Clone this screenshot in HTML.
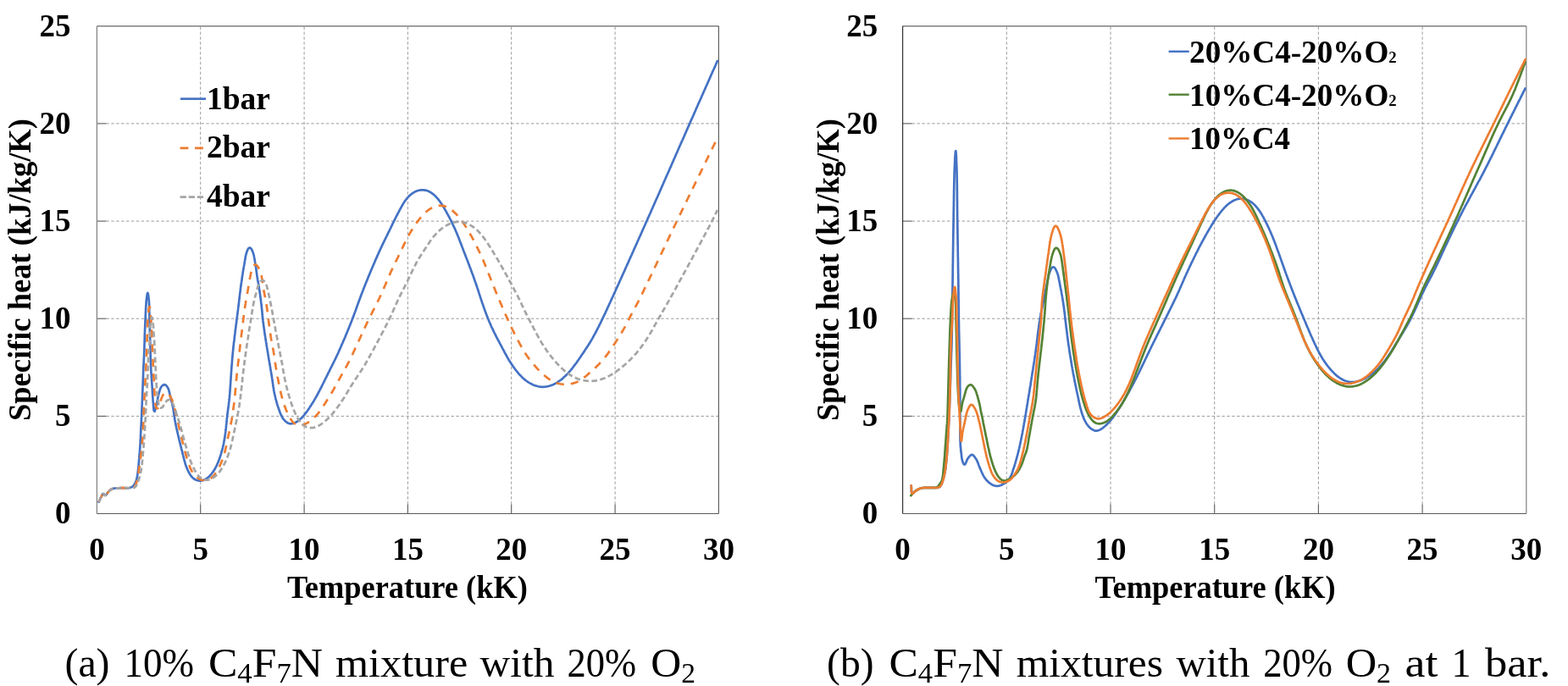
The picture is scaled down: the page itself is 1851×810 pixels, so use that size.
<!DOCTYPE html>
<html><head><meta charset="utf-8"><title>Specific heat of C4F7N mixtures</title>
<style>html,body{margin:0;padding:0;background:#fff;overflow:hidden}svg{display:block}</style></head>
<body><svg width="1851" height="810" viewBox="0 0 1851 810">
<rect width="1851" height="810" fill="#fff"/>
<line x1="125.4" y1="491.4" x2="848.4" y2="491.4" stroke="#9a9a9a" stroke-width="1" stroke-dasharray="3.4 2.5"/>
<line x1="125.4" y1="376.2" x2="848.4" y2="376.2" stroke="#9a9a9a" stroke-width="1" stroke-dasharray="3.4 2.5"/>
<line x1="125.4" y1="261.1" x2="848.4" y2="261.1" stroke="#9a9a9a" stroke-width="1" stroke-dasharray="3.4 2.5"/>
<line x1="125.4" y1="145.9" x2="848.4" y2="145.9" stroke="#9a9a9a" stroke-width="1" stroke-dasharray="3.4 2.5"/>
<line x1="236.7" y1="595.5" x2="236.7" y2="30.8" stroke="#9a9a9a" stroke-width="1" stroke-dasharray="3.4 2.5"/>
<line x1="359.1" y1="595.5" x2="359.1" y2="30.8" stroke="#9a9a9a" stroke-width="1" stroke-dasharray="3.4 2.5"/>
<line x1="481.4" y1="595.5" x2="481.4" y2="30.8" stroke="#9a9a9a" stroke-width="1" stroke-dasharray="3.4 2.5"/>
<line x1="603.7" y1="595.5" x2="603.7" y2="30.8" stroke="#9a9a9a" stroke-width="1" stroke-dasharray="3.4 2.5"/>
<line x1="726.1" y1="595.5" x2="726.1" y2="30.8" stroke="#9a9a9a" stroke-width="1" stroke-dasharray="3.4 2.5"/>
<line x1="114.4" y1="491.4" x2="125.4" y2="491.4" stroke="#595959" stroke-width="1.1"/>
<line x1="114.4" y1="376.2" x2="125.4" y2="376.2" stroke="#595959" stroke-width="1.1"/>
<line x1="114.4" y1="261.1" x2="125.4" y2="261.1" stroke="#595959" stroke-width="1.1"/>
<line x1="114.4" y1="145.9" x2="125.4" y2="145.9" stroke="#595959" stroke-width="1.1"/>
<line x1="236.7" y1="606.5" x2="236.7" y2="595.5" stroke="#595959" stroke-width="1.1"/>
<line x1="359.1" y1="606.5" x2="359.1" y2="595.5" stroke="#595959" stroke-width="1.1"/>
<line x1="481.4" y1="606.5" x2="481.4" y2="595.5" stroke="#595959" stroke-width="1.1"/>
<line x1="603.7" y1="606.5" x2="603.7" y2="595.5" stroke="#595959" stroke-width="1.1"/>
<line x1="726.1" y1="606.5" x2="726.1" y2="595.5" stroke="#595959" stroke-width="1.1"/>
<line x1="114.4" y1="30.8" x2="848.4" y2="30.8" stroke="#666666" stroke-width="1.2"/>
<line x1="114.4" y1="30.8" x2="114.4" y2="606.5" stroke="#808080" stroke-width="1.2"/>
<line x1="848.4" y1="30.8" x2="848.4" y2="606.5" stroke="#5f5f5f" stroke-width="1.2"/>
<line x1="114.4" y1="606.5" x2="848.4" y2="606.5" stroke="#595959" stroke-width="1.2"/>
<text x="83.5" y="618.3" text-anchor="end" font-size="37" font-family="'Liberation Serif','Times New Roman',serif" font-weight="bold">0</text>
<text x="83.5" y="503.2" text-anchor="end" font-size="37" font-family="'Liberation Serif','Times New Roman',serif" font-weight="bold">5</text>
<text x="83.5" y="388.0" text-anchor="end" font-size="37" font-family="'Liberation Serif','Times New Roman',serif" font-weight="bold">10</text>
<text x="83.5" y="272.9" text-anchor="end" font-size="37" font-family="'Liberation Serif','Times New Roman',serif" font-weight="bold">15</text>
<text x="83.5" y="157.7" text-anchor="end" font-size="37" font-family="'Liberation Serif','Times New Roman',serif" font-weight="bold">20</text>
<text x="83.5" y="42.6" text-anchor="end" font-size="37" font-family="'Liberation Serif','Times New Roman',serif" font-weight="bold">25</text>
<text x="114.4" y="660.5" text-anchor="middle" font-size="37" font-family="'Liberation Serif','Times New Roman',serif" font-weight="bold">0</text>
<text x="236.7" y="660.5" text-anchor="middle" font-size="37" font-family="'Liberation Serif','Times New Roman',serif" font-weight="bold">5</text>
<text x="359.1" y="660.5" text-anchor="middle" font-size="37" font-family="'Liberation Serif','Times New Roman',serif" font-weight="bold">10</text>
<text x="481.4" y="660.5" text-anchor="middle" font-size="37" font-family="'Liberation Serif','Times New Roman',serif" font-weight="bold">15</text>
<text x="603.7" y="660.5" text-anchor="middle" font-size="37" font-family="'Liberation Serif','Times New Roman',serif" font-weight="bold">20</text>
<text x="726.1" y="660.5" text-anchor="middle" font-size="37" font-family="'Liberation Serif','Times New Roman',serif" font-weight="bold">25</text>
<text x="848.4" y="660.5" text-anchor="middle" font-size="37" font-family="'Liberation Serif','Times New Roman',serif" font-weight="bold">30</text>
<text x="480.9" y="705.8" text-anchor="middle" font-size="38" font-family="'Liberation Serif','Times New Roman',serif" font-weight="bold" textLength="284" lengthAdjust="spacingAndGlyphs">Temperature (kK)</text>
<text transform="translate(36.2,318.6) rotate(-90)" x="0" y="0" text-anchor="middle" font-size="38" font-family="'Liberation Serif','Times New Roman',serif" font-weight="bold" textLength="357" lengthAdjust="spacingAndGlyphs">Specific heat (kJ/kg/K)</text>
<path d="M116.6,592.6 L117.2,591.2 L117.9,589.9 L118.5,588.5 L119.2,587.2 L119.9,585.8 L120.5,584.5 L121.3,583.2 L122.4,583.1 L123.3,584.3 L124.4,585.0 L125.5,584.2 L126.3,582.9 L127.1,581.7 L128.0,580.5 L129.1,579.5 L130.2,578.5 L131.5,577.7 L132.8,577.1 L134.3,576.7 L135.8,576.5 L137.3,576.4 L138.8,576.3 L140.3,576.3 L141.8,576.2 L143.3,576.2 L144.8,576.2 L146.3,576.2 L147.8,576.3 L149.3,576.3 L150.8,576.3 L152.3,576.1 L153.7,575.8 L155.1,575.3 L156.4,574.6 L157.5,573.5 L158.4,572.3 L159.2,571.0 L159.8,569.7 L160.4,568.3 L160.9,566.9 L161.3,565.5 L161.7,564.0 L161.9,562.5 L162.2,561.0 L162.4,559.6 L162.6,558.1 L162.8,556.6 L163.0,555.1 L163.2,553.6 L163.4,552.1 L163.5,550.6 L163.6,549.1 L163.8,547.6 L163.9,546.2 L164.0,544.7 L164.1,543.2 L164.3,541.7 L164.4,540.2 L164.5,538.7 L164.6,537.2 L164.7,535.7 L164.9,534.2 L165.0,532.7 L165.1,531.2 L165.2,529.7 L165.3,528.2 L165.4,526.7 L165.5,525.2 L165.6,523.7 L165.7,522.2 L165.7,520.7 L165.8,519.2 L165.9,517.7 L166.0,516.2 L166.0,514.7 L166.1,513.2 L166.2,511.7 L166.2,510.2 L166.3,508.7 L166.4,507.2 L166.4,505.7 L166.5,504.2 L166.6,502.7 L166.7,501.2 L166.7,499.7 L166.8,498.2 L166.9,496.7 L167.0,495.2 L167.0,493.7 L167.1,492.3 L167.2,490.8 L167.2,489.3 L167.3,487.8 L167.4,486.3 L167.4,484.8 L167.5,483.3 L167.5,481.8 L167.6,480.3 L167.7,478.8 L167.7,477.3 L167.8,475.8 L167.8,474.3 L167.9,472.8 L168.0,471.3 L168.0,469.8 L168.1,468.3 L168.1,466.8 L168.2,465.3 L168.2,463.8 L168.3,462.3 L168.4,460.8 L168.4,459.3 L168.5,457.8 L168.5,456.3 L168.6,454.8 L168.6,453.3 L168.7,451.8 L168.8,450.3 L168.8,448.8 L168.9,447.3 L168.9,445.8 L169.0,444.3 L169.0,442.8 L169.1,441.3 L169.1,439.8 L169.2,438.3 L169.2,436.8 L169.3,435.3 L169.3,433.8 L169.4,432.3 L169.5,430.8 L169.6,429.3 L169.7,427.8 L169.7,426.3 L169.8,424.8 L169.9,423.3 L170.0,421.8 L170.1,420.3 L170.1,418.8 L170.2,417.3 L170.2,415.8 L170.3,414.3 L170.4,412.8 L170.4,411.3 L170.4,409.8 L170.5,408.3 L170.5,406.8 L170.6,405.3 L170.6,403.8 L170.7,402.3 L170.7,400.8 L170.7,399.3 L170.8,397.8 L170.8,396.3 L170.9,394.8 L170.9,393.3 L171.0,391.8 L171.0,390.3 L171.1,388.8 L171.2,387.3 L171.2,385.8 L171.3,384.3 L171.3,382.8 L171.4,381.3 L171.5,379.8 L171.5,378.3 L171.6,376.8 L171.7,375.3 L171.7,373.8 L171.8,372.3 L171.9,370.8 L171.9,369.3 L172.0,367.9 L172.1,366.4 L172.1,364.9 L172.2,363.4 L172.3,361.9 L172.4,360.4 L172.5,358.9 L172.6,357.4 L172.7,355.9 L172.8,354.4 L173.0,352.9 L173.2,351.4 L173.4,349.9 L173.6,348.4 L173.8,346.9 L174.3,345.8 L174.9,347.3 L175.1,348.8 L175.3,350.3 L175.5,351.8 L175.6,353.3 L175.8,354.8 L175.9,356.3 L176.0,357.8 L176.1,359.3 L176.1,360.8 L176.2,362.3 L176.2,363.8 L176.2,365.3 L176.2,366.8 L176.3,368.3 L176.3,369.7 L176.4,371.2 L176.4,372.7 L176.4,374.2 L176.5,375.7 L176.5,377.2 L176.6,378.7 L176.6,380.2 L176.7,381.7 L176.7,383.2 L176.7,384.7 L176.8,386.2 L176.8,387.7 L176.9,389.2 L176.9,390.7 L176.9,392.2 L177.0,393.7 L177.0,395.2 L177.1,396.7 L177.1,398.2 L177.1,399.7 L177.2,401.2 L177.2,402.7 L177.3,404.2 L177.3,405.7 L177.3,407.2 L177.4,408.7 L177.4,410.2 L177.5,411.7 L177.5,413.2 L177.5,414.7 L177.6,416.2 L177.6,417.7 L177.7,419.2 L177.7,420.7 L177.7,422.2 L177.8,423.7 L177.8,425.2 L177.9,426.7 L177.9,428.2 L178.0,429.7 L178.0,431.2 L178.1,432.7 L178.2,434.2 L178.2,435.7 L178.3,437.2 L178.4,438.7 L178.5,440.2 L178.6,441.7 L178.7,443.2 L178.8,444.7 L178.9,446.2 L179.0,447.7 L179.1,449.2 L179.2,450.7 L179.3,452.2 L179.4,453.7 L179.5,455.2 L179.6,456.7 L179.7,458.2 L179.8,459.7 L179.9,461.2 L179.9,462.7 L180.0,464.2 L180.1,465.7 L180.2,467.2 L180.3,468.7 L180.4,470.2 L180.5,471.6 L180.6,473.1 L180.7,474.6 L180.9,476.1 L181.0,477.6 L181.1,479.1 L181.2,480.6 L181.3,482.1 L181.5,483.6 L181.7,485.1 L182.6,485.8 L183.1,484.4 L183.5,482.9 L183.8,481.5 L184.2,480.0 L184.5,478.6 L184.9,477.1 L185.2,475.6 L185.5,474.2 L185.8,472.7 L186.1,471.2 L186.3,469.8 L186.6,468.3 L187.0,466.8 L187.3,465.4 L187.7,463.9 L188.2,462.5 L188.6,461.0 L189.0,459.6 L189.6,458.2 L190.3,456.9 L191.3,455.7 L192.4,454.8 L193.7,454.1 L195.1,454.3 L196.3,455.3 L197.2,456.4 L198.0,457.7 L198.7,459.0 L199.2,460.4 L199.6,461.9 L200.0,463.3 L200.3,464.8 L200.7,466.3 L201.0,467.7 L201.4,469.2 L201.8,470.6 L202.1,472.1 L202.5,473.5 L202.8,475.0 L203.2,476.4 L203.5,477.9 L203.8,479.4 L204.1,480.8 L204.4,482.3 L204.7,483.8 L204.9,485.3 L205.1,486.8 L205.3,488.3 L205.5,489.7 L205.8,491.2 L206.0,492.7 L206.2,494.2 L206.4,495.7 L206.7,497.2 L206.9,498.6 L207.2,500.1 L207.5,501.6 L207.8,503.0 L208.1,504.5 L208.4,506.0 L208.8,507.4 L209.1,508.9 L209.5,510.4 L209.8,511.8 L210.1,513.3 L210.5,514.7 L210.8,516.2 L211.2,517.7 L211.5,519.1 L211.9,520.6 L212.2,522.0 L212.6,523.5 L212.9,524.9 L213.3,526.4 L213.7,527.9 L214.0,529.3 L214.4,530.8 L214.8,532.2 L215.2,533.7 L215.5,535.1 L215.9,536.6 L216.2,538.0 L216.6,539.5 L217.0,541.0 L217.3,542.4 L217.7,543.9 L218.1,545.3 L218.5,546.7 L218.9,548.2 L219.4,549.6 L219.9,551.0 L220.5,552.4 L221.1,553.8 L221.7,555.2 L222.3,556.5 L223.0,557.8 L223.7,559.2 L224.5,560.4 L225.3,561.7 L226.3,562.9 L227.3,564.0 L228.4,564.9 L229.6,565.8 L231.0,566.5 L232.3,567.0 L233.8,567.4 L235.2,567.6 L236.7,567.6 L238.2,567.4 L239.6,567.1 L241.0,566.6 L242.4,565.9 L243.6,565.2 L244.9,564.3 L246.0,563.4 L247.1,562.4 L248.2,561.3 L249.2,560.2 L250.1,559.0 L251.0,557.8 L251.9,556.6 L252.7,555.3 L253.5,554.0 L254.2,552.7 L254.9,551.4 L255.6,550.1 L256.2,548.7 L256.8,547.3 L257.4,546.0 L257.9,544.6 L258.5,543.2 L259.0,541.8 L259.5,540.3 L260.0,538.9 L260.4,537.5 L260.9,536.1 L261.3,534.6 L261.7,533.2 L262.1,531.7 L262.5,530.3 L262.9,528.8 L263.2,527.4 L263.5,525.9 L263.9,524.5 L264.2,523.0 L264.4,521.5 L264.7,520.0 L265.0,518.6 L265.2,517.1 L265.5,515.6 L265.7,514.1 L265.9,512.6 L266.1,511.1 L266.3,509.7 L266.4,508.2 L266.6,506.7 L266.8,505.2 L266.9,503.7 L267.1,502.2 L267.2,500.7 L267.4,499.2 L267.5,497.7 L267.7,496.2 L267.8,494.7 L268.0,493.2 L268.2,491.8 L268.3,490.3 L268.5,488.8 L268.7,487.3 L268.9,485.8 L269.1,484.3 L269.3,482.8 L269.5,481.3 L269.7,479.8 L269.9,478.4 L270.0,476.9 L270.2,475.4 L270.4,473.9 L270.5,472.4 L270.7,470.9 L270.9,469.4 L271.0,467.9 L271.1,466.4 L271.3,464.9 L271.4,463.4 L271.5,461.9 L271.6,460.4 L271.7,459.0 L271.8,457.5 L271.9,456.0 L272.0,454.5 L272.1,453.0 L272.2,451.5 L272.3,450.0 L272.4,448.5 L272.5,447.0 L272.6,445.5 L272.7,444.0 L272.8,442.5 L272.9,441.0 L273.0,439.5 L273.1,438.0 L273.2,436.5 L273.3,435.0 L273.4,433.5 L273.5,432.0 L273.7,430.5 L273.8,429.0 L273.9,427.5 L274.0,426.0 L274.1,424.5 L274.2,423.0 L274.4,421.5 L274.5,420.1 L274.6,418.6 L274.8,417.1 L274.9,415.6 L275.1,414.1 L275.2,412.6 L275.4,411.1 L275.5,409.6 L275.7,408.1 L275.9,406.6 L276.0,405.1 L276.2,403.6 L276.4,402.2 L276.6,400.7 L276.7,399.2 L276.9,397.7 L277.1,396.2 L277.3,394.7 L277.5,393.2 L277.6,391.7 L277.8,390.2 L278.0,388.7 L278.2,387.3 L278.4,385.8 L278.6,384.3 L278.8,382.8 L279.0,381.3 L279.2,379.8 L279.3,378.3 L279.5,376.8 L279.7,375.4 L279.9,373.9 L280.1,372.4 L280.3,370.9 L280.5,369.4 L280.7,367.9 L280.9,366.4 L281.1,364.9 L281.2,363.5 L281.4,362.0 L281.6,360.5 L281.8,359.0 L282.0,357.5 L282.2,356.0 L282.3,354.5 L282.5,353.0 L282.7,351.5 L282.8,350.1 L283.0,348.6 L283.2,347.1 L283.4,345.6 L283.6,344.1 L283.8,342.6 L283.9,341.1 L284.1,339.6 L284.3,338.1 L284.5,336.7 L284.7,335.2 L284.9,333.7 L285.2,332.2 L285.4,330.7 L285.6,329.2 L285.8,327.7 L286.0,326.3 L286.2,324.8 L286.5,323.3 L286.7,321.8 L286.9,320.3 L287.2,318.9 L287.4,317.4 L287.7,315.9 L287.9,314.4 L288.2,312.9 L288.5,311.5 L288.7,310.0 L289.0,308.5 L289.2,307.0 L289.5,305.6 L289.7,304.1 L290.0,302.6 L290.3,301.1 L290.7,299.7 L291.1,298.2 L291.6,296.8 L292.1,295.4 L292.8,294.1 L293.5,293.1 L294.8,292.4 L296.0,293.1 L296.8,294.1 L297.5,295.4 L298.1,296.8 L298.7,298.2 L299.1,299.6 L299.5,301.0 L299.9,302.5 L300.1,304.0 L300.4,305.4 L300.7,306.9 L300.9,308.4 L301.1,309.9 L301.4,311.4 L301.6,312.8 L301.9,314.3 L302.1,315.8 L302.3,317.3 L302.5,318.8 L302.7,320.3 L302.9,321.8 L303.1,323.2 L303.3,324.7 L303.5,326.2 L303.8,327.7 L304.0,329.2 L304.2,330.7 L304.5,332.1 L304.8,333.6 L305.0,335.1 L305.3,336.6 L305.6,338.0 L305.8,339.5 L306.0,341.0 L306.3,342.5 L306.5,344.0 L306.7,345.5 L306.9,346.9 L307.1,348.4 L307.3,349.9 L307.5,351.4 L307.7,352.9 L307.9,354.4 L308.1,355.9 L308.2,357.4 L308.4,358.8 L308.6,360.3 L308.8,361.8 L308.9,363.3 L309.1,364.8 L309.2,366.3 L309.4,367.8 L309.5,369.3 L309.6,370.8 L309.8,372.3 L309.9,373.8 L310.1,375.3 L310.3,376.7 L310.4,378.2 L310.6,379.7 L310.8,381.2 L311.0,382.7 L311.2,384.2 L311.4,385.7 L311.6,387.2 L311.8,388.6 L312.0,390.1 L312.2,391.6 L312.4,393.1 L312.6,394.6 L312.9,396.1 L313.1,397.6 L313.3,399.0 L313.6,400.5 L313.8,402.0 L314.0,403.5 L314.3,405.0 L314.5,406.4 L314.7,407.9 L315.0,409.4 L315.2,410.9 L315.5,412.4 L315.7,413.8 L316.0,415.3 L316.2,416.8 L316.4,418.3 L316.7,419.8 L316.9,421.2 L317.2,422.7 L317.4,424.2 L317.7,425.7 L317.9,427.2 L318.2,428.6 L318.4,430.1 L318.7,431.6 L318.9,433.1 L319.2,434.6 L319.4,436.0 L319.7,437.5 L319.9,439.0 L320.2,440.5 L320.4,442.0 L320.7,443.4 L320.9,444.9 L321.1,446.4 L321.4,447.9 L321.6,449.4 L321.8,450.8 L322.0,452.3 L322.2,453.8 L322.4,455.3 L322.6,456.8 L322.9,458.3 L323.1,459.8 L323.3,461.2 L323.6,462.7 L323.9,464.2 L324.2,465.6 L324.6,467.1 L324.9,468.6 L325.2,470.0 L325.6,471.5 L326.0,472.9 L326.4,474.4 L326.8,475.8 L327.2,477.3 L327.6,478.7 L328.1,480.1 L328.6,481.5 L329.1,483.0 L329.6,484.4 L330.1,485.8 L330.6,487.2 L331.2,488.6 L331.8,489.9 L332.4,491.3 L333.2,492.6 L333.9,493.9 L334.8,495.1 L335.8,496.2 L336.8,497.3 L337.9,498.2 L339.1,499.1 L340.4,499.7 L341.8,500.1 L343.1,500.3 L344.5,500.2 L345.9,500.0 L347.3,499.6 L348.6,499.0 L349.9,498.3 L351.2,497.5 L352.4,496.7 L353.5,495.8 L354.6,494.8 L355.7,493.8 L356.8,492.7 L357.8,491.6 L358.7,490.5 L359.7,489.3 L360.6,488.1 L361.5,486.9 L362.4,485.7 L363.3,484.5 L364.1,483.3 L365.0,482.0 L365.8,480.8 L366.6,479.5 L367.4,478.3 L368.2,477.0 L369.0,475.7 L369.8,474.5 L370.6,473.2 L371.3,471.9 L372.1,470.6 L372.8,469.3 L373.5,468.0 L374.3,466.7 L375.0,465.3 L375.7,464.0 L376.4,462.7 L377.1,461.4 L377.8,460.0 L378.5,458.7 L379.2,457.4 L379.8,456.0 L380.5,454.7 L381.2,453.3 L381.8,452.0 L382.5,450.7 L383.2,449.3 L383.8,448.0 L384.5,446.6 L385.2,445.3 L385.8,443.9 L386.5,442.6 L387.2,441.2 L387.8,439.9 L388.5,438.6 L389.2,437.2 L389.8,435.9 L390.5,434.5 L391.2,433.2 L391.9,431.9 L392.5,430.5 L393.2,429.2 L393.9,427.8 L394.5,426.5 L395.2,425.1 L395.9,423.8 L396.5,422.4 L397.2,421.1 L397.8,419.7 L398.4,418.4 L399.1,417.0 L399.7,415.7 L400.3,414.3 L400.9,412.9 L401.5,411.5 L402.1,410.2 L402.7,408.8 L403.3,407.4 L403.9,406.0 L404.5,404.7 L405.1,403.3 L405.7,401.9 L406.3,400.5 L406.9,399.2 L407.5,397.8 L408.0,396.4 L408.6,395.0 L409.2,393.6 L409.8,392.2 L410.3,390.8 L410.9,389.5 L411.5,388.1 L412.0,386.7 L412.6,385.3 L413.2,383.9 L413.7,382.5 L414.3,381.1 L414.8,379.7 L415.4,378.3 L415.9,376.9 L416.4,375.5 L417.0,374.1 L417.5,372.7 L418.0,371.3 L418.5,369.9 L419.1,368.5 L419.6,367.1 L420.1,365.7 L420.6,364.3 L421.1,362.8 L421.6,361.4 L422.1,360.0 L422.6,358.6 L423.1,357.2 L423.6,355.8 L424.2,354.4 L424.7,353.0 L425.2,351.6 L425.7,350.2 L426.2,348.8 L426.8,347.4 L427.3,346.0 L427.8,344.6 L428.4,343.2 L428.9,341.8 L429.5,340.4 L430.0,339.0 L430.6,337.6 L431.1,336.2 L431.7,334.8 L432.3,333.4 L432.8,332.0 L433.4,330.6 L434.0,329.2 L434.5,327.8 L435.1,326.4 L435.7,325.1 L436.2,323.7 L436.8,322.3 L437.4,320.9 L438.0,319.5 L438.5,318.1 L439.1,316.8 L439.7,315.4 L440.3,314.0 L440.9,312.6 L441.5,311.2 L442.1,309.9 L442.7,308.5 L443.2,307.1 L443.8,305.7 L444.5,304.4 L445.1,303.0 L445.7,301.6 L446.3,300.2 L446.9,298.9 L447.5,297.5 L448.1,296.1 L448.8,294.8 L449.4,293.4 L450.0,292.1 L450.7,290.7 L451.3,289.3 L452.0,288.0 L452.6,286.6 L453.3,285.3 L453.9,283.9 L454.6,282.6 L455.2,281.2 L455.9,279.9 L456.6,278.6 L457.2,277.2 L457.9,275.9 L458.5,274.5 L459.2,273.2 L459.9,271.8 L460.5,270.5 L461.2,269.1 L461.8,267.8 L462.5,266.4 L463.1,265.1 L463.8,263.7 L464.4,262.4 L465.1,261.0 L465.8,259.7 L466.4,258.4 L467.1,257.0 L467.8,255.7 L468.5,254.3 L469.2,253.0 L469.9,251.7 L470.6,250.4 L471.3,249.0 L472.0,247.7 L472.7,246.4 L473.4,245.1 L474.1,243.8 L474.9,242.5 L475.6,241.2 L476.4,239.9 L477.2,238.6 L478.0,237.4 L478.9,236.2 L479.8,235.0 L480.7,233.9 L481.7,232.8 L482.7,231.7 L483.7,230.7 L484.8,229.8 L486.0,228.9 L487.2,228.0 L488.4,227.3 L489.6,226.6 L490.9,226.0 L492.2,225.4 L493.6,225.0 L494.9,224.7 L496.3,224.4 L497.7,224.3 L499.1,224.3 L500.5,224.4 L501.8,224.6 L503.2,224.9 L504.5,225.3 L505.8,225.8 L507.1,226.5 L508.3,227.2 L509.5,227.9 L510.7,228.8 L511.9,229.7 L513.0,230.6 L514.0,231.7 L515.0,232.7 L516.0,233.8 L517.0,234.9 L517.9,236.1 L518.8,237.3 L519.7,238.5 L520.6,239.7 L521.4,240.9 L522.2,242.2 L523.0,243.5 L523.8,244.7 L524.5,246.0 L525.3,247.3 L526.0,248.6 L526.8,249.9 L527.5,251.3 L528.2,252.6 L528.9,253.9 L529.6,255.2 L530.3,256.5 L531.0,257.9 L531.7,259.2 L532.4,260.5 L533.0,261.9 L533.7,263.2 L534.3,264.6 L535.0,265.9 L535.6,267.3 L536.3,268.6 L536.9,270.0 L537.5,271.4 L538.1,272.8 L538.7,274.1 L539.3,275.5 L539.8,276.9 L540.4,278.3 L541.0,279.7 L541.5,281.1 L542.1,282.5 L542.6,283.9 L543.1,285.3 L543.7,286.7 L544.2,288.1 L544.8,289.5 L545.3,290.9 L545.8,292.3 L546.4,293.7 L546.9,295.1 L547.4,296.5 L548.0,297.9 L548.5,299.3 L549.1,300.7 L549.6,302.1 L550.1,303.5 L550.7,304.9 L551.2,306.3 L551.8,307.7 L552.3,309.1 L552.8,310.5 L553.4,311.9 L553.9,313.3 L554.4,314.7 L555.0,316.1 L555.5,317.5 L556.0,318.9 L556.5,320.3 L557.0,321.7 L557.6,323.1 L558.1,324.5 L558.6,325.9 L559.1,327.3 L559.6,328.7 L560.1,330.2 L560.6,331.6 L561.1,333.0 L561.6,334.4 L562.1,335.8 L562.6,337.2 L563.1,338.7 L563.5,340.1 L564.0,341.5 L564.5,342.9 L564.9,344.4 L565.4,345.8 L565.8,347.2 L566.3,348.6 L566.8,350.1 L567.2,351.5 L567.7,352.9 L568.2,354.4 L568.7,355.8 L569.1,357.2 L569.6,358.6 L570.1,360.0 L570.6,361.4 L571.1,362.9 L571.6,364.3 L572.1,365.7 L572.6,367.1 L573.1,368.5 L573.6,369.9 L574.2,371.3 L574.7,372.7 L575.3,374.1 L575.8,375.5 L576.4,376.9 L576.9,378.3 L577.5,379.7 L578.1,381.0 L578.7,382.4 L579.3,383.8 L579.9,385.2 L580.5,386.5 L581.2,387.9 L581.8,389.2 L582.5,390.6 L583.1,391.9 L583.8,393.3 L584.5,394.6 L585.1,396.0 L585.8,397.3 L586.5,398.6 L587.2,400.0 L587.9,401.3 L588.6,402.6 L589.3,403.9 L590.0,405.3 L590.7,406.6 L591.4,407.9 L592.1,409.2 L592.8,410.6 L593.5,411.9 L594.2,413.2 L594.9,414.5 L595.6,415.9 L596.3,417.2 L597.0,418.5 L597.8,419.8 L598.5,421.1 L599.2,422.4 L600.0,423.7 L600.7,425.0 L601.5,426.3 L602.3,427.6 L603.1,428.8 L603.9,430.1 L604.8,431.3 L605.6,432.6 L606.5,433.8 L607.4,435.0 L608.3,436.2 L609.2,437.4 L610.1,438.5 L611.1,439.7 L612.0,440.8 L613.0,442.0 L614.0,443.1 L615.1,444.1 L616.1,445.2 L617.2,446.2 L618.3,447.2 L619.4,448.1 L620.6,449.1 L621.8,450.0 L623.0,450.8 L624.2,451.6 L625.5,452.4 L626.8,453.1 L628.1,453.7 L629.4,454.4 L630.8,454.9 L632.2,455.4 L633.6,455.8 L635.0,456.2 L636.4,456.5 L637.8,456.7 L639.3,456.8 L640.7,456.8 L642.1,456.8 L643.6,456.7 L645.0,456.5 L646.4,456.2 L647.9,455.9 L649.3,455.5 L650.6,455.0 L652.0,454.5 L653.4,453.9 L654.7,453.3 L656.0,452.6 L657.3,451.8 L658.5,451.0 L659.8,450.2 L661.0,449.4 L662.2,448.5 L663.3,447.6 L664.5,446.6 L665.6,445.6 L666.7,444.6 L667.8,443.6 L668.8,442.5 L669.9,441.5 L670.9,440.4 L671.9,439.2 L672.9,438.1 L673.8,437.0 L674.8,435.8 L675.7,434.7 L676.6,433.5 L677.5,432.3 L678.4,431.1 L679.3,429.9 L680.2,428.7 L681.1,427.4 L681.9,426.2 L682.8,425.0 L683.7,423.8 L684.5,422.5 L685.4,421.3 L686.2,420.0 L687.0,418.8 L687.9,417.6 L688.7,416.3 L689.6,415.1 L690.4,413.8 L691.2,412.6 L692.1,411.3 L692.9,410.1 L693.7,408.8 L694.5,407.6 L695.3,406.3 L696.1,405.0 L696.9,403.7 L697.6,402.4 L698.4,401.2 L699.1,399.9 L699.9,398.6 L700.6,397.2 L701.3,395.9 L702.0,394.6 L702.8,393.3 L703.5,392.0 L704.1,390.6 L704.8,389.3 L705.5,388.0 L706.2,386.6 L706.9,385.3 L707.5,383.9 L708.2,382.6 L708.9,381.3 L709.5,379.9 L710.2,378.6 L710.8,377.2 L711.5,375.9 L712.1,374.5 L712.8,373.1 L713.4,371.8 L714.1,370.4 L714.7,369.1 L715.3,367.7 L716.0,366.4 L716.6,365.0 L717.2,363.6 L717.8,362.3 L718.5,360.9 L719.1,359.5 L719.7,358.2 L720.4,356.8 L721.0,355.5 L721.6,354.1 L722.2,352.7 L722.8,351.4 L723.5,350.0 L724.1,348.6 L724.7,347.3 L725.3,345.9 L726.0,344.5 L726.6,343.2 L727.2,341.8 L727.8,340.4 L728.4,339.1 L729.1,337.7 L729.7,336.3 L730.3,335.0 L730.9,333.6 L731.5,332.2 L732.1,330.9 L732.8,329.5 L733.4,328.1 L734.0,326.8 L734.6,325.4 L735.2,324.0 L735.8,322.7 L736.5,321.3 L737.1,319.9 L737.7,318.6 L738.3,317.2 L738.9,315.8 L739.5,314.5 L740.1,313.1 L740.8,311.7 L741.4,310.4 L742.0,309.0 L742.6,307.6 L743.2,306.2 L743.8,304.9 L744.4,303.5 L745.1,302.1 L745.7,300.8 L746.3,299.4 L746.9,298.0 L747.5,296.7 L748.1,295.3 L748.7,293.9 L749.3,292.6 L750.0,291.2 L750.6,289.8 L751.2,288.4 L751.8,287.1 L752.4,285.7 L753.0,284.3 L753.6,283.0 L754.2,281.6 L754.8,280.2 L755.5,278.9 L756.1,277.5 L756.7,276.1 L757.3,274.8 L757.9,273.4 L758.5,272.0 L759.1,270.6 L759.7,269.3 L760.3,267.9 L761.0,266.5 L761.6,265.2 L762.2,263.8 L762.8,262.4 L763.4,261.0 L764.0,259.7 L764.6,258.3 L765.2,256.9 L765.8,255.6 L766.4,254.2 L767.1,252.8 L767.7,251.5 L768.3,250.1 L768.9,248.7 L769.5,247.3 L770.1,246.0 L770.7,244.6 L771.3,243.2 L771.9,241.9 L772.5,240.5 L773.1,239.1 L773.7,237.7 L774.3,236.4 L774.9,235.0 L775.6,233.6 L776.2,232.2 L776.8,230.9 L777.4,229.5 L778.0,228.1 L778.6,226.8 L779.2,225.4 L779.8,224.0 L780.4,222.6 L781.0,221.3 L781.6,219.9 L782.2,218.5 L782.8,217.2 L783.4,215.8 L784.0,214.4 L784.6,213.0 L785.2,211.7 L785.8,210.3 L786.4,208.9 L787.0,207.5 L787.6,206.2 L788.3,204.8 L788.9,203.4 L789.5,202.0 L790.1,200.7 L790.7,199.3 L791.3,197.9 L791.9,196.6 L792.5,195.2 L793.1,193.8 L793.7,192.4 L794.3,191.1 L794.9,189.7 L795.5,188.3 L796.1,186.9 L796.7,185.6 L797.3,184.2 L797.9,182.8 L798.5,181.4 L799.1,180.1 L799.7,178.7 L800.3,177.3 L800.9,176.0 L801.5,174.6 L802.1,173.2 L802.7,171.8 L803.3,170.5 L803.9,169.1 L804.5,167.7 L805.2,166.3 L805.8,165.0 L806.4,163.6 L807.0,162.2 L807.6,160.9 L808.2,159.5 L808.8,158.1 L809.4,156.7 L810.0,155.4 L810.6,154.0 L811.2,152.6 L811.8,151.2 L812.4,149.9 L813.0,148.5 L813.6,147.1 L814.2,145.8 L814.8,144.4 L815.4,143.0 L816.0,141.6 L816.6,140.3 L817.3,138.9 L817.9,137.5 L818.5,136.2 L819.1,134.8 L819.7,133.4 L820.3,132.0 L820.9,130.7 L821.5,129.3 L822.1,127.9 L822.7,126.5 L823.3,125.2 L823.9,123.8 L824.5,122.4 L825.1,121.1 L825.7,119.7 L826.4,118.3 L827.0,116.9 L827.6,115.6 L828.2,114.2 L828.8,112.8 L829.4,111.5 L830.0,110.1 L830.6,108.7 L831.2,107.3 L831.8,106.0 L832.4,104.6 L833.0,103.2 L833.6,101.9 L834.3,100.5 L834.9,99.1 L835.5,97.7 L836.1,96.4 L836.7,95.0 L837.3,93.6 L837.9,92.3 L838.5,90.9 L839.1,89.5 L839.7,88.1 L840.3,86.8 L840.9,85.4 L841.5,84.0 L842.1,82.7 L842.8,81.3 L843.4,79.9 L844.0,78.5 L844.6,77.2 L845.2,75.8 L845.8,74.4 L846.4,73.1 L846.8,72.1" fill="none" stroke="#4472c4" stroke-width="2.7" stroke-linejoin="round" stroke-linecap="round"/>
<path d="M116.6,592.6 L117.2,591.2 L117.9,589.9 L118.5,588.5 L119.2,587.2 L119.9,585.8 L120.5,584.5 L121.3,583.2 L122.4,583.1 L123.3,584.3 L124.4,585.0 L125.5,584.2 L126.3,582.9 L127.1,581.7 L128.0,580.5 L129.1,579.5 L130.2,578.5 L131.5,577.7 L132.8,577.1 L134.3,576.7 L135.8,576.5 L137.3,576.4 L138.8,576.3 L140.3,576.3 L141.8,576.2 L143.3,576.2 L144.8,576.1 L146.3,576.1 L147.8,576.1 L149.3,576.1 L150.8,576.1 L152.3,576.1 L153.8,576.1 L155.3,576.1 L156.7,576.0 L158.1,575.4 L159.1,574.3 L159.9,573.0 L160.5,571.6 L161.0,570.2 L161.5,568.8 L161.9,567.4 L162.2,565.9 L162.5,564.4 L162.8,562.9 L163.0,561.5 L163.3,560.0 L163.5,558.5 L163.7,557.0 L163.9,555.5 L164.1,554.0 L164.3,552.6 L164.6,551.1 L164.8,549.6 L165.0,548.1 L165.2,546.6 L165.4,545.1 L165.6,543.7 L165.8,542.2 L166.0,540.7 L166.1,539.2 L166.3,537.7 L166.5,536.2 L166.7,534.7 L166.8,533.2 L167.0,531.7 L167.2,530.2 L167.3,528.8 L167.5,527.3 L167.6,525.8 L167.7,524.3 L167.9,522.8 L168.0,521.3 L168.1,519.8 L168.3,518.3 L168.4,516.8 L168.5,515.3 L168.6,513.8 L168.7,512.3 L168.8,510.8 L168.9,509.3 L169.0,507.8 L169.0,506.3 L169.1,504.8 L169.2,503.3 L169.3,501.8 L169.3,500.3 L169.4,498.8 L169.5,497.3 L169.5,495.8 L169.5,494.3 L169.6,492.8 L169.6,491.3 L169.6,489.8 L169.7,488.3 L169.7,486.8 L169.8,485.3 L169.8,483.8 L169.9,482.3 L169.9,480.8 L170.0,479.3 L170.1,477.8 L170.2,476.3 L170.2,474.8 L170.3,473.3 L170.4,471.8 L170.5,470.4 L170.6,468.9 L170.6,467.4 L170.7,465.9 L170.8,464.4 L170.9,462.9 L171.0,461.4 L171.0,459.9 L171.1,458.4 L171.2,456.9 L171.3,455.4 L171.3,453.9 L171.4,452.4 L171.5,450.9 L171.6,449.4 L171.6,447.9 L171.7,446.4 L171.8,444.9 L171.9,443.4 L171.9,441.9 L172.0,440.4 L172.1,438.9 L172.2,437.4 L172.3,435.9 L172.3,434.4 L172.4,432.9 L172.5,431.4 L172.6,429.9 L172.6,428.4 L172.7,426.9 L172.8,425.4 L172.8,423.9 L172.9,422.4 L173.0,420.9 L173.0,419.4 L173.1,417.9 L173.1,416.4 L173.2,414.9 L173.2,413.4 L173.2,411.9 L173.3,410.4 L173.3,408.9 L173.4,407.4 L173.4,405.9 L173.5,404.4 L173.5,402.9 L173.6,401.4 L173.6,399.9 L173.7,398.4 L173.7,396.9 L173.8,395.4 L173.8,393.9 L173.9,392.4 L173.9,390.9 L174.0,389.4 L174.0,387.9 L174.0,386.4 L174.1,384.9 L174.1,383.4 L174.2,381.9 L174.3,380.4 L174.4,378.9 L174.5,377.4 L174.6,375.9 L174.7,374.5 L174.8,373.0 L175.0,371.5 L175.1,370.0 L175.3,368.5 L175.5,367.0 L175.6,365.5 L175.8,364.0 L176.1,362.5 L176.8,362.3 L177.1,363.8 L177.2,365.2 L177.4,366.7 L177.5,368.2 L177.7,369.7 L177.8,371.2 L177.9,372.7 L178.0,374.2 L178.2,375.7 L178.3,377.2 L178.4,378.7 L178.5,380.2 L178.6,381.7 L178.7,383.2 L178.8,384.7 L178.8,386.2 L178.9,387.7 L179.0,389.2 L179.1,390.7 L179.1,392.2 L179.2,393.7 L179.2,395.2 L179.3,396.7 L179.4,398.2 L179.5,399.7 L179.5,401.2 L179.6,402.7 L179.6,404.2 L179.7,405.7 L179.8,407.2 L179.8,408.7 L179.9,410.2 L179.9,411.7 L180.0,413.2 L180.1,414.7 L180.1,416.2 L180.2,417.7 L180.2,419.2 L180.3,420.7 L180.4,422.1 L180.4,423.6 L180.5,425.1 L180.5,426.6 L180.6,428.1 L180.7,429.6 L180.7,431.1 L180.8,432.6 L180.9,434.1 L180.9,435.6 L181.0,437.1 L181.1,438.6 L181.2,440.1 L181.3,441.6 L181.3,443.1 L181.4,444.6 L181.5,446.1 L181.6,447.6 L181.7,449.1 L181.8,450.6 L181.8,452.1 L181.9,453.6 L182.0,455.1 L182.0,456.6 L182.1,458.1 L182.2,459.6 L182.2,461.1 L182.3,462.6 L182.4,464.1 L182.5,465.6 L182.7,467.1 L182.8,468.6 L182.9,470.1 L183.1,471.6 L183.2,473.1 L183.3,474.6 L183.4,476.1 L183.6,477.5 L183.8,479.0 L184.1,480.5 L184.6,481.9 L185.7,482.3 L186.8,481.4 L187.7,480.1 L188.3,478.8 L188.8,477.4 L189.1,475.9 L189.5,474.5 L189.8,473.0 L190.2,471.5 L190.7,470.1 L191.3,468.8 L191.9,467.4 L192.6,466.1 L193.5,464.9 L194.7,464.0 L196.1,463.6 L197.5,464.0 L198.6,465.0 L199.6,466.1 L200.5,467.3 L201.3,468.6 L202.0,469.9 L202.7,471.2 L203.3,472.6 L203.8,474.0 L204.3,475.4 L204.8,476.8 L205.2,478.3 L205.6,479.7 L206.0,481.2 L206.3,482.6 L206.7,484.1 L207.0,485.6 L207.4,487.0 L207.7,488.5 L208.0,489.9 L208.4,491.4 L208.7,492.9 L209.1,494.3 L209.4,495.8 L209.7,497.2 L210.1,498.7 L210.4,500.2 L210.8,501.6 L211.1,503.1 L211.4,504.6 L211.8,506.0 L212.1,507.5 L212.4,508.9 L212.8,510.4 L213.1,511.9 L213.4,513.3 L213.8,514.8 L214.1,516.2 L214.5,517.7 L214.9,519.1 L215.2,520.6 L215.6,522.1 L215.9,523.5 L216.3,525.0 L216.6,526.4 L217.0,527.9 L217.4,529.3 L217.7,530.8 L218.1,532.3 L218.5,533.7 L218.9,535.2 L219.3,536.6 L219.7,538.0 L220.2,539.5 L220.6,540.9 L221.1,542.3 L221.6,543.7 L222.0,545.2 L222.5,546.6 L223.0,548.0 L223.5,549.4 L224.0,550.8 L224.5,552.2 L225.1,553.6 L225.8,555.0 L226.5,556.3 L227.2,557.6 L228.1,558.8 L229.0,560.0 L230.0,561.1 L231.0,562.2 L232.1,563.2 L233.3,564.2 L234.5,565.0 L235.8,565.8 L237.1,566.4 L238.5,566.8 L240.0,567.0 L241.5,567.0 L243.0,566.9 L244.4,566.6 L245.8,566.1 L247.2,565.6 L248.5,564.9 L249.7,564.0 L250.9,563.1 L251.9,562.0 L252.9,560.9 L253.8,559.7 L254.6,558.5 L255.5,557.2 L256.3,555.9 L257.0,554.6 L257.8,553.3 L258.5,552.0 L259.2,550.7 L259.8,549.3 L260.4,548.0 L261.0,546.6 L261.6,545.2 L262.2,543.8 L262.7,542.4 L263.2,541.0 L263.7,539.6 L264.1,538.2 L264.6,536.7 L265.0,535.3 L265.4,533.8 L265.7,532.4 L266.1,530.9 L266.4,529.5 L266.8,528.0 L267.1,526.5 L267.4,525.1 L267.7,523.6 L268.0,522.1 L268.3,520.6 L268.6,519.2 L268.9,517.7 L269.2,516.2 L269.5,514.8 L269.8,513.3 L270.2,511.8 L270.5,510.4 L270.8,508.9 L271.1,507.4 L271.4,506.0 L271.7,504.5 L272.0,503.0 L272.3,501.6 L272.6,500.1 L272.9,498.6 L273.2,497.2 L273.5,495.7 L273.7,494.2 L274.0,492.7 L274.2,491.2 L274.5,489.8 L274.7,488.3 L274.9,486.8 L275.1,485.3 L275.3,483.8 L275.5,482.3 L275.7,480.9 L275.9,479.4 L276.1,477.9 L276.3,476.4 L276.4,474.9 L276.6,473.4 L276.8,471.9 L276.9,470.4 L277.1,468.9 L277.3,467.4 L277.4,466.0 L277.6,464.5 L277.7,463.0 L277.8,461.5 L278.0,460.0 L278.1,458.5 L278.2,457.0 L278.4,455.5 L278.5,454.0 L278.6,452.5 L278.8,451.0 L278.9,449.5 L279.0,448.0 L279.2,446.5 L279.3,445.0 L279.5,443.5 L279.6,442.1 L279.8,440.6 L280.0,439.1 L280.1,437.6 L280.3,436.1 L280.4,434.6 L280.6,433.1 L280.8,431.6 L280.9,430.1 L281.1,428.6 L281.3,427.1 L281.5,425.7 L281.6,424.2 L281.8,422.7 L282.0,421.2 L282.1,419.7 L282.3,418.2 L282.5,416.7 L282.7,415.2 L282.8,413.7 L283.0,412.2 L283.2,410.8 L283.4,409.3 L283.5,407.8 L283.7,406.3 L283.9,404.8 L284.1,403.3 L284.2,401.8 L284.4,400.3 L284.6,398.8 L284.8,397.3 L284.9,395.9 L285.1,394.4 L285.3,392.9 L285.5,391.4 L285.7,389.9 L285.9,388.4 L286.0,386.9 L286.2,385.4 L286.4,383.9 L286.6,382.5 L286.8,381.0 L287.0,379.5 L287.1,378.0 L287.3,376.5 L287.5,375.0 L287.7,373.5 L287.9,372.0 L288.1,370.6 L288.3,369.1 L288.5,367.6 L288.7,366.1 L288.9,364.6 L289.1,363.1 L289.3,361.6 L289.5,360.2 L289.8,358.7 L290.0,357.2 L290.2,355.7 L290.5,354.2 L290.8,352.8 L291.0,351.3 L291.3,349.8 L291.6,348.3 L291.9,346.9 L292.1,345.4 L292.4,343.9 L292.6,342.4 L292.9,340.9 L293.1,339.5 L293.3,338.0 L293.6,336.5 L293.8,335.0 L294.1,333.5 L294.3,332.1 L294.6,330.6 L294.9,329.1 L295.2,327.6 L295.5,326.2 L295.8,324.7 L296.1,323.2 L296.4,321.8 L296.7,320.3 L297.1,318.8 L297.5,317.4 L298.0,316.0 L298.7,314.7 L299.5,313.5 L300.5,312.7 L301.9,312.5 L303.0,313.1 L303.9,314.1 L304.7,315.4 L305.4,316.7 L306.1,318.0 L306.7,319.4 L307.2,320.8 L307.7,322.2 L308.2,323.6 L308.5,325.1 L308.9,326.6 L309.1,328.0 L309.4,329.5 L309.6,331.0 L309.8,332.5 L310.0,334.0 L310.2,335.4 L310.4,336.9 L310.6,338.4 L310.9,339.9 L311.1,341.4 L311.3,342.9 L311.6,344.3 L311.9,345.8 L312.2,347.3 L312.5,348.8 L312.8,350.2 L313.1,351.7 L313.4,353.2 L313.7,354.6 L313.9,356.1 L314.2,357.6 L314.5,359.1 L314.7,360.5 L314.9,362.0 L315.1,363.5 L315.3,365.0 L315.5,366.5 L315.7,368.0 L315.9,369.5 L316.1,371.0 L316.2,372.4 L316.4,373.9 L316.6,375.4 L316.8,376.9 L317.0,378.4 L317.2,379.9 L317.4,381.4 L317.6,382.9 L317.8,384.3 L318.0,385.8 L318.2,387.3 L318.4,388.8 L318.6,390.3 L318.8,391.8 L319.0,393.3 L319.3,394.7 L319.5,396.2 L319.7,397.7 L320.0,399.2 L320.2,400.7 L320.5,402.1 L320.8,403.6 L321.1,405.1 L321.3,406.6 L321.6,408.0 L321.9,409.5 L322.1,411.0 L322.4,412.5 L322.7,413.9 L322.9,415.4 L323.2,416.9 L323.4,418.4 L323.6,419.9 L323.8,421.3 L324.1,422.8 L324.3,424.3 L324.5,425.8 L324.7,427.3 L324.9,428.8 L325.2,430.2 L325.4,431.7 L325.6,433.2 L325.9,434.7 L326.1,436.2 L326.4,437.6 L326.6,439.1 L326.9,440.6 L327.1,442.1 L327.4,443.6 L327.6,445.0 L327.9,446.5 L328.2,448.0 L328.5,449.5 L328.8,450.9 L329.1,452.4 L329.3,453.9 L329.6,455.3 L330.0,456.8 L330.3,458.3 L330.6,459.7 L330.9,461.2 L331.3,462.7 L331.6,464.1 L332.0,465.6 L332.3,467.0 L332.7,468.5 L333.1,469.9 L333.5,471.4 L333.9,472.8 L334.3,474.3 L334.8,475.7 L335.2,477.1 L335.7,478.6 L336.2,480.0 L336.7,481.4 L337.3,482.8 L337.8,484.2 L338.4,485.5 L339.0,486.9 L339.7,488.3 L340.3,489.6 L341.0,491.0 L341.7,492.3 L342.4,493.6 L343.2,494.9 L344.0,496.1 L344.9,497.3 L345.8,498.4 L346.8,499.4 L348.0,500.3 L349.2,501.0 L350.5,501.5 L351.9,501.9 L353.3,502.1 L354.7,502.1 L356.1,501.9 L357.5,501.7 L358.8,501.2 L360.2,500.7 L361.5,500.1 L362.8,499.4 L364.0,498.6 L365.2,497.8 L366.4,497.0 L367.6,496.1 L368.8,495.1 L369.9,494.1 L370.9,493.1 L372.0,492.0 L373.0,491.0 L374.0,489.9 L375.0,488.7 L375.9,487.6 L376.8,486.4 L377.7,485.2 L378.6,484.0 L379.4,482.7 L380.3,481.5 L381.1,480.3 L382.0,479.0 L382.8,477.8 L383.6,476.5 L384.4,475.2 L385.2,474.0 L386.0,472.7 L386.8,471.4 L387.6,470.2 L388.4,468.9 L389.2,467.6 L390.0,466.3 L390.7,465.0 L391.5,463.8 L392.3,462.5 L393.0,461.2 L393.8,459.9 L394.5,458.6 L395.2,457.3 L396.0,456.0 L396.7,454.6 L397.4,453.3 L398.1,452.0 L398.9,450.7 L399.6,449.4 L400.3,448.1 L401.0,446.8 L401.8,445.5 L402.5,444.1 L403.2,442.8 L404.0,441.5 L404.7,440.2 L405.5,438.9 L406.2,437.6 L406.9,436.3 L407.7,435.0 L408.4,433.7 L409.1,432.4 L409.8,431.1 L410.5,429.7 L411.2,428.4 L411.9,427.1 L412.6,425.7 L413.2,424.4 L413.9,423.0 L414.5,421.7 L415.2,420.3 L415.8,419.0 L416.5,417.6 L417.1,416.3 L417.7,414.9 L418.4,413.6 L419.0,412.2 L419.6,410.8 L420.3,409.5 L420.9,408.1 L421.5,406.7 L422.1,405.4 L422.8,404.0 L423.4,402.7 L424.0,401.3 L424.7,399.9 L425.3,398.6 L425.9,397.2 L426.5,395.8 L427.2,394.5 L427.8,393.1 L428.4,391.8 L429.0,390.4 L429.7,389.0 L430.3,387.7 L430.9,386.3 L431.6,385.0 L432.2,383.6 L432.9,382.2 L433.5,380.9 L434.2,379.5 L434.8,378.2 L435.5,376.8 L436.1,375.5 L436.8,374.1 L437.4,372.8 L438.1,371.4 L438.8,370.1 L439.4,368.8 L440.1,367.4 L440.8,366.1 L441.5,364.8 L442.2,363.4 L442.8,362.1 L443.5,360.7 L444.2,359.4 L444.9,358.1 L445.5,356.7 L446.2,355.4 L446.9,354.0 L447.5,352.7 L448.2,351.3 L448.8,350.0 L449.5,348.6 L450.1,347.3 L450.7,345.9 L451.3,344.5 L451.9,343.2 L452.5,341.8 L453.1,340.4 L453.7,339.0 L454.3,337.6 L454.9,336.3 L455.4,334.9 L456.0,333.5 L456.6,332.1 L457.2,330.7 L457.8,329.3 L458.4,328.0 L459.0,326.6 L459.6,325.2 L460.2,323.9 L460.8,322.5 L461.4,321.1 L462.0,319.8 L462.7,318.4 L463.3,317.0 L463.9,315.7 L464.6,314.3 L465.2,313.0 L465.9,311.6 L466.6,310.3 L467.2,308.9 L467.9,307.6 L468.5,306.2 L469.2,304.9 L469.9,303.5 L470.5,302.2 L471.2,300.8 L471.8,299.5 L472.5,298.1 L473.1,296.8 L473.7,295.4 L474.4,294.1 L475.0,292.7 L475.7,291.4 L476.3,290.0 L476.9,288.6 L477.6,287.3 L478.3,286.0 L478.9,284.6 L479.6,283.3 L480.3,281.9 L481.0,280.6 L481.7,279.3 L482.4,278.0 L483.1,276.7 L483.9,275.4 L484.6,274.1 L485.4,272.8 L486.2,271.5 L487.0,270.2 L487.8,269.0 L488.6,267.7 L489.4,266.5 L490.2,265.2 L491.1,264.0 L492.0,262.8 L492.9,261.6 L493.8,260.4 L494.7,259.2 L495.6,258.0 L496.6,256.9 L497.5,255.7 L498.5,254.6 L499.5,253.5 L500.6,252.5 L501.6,251.4 L502.7,250.4 L503.8,249.5 L505.0,248.5 L506.2,247.7 L507.4,246.8 L508.6,246.1 L509.9,245.4 L511.2,244.7 L512.5,244.2 L513.9,243.7 L515.2,243.3 L516.6,243.1 L518.0,242.9 L519.4,242.8 L520.8,242.8 L522.2,242.9 L523.6,243.1 L524.9,243.5 L526.3,243.9 L527.6,244.4 L528.9,245.0 L530.1,245.7 L531.3,246.5 L532.5,247.3 L533.7,248.2 L534.8,249.2 L535.9,250.2 L536.9,251.2 L538.0,252.3 L539.0,253.3 L540.0,254.4 L541.0,255.6 L542.0,256.7 L542.9,257.9 L543.8,259.0 L544.7,260.2 L545.6,261.4 L546.5,262.7 L547.4,263.9 L548.2,265.1 L549.0,266.4 L549.8,267.6 L550.6,268.9 L551.4,270.2 L552.2,271.4 L553.0,272.7 L553.7,274.0 L554.5,275.3 L555.2,276.6 L555.9,277.9 L556.7,279.3 L557.4,280.6 L558.1,281.9 L558.8,283.2 L559.5,284.6 L560.2,285.9 L560.8,287.2 L561.5,288.5 L562.2,289.9 L562.9,291.2 L563.6,292.6 L564.2,293.9 L564.9,295.3 L565.5,296.6 L566.2,298.0 L566.8,299.3 L567.5,300.7 L568.1,302.0 L568.7,303.4 L569.3,304.8 L569.9,306.2 L570.5,307.5 L571.1,308.9 L571.6,310.3 L572.2,311.7 L572.8,313.1 L573.3,314.5 L573.9,315.9 L574.4,317.3 L575.0,318.6 L575.5,320.0 L576.1,321.4 L576.6,322.8 L577.2,324.2 L577.8,325.6 L578.3,327.0 L578.9,328.4 L579.4,329.8 L580.0,331.2 L580.5,332.6 L581.1,334.0 L581.6,335.4 L582.2,336.8 L582.8,338.2 L583.3,339.5 L583.9,340.9 L584.5,342.3 L585.0,343.7 L585.6,345.1 L586.2,346.5 L586.8,347.9 L587.3,349.3 L587.9,350.6 L588.5,352.0 L589.1,353.4 L589.6,354.8 L590.2,356.2 L590.8,357.6 L591.4,358.9 L592.0,360.3 L592.6,361.7 L593.2,363.1 L593.8,364.5 L594.3,365.8 L594.9,367.2 L595.5,368.6 L596.1,370.0 L596.7,371.3 L597.4,372.7 L598.0,374.1 L598.6,375.4 L599.2,376.8 L599.8,378.2 L600.4,379.5 L601.1,380.9 L601.7,382.3 L602.3,383.6 L603.0,385.0 L603.6,386.3 L604.3,387.7 L604.9,389.0 L605.6,390.4 L606.3,391.7 L606.9,393.1 L607.6,394.4 L608.3,395.7 L609.0,397.1 L609.6,398.4 L610.3,399.7 L611.0,401.1 L611.7,402.4 L612.4,403.7 L613.1,405.0 L613.8,406.4 L614.6,407.7 L615.3,409.0 L616.0,410.3 L616.8,411.6 L617.5,412.9 L618.3,414.2 L619.1,415.5 L619.8,416.7 L620.7,418.0 L621.5,419.2 L622.3,420.5 L623.2,421.7 L624.1,422.9 L624.9,424.1 L625.9,425.3 L626.8,426.5 L627.7,427.7 L628.7,428.8 L629.6,430.0 L630.6,431.1 L631.6,432.2 L632.6,433.4 L633.6,434.5 L634.6,435.6 L635.6,436.6 L636.7,437.7 L637.7,438.8 L638.8,439.8 L639.9,440.9 L641.0,441.9 L642.1,442.9 L643.2,443.8 L644.4,444.8 L645.5,445.7 L646.7,446.6 L648.0,447.4 L649.2,448.3 L650.5,449.0 L651.7,449.8 L653.0,450.5 L654.4,451.1 L655.7,451.7 L657.1,452.2 L658.5,452.6 L659.9,453.0 L661.3,453.3 L662.7,453.5 L664.2,453.7 L665.6,453.8 L667.1,453.8 L668.6,453.8 L670.0,453.7 L671.5,453.6 L672.9,453.4 L674.4,453.1 L675.8,452.8 L677.2,452.4 L678.6,452.0 L679.9,451.5 L681.3,450.9 L682.6,450.3 L683.9,449.6 L685.1,448.8 L686.4,448.0 L687.6,447.2 L688.8,446.3 L690.0,445.4 L691.2,444.5 L692.3,443.5 L693.5,442.6 L694.6,441.6 L695.7,440.6 L696.9,439.7 L698.0,438.7 L699.1,437.7 L700.2,436.6 L701.3,435.6 L702.4,434.6 L703.5,433.6 L704.5,432.5 L705.6,431.4 L706.7,430.4 L707.7,429.3 L708.7,428.2 L709.7,427.1 L710.7,426.0 L711.7,424.9 L712.7,423.7 L713.7,422.6 L714.6,421.4 L715.5,420.2 L716.4,419.1 L717.3,417.9 L718.2,416.6 L719.1,415.4 L720.0,414.2 L720.8,413.0 L721.6,411.7 L722.5,410.5 L723.3,409.2 L724.1,408.0 L724.9,406.7 L725.8,405.5 L726.6,404.2 L727.4,402.9 L728.2,401.7 L729.0,400.4 L729.8,399.2 L730.6,397.9 L731.4,396.6 L732.2,395.3 L733.0,394.1 L733.8,392.8 L734.5,391.5 L735.3,390.2 L736.0,388.9 L736.8,387.6 L737.5,386.3 L738.2,385.0 L738.9,383.6 L739.6,382.3 L740.3,381.0 L741.0,379.7 L741.7,378.3 L742.4,377.0 L743.1,375.7 L743.7,374.3 L744.4,373.0 L745.1,371.7 L745.8,370.3 L746.5,369.0 L747.3,367.7 L748.0,366.4 L748.7,365.1 L749.4,363.7 L750.1,362.4 L750.8,361.1 L751.5,359.8 L752.2,358.4 L752.9,357.1 L753.6,355.8 L754.3,354.4 L754.9,353.1 L755.6,351.8 L756.3,350.4 L756.9,349.1 L757.6,347.7 L758.3,346.4 L758.9,345.0 L759.6,343.7 L760.2,342.3 L760.9,341.0 L761.5,339.6 L762.2,338.3 L762.8,336.9 L763.5,335.6 L764.1,334.2 L764.8,332.9 L765.4,331.5 L766.1,330.2 L766.7,328.8 L767.4,327.5 L768.0,326.1 L768.7,324.8 L769.3,323.4 L769.9,322.0 L770.6,320.7 L771.2,319.3 L771.9,318.0 L772.5,316.6 L773.2,315.3 L773.8,313.9 L774.5,312.6 L775.1,311.2 L775.7,309.9 L776.4,308.5 L777.0,307.1 L777.7,305.8 L778.3,304.4 L779.0,303.1 L779.6,301.7 L780.2,300.4 L780.9,299.0 L781.5,297.7 L782.2,296.3 L782.8,294.9 L783.5,293.6 L784.1,292.2 L784.7,290.9 L785.4,289.5 L786.0,288.2 L786.7,286.8 L787.3,285.5 L788.0,284.1 L788.6,282.8 L789.3,281.4 L789.9,280.0 L790.6,278.7 L791.2,277.3 L791.8,276.0 L792.5,274.6 L793.1,273.3 L793.8,271.9 L794.4,270.6 L795.1,269.2 L795.7,267.9 L796.4,266.5 L797.0,265.2 L797.7,263.8 L798.3,262.5 L799.0,261.1 L799.6,259.8 L800.3,258.4 L801.0,257.1 L801.6,255.7 L802.3,254.4 L802.9,253.0 L803.6,251.7 L804.2,250.3 L804.9,249.0 L805.5,247.6 L806.2,246.3 L806.8,244.9 L807.5,243.6 L808.2,242.2 L808.8,240.9 L809.5,239.5 L810.1,238.2 L810.8,236.8 L811.4,235.5 L812.1,234.1 L812.7,232.8 L813.4,231.4 L814.1,230.1 L814.7,228.7 L815.4,227.4 L816.0,226.0 L816.7,224.7 L817.3,223.3 L818.0,222.0 L818.7,220.6 L819.3,219.3 L820.0,217.9 L820.6,216.6 L821.3,215.2 L822.0,213.9 L822.6,212.6 L823.3,211.2 L823.9,209.9 L824.6,208.5 L825.2,207.2 L825.9,205.8 L826.6,204.5 L827.2,203.1 L827.9,201.8 L828.5,200.4 L829.2,199.1 L829.9,197.7 L830.5,196.4 L831.2,195.0 L831.8,193.7 L832.5,192.3 L833.1,191.0 L833.8,189.6 L834.5,188.3 L835.1,186.9 L835.8,185.6 L836.4,184.2 L837.1,182.9 L837.8,181.6 L838.4,180.2 L839.1,178.9 L839.7,177.5 L840.4,176.2 L841.0,174.8 L841.7,173.5 L842.4,172.1 L843.0,170.8 L843.7,169.4 L844.3,168.1 L845.0,166.7 L845.6,165.4 L846.3,164.0 L847.0,162.7" fill="none" stroke="#ed7d31" stroke-width="2.7" stroke-dasharray="9.3 8" stroke-linejoin="round"/>
<path d="M116.6,592.6 L117.2,591.2 L117.9,589.9 L118.5,588.5 L119.2,587.2 L119.9,585.8 L120.5,584.5 L121.3,583.2 L122.4,583.1 L123.3,584.3 L124.4,585.0 L125.5,584.2 L126.3,582.9 L127.1,581.7 L128.0,580.5 L129.1,579.5 L130.2,578.5 L131.5,577.7 L132.8,577.1 L134.3,576.7 L135.8,576.5 L137.3,576.4 L138.8,576.3 L140.3,576.3 L141.8,576.2 L143.3,576.2 L144.8,576.1 L146.3,576.1 L147.8,576.1 L149.3,576.1 L150.8,576.1 L152.3,576.1 L153.8,576.1 L155.3,576.2 L156.8,576.2 L158.2,575.9 L159.5,575.1 L160.5,574.0 L161.2,572.7 L161.9,571.4 L162.4,570.0 L163.0,568.6 L163.5,567.2 L164.0,565.8 L164.5,564.3 L164.9,562.9 L165.3,561.4 L165.6,560.0 L165.9,558.5 L166.2,557.0 L166.5,555.6 L166.8,554.1 L167.0,552.6 L167.2,551.1 L167.4,549.6 L167.6,548.1 L167.8,546.7 L167.9,545.2 L168.1,543.7 L168.2,542.2 L168.3,540.7 L168.5,539.2 L168.6,537.7 L168.7,536.2 L168.9,534.7 L169.0,533.2 L169.1,531.7 L169.3,530.2 L169.4,528.7 L169.5,527.2 L169.6,525.7 L169.7,524.2 L169.9,522.7 L170.0,521.3 L170.1,519.8 L170.2,518.3 L170.3,516.8 L170.4,515.3 L170.5,513.8 L170.6,512.3 L170.7,510.8 L170.8,509.3 L170.9,507.8 L171.0,506.3 L171.1,504.8 L171.2,503.3 L171.3,501.8 L171.4,500.3 L171.5,498.8 L171.5,497.3 L171.6,495.8 L171.7,494.3 L171.8,492.8 L171.9,491.3 L171.9,489.8 L172.0,488.3 L172.0,486.8 L172.1,485.3 L172.2,483.8 L172.2,482.3 L172.3,480.8 L172.3,479.3 L172.4,477.8 L172.5,476.3 L172.5,474.8 L172.6,473.3 L172.7,471.8 L172.7,470.3 L172.8,468.8 L172.9,467.3 L173.0,465.8 L173.1,464.3 L173.2,462.8 L173.3,461.3 L173.4,459.8 L173.5,458.4 L173.6,456.9 L173.7,455.4 L173.8,453.9 L173.9,452.4 L173.9,450.9 L174.0,449.4 L174.1,447.9 L174.2,446.4 L174.3,444.9 L174.4,443.4 L174.4,441.9 L174.5,440.4 L174.5,438.9 L174.6,437.4 L174.6,435.9 L174.7,434.4 L174.7,432.9 L174.8,431.4 L174.8,429.9 L174.9,428.4 L174.9,426.9 L175.0,425.4 L175.0,423.9 L175.1,422.4 L175.2,420.9 L175.3,419.4 L175.4,417.9 L175.5,416.4 L175.6,414.9 L175.8,413.4 L175.9,411.9 L176.0,410.4 L176.2,408.9 L176.3,407.4 L176.4,405.9 L176.6,404.5 L176.7,403.0 L176.8,401.5 L176.9,400.0 L176.9,398.5 L177.0,397.0 L177.1,395.5 L177.1,394.0 L177.1,392.5 L177.2,391.0 L177.3,389.5 L177.3,388.0 L177.4,386.5 L177.5,385.0 L177.7,383.5 L177.9,382.0 L178.0,380.5 L178.2,379.0 L178.4,377.5 L178.7,376.1 L179.1,374.7 L179.8,375.4 L180.0,376.9 L180.2,378.4 L180.4,379.9 L180.6,381.3 L180.7,382.8 L180.9,384.3 L181.0,385.8 L181.1,387.3 L181.2,388.8 L181.3,390.3 L181.3,391.8 L181.4,393.3 L181.5,394.8 L181.7,396.3 L181.8,397.8 L181.9,399.3 L182.0,400.8 L182.1,402.3 L182.2,403.8 L182.3,405.3 L182.4,406.8 L182.5,408.3 L182.6,409.8 L182.6,411.3 L182.7,412.8 L182.8,414.3 L182.8,415.8 L182.9,417.3 L183.0,418.8 L183.0,420.3 L183.1,421.8 L183.2,423.3 L183.2,424.8 L183.3,426.3 L183.4,427.8 L183.4,429.3 L183.5,430.8 L183.5,432.3 L183.6,433.8 L183.7,435.2 L183.8,436.7 L183.8,438.2 L183.9,439.7 L184.0,441.2 L184.1,442.7 L184.1,444.2 L184.2,445.7 L184.3,447.2 L184.4,448.7 L184.5,450.2 L184.6,451.7 L184.6,453.2 L184.7,454.7 L184.9,456.2 L185.0,457.7 L185.1,459.2 L185.2,460.7 L185.3,462.2 L185.5,463.7 L185.6,465.2 L185.8,466.7 L185.9,468.2 L186.1,469.7 L186.3,471.1 L186.5,472.6 L186.8,474.1 L187.0,475.6 L187.2,477.1 L187.4,478.6 L187.8,480.0 L188.5,481.3 L189.8,481.7 L191.2,481.3 L192.3,480.3 L193.0,479.0 L193.6,477.6 L194.4,476.4 L195.3,475.2 L196.3,474.0 L197.3,472.9 L198.5,472.1 L200.0,472.1 L201.2,472.8 L202.3,473.9 L203.1,475.1 L203.8,476.4 L204.5,477.8 L205.1,479.2 L205.7,480.5 L206.2,481.9 L206.7,483.4 L207.1,484.8 L207.6,486.2 L208.0,487.6 L208.5,489.1 L209.0,490.5 L209.4,491.9 L209.9,493.3 L210.4,494.8 L210.8,496.2 L211.3,497.6 L211.7,499.1 L212.2,500.5 L212.6,501.9 L213.0,503.4 L213.4,504.8 L213.8,506.3 L214.2,507.7 L214.6,509.2 L214.9,510.6 L215.3,512.1 L215.7,513.5 L216.1,515.0 L216.5,516.4 L216.9,517.9 L217.3,519.3 L217.7,520.8 L218.1,522.2 L218.5,523.6 L218.9,525.1 L219.4,526.5 L219.8,528.0 L220.2,529.4 L220.7,530.8 L221.1,532.3 L221.5,533.7 L221.9,535.1 L222.4,536.6 L222.8,538.0 L223.3,539.4 L223.7,540.9 L224.2,542.3 L224.7,543.7 L225.3,545.1 L225.8,546.5 L226.4,547.9 L227.0,549.2 L227.7,550.6 L228.3,552.0 L229.0,553.3 L229.6,554.6 L230.3,556.0 L231.1,557.3 L231.8,558.6 L232.7,559.8 L233.6,561.0 L234.5,562.1 L235.6,563.2 L236.8,564.1 L238.0,564.9 L239.3,565.6 L240.7,566.2 L242.1,566.6 L243.6,566.8 L245.0,566.7 L246.5,566.5 L247.9,566.1 L249.3,565.5 L250.6,564.8 L251.9,564.0 L253.1,563.1 L254.3,562.2 L255.4,561.3 L256.5,560.2 L257.5,559.1 L258.5,558.0 L259.4,556.8 L260.2,555.6 L261.1,554.3 L261.9,553.0 L262.7,551.8 L263.4,550.5 L264.1,549.2 L264.8,547.8 L265.5,546.5 L266.2,545.1 L266.8,543.8 L267.4,542.4 L267.9,541.0 L268.5,539.6 L269.0,538.2 L269.5,536.8 L270.0,535.4 L270.5,534.0 L271.0,532.5 L271.4,531.1 L271.9,529.7 L272.3,528.2 L272.6,526.8 L273.0,525.3 L273.4,523.9 L273.7,522.4 L274.0,520.9 L274.4,519.5 L274.7,518.0 L275.0,516.5 L275.3,515.1 L275.6,513.6 L275.9,512.1 L276.2,510.7 L276.5,509.2 L276.8,507.7 L277.2,506.3 L277.5,504.8 L277.8,503.3 L278.1,501.9 L278.4,500.4 L278.7,498.9 L279.0,497.5 L279.3,496.0 L279.6,494.5 L279.9,493.1 L280.2,491.6 L280.5,490.1 L280.8,488.6 L281.1,487.2 L281.3,485.7 L281.6,484.2 L281.8,482.7 L282.1,481.2 L282.3,479.8 L282.6,478.3 L282.8,476.8 L283.0,475.3 L283.2,473.8 L283.4,472.3 L283.6,470.9 L283.8,469.4 L284.0,467.9 L284.1,466.4 L284.3,464.9 L284.5,463.4 L284.7,461.9 L284.8,460.4 L285.0,458.9 L285.2,457.4 L285.3,456.0 L285.5,454.5 L285.6,453.0 L285.8,451.5 L286.0,450.0 L286.1,448.5 L286.3,447.0 L286.4,445.5 L286.6,444.0 L286.8,442.5 L286.9,441.0 L287.1,439.6 L287.3,438.1 L287.5,436.6 L287.6,435.1 L287.8,433.6 L288.0,432.1 L288.2,430.6 L288.4,429.1 L288.6,427.6 L288.8,426.2 L289.0,424.7 L289.2,423.2 L289.4,421.7 L289.6,420.2 L289.8,418.7 L290.0,417.2 L290.2,415.8 L290.4,414.3 L290.7,412.8 L290.9,411.3 L291.1,409.8 L291.3,408.3 L291.5,406.9 L291.8,405.4 L292.0,403.9 L292.2,402.4 L292.4,400.9 L292.7,399.4 L292.9,398.0 L293.1,396.5 L293.3,395.0 L293.6,393.5 L293.8,392.0 L294.0,390.5 L294.3,389.1 L294.5,387.6 L294.7,386.1 L295.0,384.6 L295.2,383.1 L295.4,381.7 L295.7,380.2 L295.9,378.7 L296.2,377.2 L296.4,375.7 L296.6,374.2 L296.9,372.8 L297.1,371.3 L297.3,369.8 L297.6,368.3 L297.8,366.8 L298.0,365.4 L298.3,363.9 L298.6,362.4 L298.8,360.9 L299.1,359.5 L299.4,358.0 L299.7,356.5 L300.0,355.1 L300.4,353.6 L300.7,352.1 L301.1,350.7 L301.5,349.2 L301.9,347.8 L302.3,346.3 L302.6,344.9 L303.0,343.4 L303.4,342.0 L303.8,340.5 L304.2,339.1 L304.6,337.7 L305.2,336.3 L305.8,334.9 L306.5,333.6 L307.4,332.4 L308.4,331.5 L309.5,331.1 L310.7,331.2 L311.8,331.9 L312.8,332.9 L313.6,334.1 L314.2,335.5 L314.6,336.9 L315.0,338.3 L315.4,339.8 L315.7,341.2 L316.1,342.7 L316.4,344.2 L316.8,345.6 L317.1,347.1 L317.4,348.5 L317.8,350.0 L318.1,351.5 L318.4,352.9 L318.7,354.4 L319.0,355.9 L319.3,357.3 L319.6,358.8 L319.9,360.3 L320.2,361.8 L320.5,363.2 L320.7,364.7 L321.0,366.2 L321.3,367.7 L321.5,369.1 L321.8,370.6 L322.1,372.1 L322.3,373.6 L322.6,375.0 L322.9,376.5 L323.1,378.0 L323.4,379.5 L323.7,380.9 L324.0,382.4 L324.2,383.9 L324.5,385.4 L324.8,386.8 L325.1,388.3 L325.3,389.8 L325.6,391.3 L325.9,392.7 L326.2,394.2 L326.5,395.7 L326.7,397.2 L327.0,398.6 L327.3,400.1 L327.6,401.6 L327.9,403.0 L328.2,404.5 L328.5,406.0 L328.7,407.5 L329.0,408.9 L329.3,410.4 L329.6,411.9 L329.9,413.4 L330.2,414.8 L330.5,416.3 L330.7,417.8 L331.0,419.2 L331.3,420.7 L331.6,422.2 L331.9,423.7 L332.2,425.1 L332.4,426.6 L332.7,428.1 L333.0,429.6 L333.3,431.0 L333.5,432.5 L333.8,434.0 L334.0,435.5 L334.3,436.9 L334.5,438.4 L334.8,439.9 L335.0,441.4 L335.3,442.9 L335.6,444.3 L335.8,445.8 L336.1,447.3 L336.5,448.7 L336.8,450.2 L337.1,451.7 L337.4,453.1 L337.8,454.6 L338.1,456.1 L338.5,457.5 L338.9,459.0 L339.2,460.4 L339.6,461.9 L340.0,463.3 L340.4,464.8 L340.8,466.2 L341.2,467.6 L341.7,469.1 L342.1,470.5 L342.5,471.9 L343.0,473.4 L343.5,474.8 L343.9,476.2 L344.4,477.6 L344.9,479.1 L345.5,480.5 L346.0,481.9 L346.5,483.3 L347.1,484.7 L347.7,486.0 L348.3,487.4 L348.9,488.8 L349.5,490.1 L350.2,491.5 L350.9,492.8 L351.6,494.1 L352.4,495.4 L353.2,496.6 L354.1,497.8 L355.0,499.0 L356.0,500.1 L357.0,501.1 L358.1,502.0 L359.3,502.9 L360.5,503.6 L361.8,504.2 L363.2,504.6 L364.5,505.0 L365.9,505.2 L367.3,505.2 L368.7,505.1 L370.1,504.9 L371.5,504.6 L372.8,504.2 L374.1,503.7 L375.4,503.1 L376.7,502.4 L378.0,501.7 L379.2,500.9 L380.4,500.0 L381.6,499.2 L382.8,498.2 L383.9,497.3 L385.0,496.3 L386.1,495.3 L387.2,494.3 L388.2,493.2 L389.3,492.1 L390.3,491.0 L391.3,489.9 L392.3,488.8 L393.2,487.6 L394.2,486.5 L395.1,485.3 L396.0,484.1 L396.9,482.9 L397.8,481.7 L398.7,480.5 L399.6,479.3 L400.5,478.1 L401.3,476.9 L402.2,475.6 L403.0,474.4 L403.8,473.1 L404.7,471.9 L405.5,470.6 L406.3,469.4 L407.1,468.1 L407.9,466.8 L408.6,465.5 L409.4,464.2 L410.2,463.0 L410.9,461.7 L411.7,460.4 L412.5,459.1 L413.2,457.8 L414.0,456.5 L414.8,455.2 L415.6,454.0 L416.4,452.7 L417.2,451.4 L418.0,450.2 L418.8,448.9 L419.6,447.7 L420.5,446.4 L421.3,445.2 L422.1,443.9 L423.0,442.7 L423.8,441.5 L424.7,440.2 L425.5,439.0 L426.3,437.7 L427.1,436.5 L427.9,435.2 L428.7,433.9 L429.5,432.7 L430.3,431.4 L431.1,430.1 L431.8,428.8 L432.6,427.5 L433.3,426.2 L434.0,424.9 L434.8,423.6 L435.5,422.3 L436.2,421.0 L437.0,419.6 L437.7,418.3 L438.4,417.0 L439.1,415.7 L439.9,414.4 L440.6,413.1 L441.3,411.8 L442.0,410.4 L442.7,409.1 L443.4,407.8 L444.2,406.5 L444.9,405.2 L445.6,403.8 L446.3,402.5 L447.0,401.2 L447.7,399.9 L448.4,398.5 L449.1,397.2 L449.8,395.9 L450.5,394.6 L451.2,393.2 L451.9,391.9 L452.6,390.6 L453.2,389.2 L453.9,387.9 L454.6,386.6 L455.3,385.2 L456.0,383.9 L456.7,382.6 L457.3,381.2 L458.0,379.9 L458.7,378.5 L459.3,377.2 L460.0,375.8 L460.6,374.5 L461.3,373.1 L461.9,371.8 L462.5,370.4 L463.2,369.0 L463.8,367.7 L464.4,366.3 L465.0,364.9 L465.6,363.6 L466.2,362.2 L466.8,360.8 L467.4,359.5 L468.1,358.1 L468.7,356.7 L469.3,355.4 L469.9,354.0 L470.6,352.6 L471.2,351.3 L471.9,349.9 L472.5,348.6 L473.2,347.3 L473.9,345.9 L474.6,344.6 L475.2,343.2 L475.9,341.9 L476.6,340.6 L477.3,339.2 L478.0,337.9 L478.6,336.6 L479.3,335.2 L480.0,333.9 L480.7,332.5 L481.3,331.2 L482.0,329.8 L482.6,328.5 L483.3,327.1 L483.9,325.8 L484.6,324.4 L485.2,323.1 L485.8,321.7 L486.5,320.4 L487.1,319.0 L487.8,317.6 L488.4,316.3 L489.1,315.0 L489.8,313.6 L490.5,312.3 L491.2,311.0 L491.9,309.7 L492.6,308.4 L493.4,307.1 L494.1,305.8 L494.9,304.5 L495.7,303.2 L496.5,302.0 L497.3,300.7 L498.1,299.4 L499.0,298.2 L499.8,296.9 L500.6,295.7 L501.4,294.4 L502.2,293.2 L503.1,291.9 L503.9,290.7 L504.7,289.4 L505.5,288.2 L506.4,286.9 L507.2,285.7 L508.0,284.4 L508.9,283.2 L509.8,282.0 L510.7,280.8 L511.6,279.7 L512.6,278.5 L513.6,277.4 L514.6,276.3 L515.6,275.2 L516.6,274.2 L517.7,273.1 L518.8,272.1 L520.0,271.2 L521.1,270.2 L522.3,269.3 L523.5,268.5 L524.7,267.6 L526.0,266.8 L527.2,266.1 L528.5,265.4 L529.9,264.7 L531.2,264.1 L532.6,263.6 L533.9,263.1 L535.3,262.7 L536.7,262.4 L538.2,262.1 L539.6,261.9 L541.0,261.9 L542.4,261.9 L543.9,261.9 L545.3,262.1 L546.7,262.4 L548.1,262.7 L549.5,263.1 L550.8,263.6 L552.2,264.2 L553.5,264.8 L554.8,265.5 L556.0,266.3 L557.3,267.1 L558.5,267.9 L559.7,268.8 L560.8,269.7 L562.0,270.6 L563.1,271.6 L564.2,272.7 L565.2,273.7 L566.2,274.8 L567.2,275.9 L568.2,277.0 L569.1,278.2 L570.1,279.4 L571.0,280.6 L571.8,281.8 L572.7,283.0 L573.6,284.2 L574.4,285.4 L575.3,286.7 L576.1,287.9 L576.9,289.2 L577.7,290.5 L578.5,291.7 L579.3,293.0 L580.1,294.3 L580.9,295.5 L581.7,296.8 L582.5,298.1 L583.2,299.4 L584.0,300.7 L584.8,301.9 L585.6,303.2 L586.3,304.5 L587.1,305.8 L587.9,307.1 L588.6,308.4 L589.4,309.7 L590.1,311.0 L590.9,312.3 L591.6,313.6 L592.3,314.9 L593.1,316.2 L593.8,317.5 L594.5,318.8 L595.2,320.2 L596.0,321.5 L596.7,322.8 L597.4,324.1 L598.1,325.4 L598.9,326.7 L599.6,328.0 L600.3,329.4 L601.0,330.7 L601.7,332.0 L602.4,333.3 L603.2,334.6 L603.9,335.9 L604.6,337.3 L605.3,338.6 L606.0,339.9 L606.7,341.2 L607.4,342.6 L608.1,343.9 L608.8,345.2 L609.5,346.5 L610.2,347.9 L610.9,349.2 L611.6,350.6 L612.2,351.9 L612.9,353.2 L613.5,354.6 L614.2,355.9 L614.8,357.3 L615.5,358.7 L616.1,360.0 L616.7,361.4 L617.4,362.7 L618.0,364.1 L618.7,365.4 L619.3,366.8 L620.0,368.1 L620.6,369.5 L621.3,370.8 L622.0,372.2 L622.6,373.5 L623.3,374.8 L624.0,376.2 L624.7,377.5 L625.4,378.8 L626.1,380.2 L626.8,381.5 L627.5,382.8 L628.2,384.1 L628.9,385.5 L629.6,386.8 L630.3,388.1 L631.0,389.4 L631.7,390.8 L632.4,392.1 L633.1,393.4 L633.8,394.8 L634.5,396.1 L635.2,397.4 L635.9,398.7 L636.7,400.0 L637.4,401.3 L638.2,402.6 L638.9,403.9 L639.7,405.2 L640.5,406.5 L641.3,407.7 L642.1,409.0 L642.9,410.2 L643.8,411.5 L644.6,412.7 L645.4,413.9 L646.3,415.2 L647.2,416.4 L648.1,417.6 L649.0,418.8 L649.9,420.0 L650.8,421.2 L651.7,422.3 L652.7,423.5 L653.6,424.7 L654.6,425.8 L655.6,426.9 L656.6,428.1 L657.6,429.2 L658.6,430.3 L659.6,431.3 L660.7,432.4 L661.7,433.5 L662.8,434.5 L663.9,435.5 L665.0,436.5 L666.1,437.5 L667.3,438.5 L668.5,439.4 L669.6,440.3 L670.8,441.2 L672.1,442.0 L673.3,442.8 L674.6,443.6 L675.8,444.4 L677.1,445.1 L678.5,445.7 L679.8,446.3 L681.2,446.9 L682.6,447.4 L684.0,447.9 L685.4,448.3 L686.8,448.7 L688.3,449.0 L689.7,449.3 L691.2,449.5 L692.7,449.7 L694.1,449.8 L695.6,449.9 L697.1,450.0 L698.5,449.9 L700.0,449.9 L701.5,449.7 L703.0,449.6 L704.4,449.3 L705.9,449.0 L707.3,448.7 L708.7,448.3 L710.1,447.8 L711.5,447.3 L712.9,446.8 L714.3,446.2 L715.6,445.6 L717.0,445.0 L718.3,444.3 L719.6,443.6 L720.9,442.8 L722.2,442.1 L723.4,441.3 L724.7,440.5 L725.9,439.6 L727.2,438.8 L728.4,437.9 L729.6,437.1 L730.8,436.2 L732.0,435.2 L733.2,434.3 L734.3,433.4 L735.5,432.4 L736.6,431.5 L737.8,430.5 L738.9,429.5 L740.0,428.5 L741.1,427.5 L742.2,426.4 L743.3,425.4 L744.3,424.4 L745.4,423.3 L746.4,422.2 L747.5,421.1 L748.5,420.0 L749.5,418.9 L750.5,417.8 L751.5,416.7 L752.4,415.5 L753.4,414.4 L754.3,413.2 L755.2,412.0 L756.1,410.8 L757.0,409.6 L757.9,408.4 L758.8,407.2 L759.7,406.0 L760.5,404.7 L761.4,403.5 L762.2,402.3 L763.0,401.0 L763.8,399.7 L764.6,398.5 L765.4,397.2 L766.2,395.9 L767.0,394.6 L767.7,393.4 L768.5,392.1 L769.3,390.8 L770.0,389.5 L770.7,388.2 L771.5,386.8 L772.2,385.5 L772.9,384.2 L773.7,382.9 L774.4,381.6 L775.1,380.3 L775.9,379.0 L776.6,377.7 L777.3,376.4 L778.1,375.1 L778.8,373.8 L779.6,372.5 L780.3,371.2 L781.1,369.9 L781.8,368.6 L782.6,367.3 L783.3,366.0 L784.1,364.7 L784.8,363.4 L785.6,362.1 L786.3,360.8 L787.1,359.5 L787.8,358.2 L788.5,356.9 L789.3,355.6 L790.0,354.2 L790.7,352.9 L791.5,351.6 L792.2,350.3 L792.9,349.0 L793.6,347.7 L794.4,346.4 L795.1,345.1 L795.8,343.8 L796.5,342.4 L797.3,341.1 L798.0,339.8 L798.7,338.5 L799.4,337.2 L800.2,335.9 L800.9,334.6 L801.6,333.2 L802.3,331.9 L803.0,330.6 L803.8,329.3 L804.5,328.0 L805.2,326.7 L805.9,325.3 L806.6,324.0 L807.4,322.7 L808.1,321.4 L808.8,320.1 L809.5,318.8 L810.2,317.4 L811.0,316.1 L811.7,314.8 L812.4,313.5 L813.1,312.2 L813.8,310.9 L814.5,309.5 L815.3,308.2 L816.0,306.9 L816.7,305.6 L817.4,304.3 L818.1,303.0 L818.8,301.6 L819.6,300.3 L820.3,299.0 L821.0,297.7 L821.7,296.4 L822.4,295.0 L823.1,293.7 L823.8,292.4 L824.6,291.1 L825.3,289.8 L826.0,288.4 L826.7,287.1 L827.4,285.8 L828.1,284.5 L828.8,283.2 L829.5,281.8 L830.2,280.5 L830.9,279.2 L831.7,277.9 L832.4,276.5 L833.1,275.2 L833.8,273.9 L834.5,272.6 L835.2,271.2 L835.9,269.9 L836.6,268.6 L837.3,267.3 L838.0,265.9 L838.6,264.6 L839.3,263.3 L840.0,261.9 L840.7,260.6 L841.4,259.3 L842.0,257.9 L842.7,256.6 L843.4,255.2 L844.0,253.9 L844.7,252.5 L845.3,251.2 L846.0,249.8 L846.6,248.5 L846.8,248.0" fill="none" stroke="#a5a5a5" stroke-width="2.7" stroke-dasharray="6.6 3.5" stroke-linejoin="round"/>
<line x1="213" y1="116.7" x2="243" y2="116.7" stroke="#4472c4" stroke-width="2.7"/>
<line x1="212.6" y1="174.9" x2="240.5" y2="174.9" stroke="#ed7d31" stroke-width="2.7" stroke-dasharray="9.8 7.7"/>
<line x1="212.6" y1="232.6" x2="240.5" y2="232.6" stroke="#a5a5a5" stroke-width="2.7" stroke-dasharray="7.3 2.8"/>
<text x="243.9" y="128.6" font-size="37.5" font-family="'Liberation Serif','Times New Roman',serif" font-weight="bold">1bar</text>
<text x="243.9" y="186.4" font-size="37.5" font-family="'Liberation Serif','Times New Roman',serif" font-weight="bold">2bar</text>
<text x="243.9" y="244.3" font-size="37.5" font-family="'Liberation Serif','Times New Roman',serif" font-weight="bold">4bar</text>
<line x1="1076.6" y1="491.4" x2="1801.8" y2="491.4" stroke="#9a9a9a" stroke-width="1" stroke-dasharray="3.4 2.5"/>
<line x1="1076.6" y1="376.2" x2="1801.8" y2="376.2" stroke="#9a9a9a" stroke-width="1" stroke-dasharray="3.4 2.5"/>
<line x1="1076.6" y1="261.1" x2="1801.8" y2="261.1" stroke="#9a9a9a" stroke-width="1" stroke-dasharray="3.4 2.5"/>
<line x1="1076.6" y1="145.9" x2="1801.8" y2="145.9" stroke="#9a9a9a" stroke-width="1" stroke-dasharray="3.4 2.5"/>
<line x1="1188.3" y1="595.5" x2="1188.3" y2="30.8" stroke="#9a9a9a" stroke-width="1" stroke-dasharray="3.4 2.5"/>
<line x1="1311.0" y1="595.5" x2="1311.0" y2="30.8" stroke="#9a9a9a" stroke-width="1" stroke-dasharray="3.4 2.5"/>
<line x1="1433.7" y1="595.5" x2="1433.7" y2="30.8" stroke="#9a9a9a" stroke-width="1" stroke-dasharray="3.4 2.5"/>
<line x1="1556.4" y1="595.5" x2="1556.4" y2="30.8" stroke="#9a9a9a" stroke-width="1" stroke-dasharray="3.4 2.5"/>
<line x1="1679.1" y1="595.5" x2="1679.1" y2="30.8" stroke="#9a9a9a" stroke-width="1" stroke-dasharray="3.4 2.5"/>
<line x1="1065.6" y1="491.4" x2="1076.6" y2="491.4" stroke="#595959" stroke-width="1.1"/>
<line x1="1065.6" y1="376.2" x2="1076.6" y2="376.2" stroke="#595959" stroke-width="1.1"/>
<line x1="1065.6" y1="261.1" x2="1076.6" y2="261.1" stroke="#595959" stroke-width="1.1"/>
<line x1="1065.6" y1="145.9" x2="1076.6" y2="145.9" stroke="#595959" stroke-width="1.1"/>
<line x1="1188.3" y1="606.5" x2="1188.3" y2="595.5" stroke="#595959" stroke-width="1.1"/>
<line x1="1311.0" y1="606.5" x2="1311.0" y2="595.5" stroke="#595959" stroke-width="1.1"/>
<line x1="1433.7" y1="606.5" x2="1433.7" y2="595.5" stroke="#595959" stroke-width="1.1"/>
<line x1="1556.4" y1="606.5" x2="1556.4" y2="595.5" stroke="#595959" stroke-width="1.1"/>
<line x1="1679.1" y1="606.5" x2="1679.1" y2="595.5" stroke="#595959" stroke-width="1.1"/>
<line x1="1065.6" y1="30.8" x2="1801.8" y2="30.8" stroke="#666666" stroke-width="1.2"/>
<line x1="1065.6" y1="30.8" x2="1065.6" y2="606.5" stroke="#333333" stroke-width="1.2"/>
<line x1="1801.8" y1="30.8" x2="1801.8" y2="606.5" stroke="#808080" stroke-width="1.2"/>
<line x1="1065.6" y1="606.5" x2="1801.8" y2="606.5" stroke="#595959" stroke-width="1.2"/>
<text x="1036.3" y="618.3" text-anchor="end" font-size="37" font-family="'Liberation Serif','Times New Roman',serif" font-weight="bold">0</text>
<text x="1036.3" y="503.2" text-anchor="end" font-size="37" font-family="'Liberation Serif','Times New Roman',serif" font-weight="bold">5</text>
<text x="1036.3" y="388.0" text-anchor="end" font-size="37" font-family="'Liberation Serif','Times New Roman',serif" font-weight="bold">10</text>
<text x="1036.3" y="272.9" text-anchor="end" font-size="37" font-family="'Liberation Serif','Times New Roman',serif" font-weight="bold">15</text>
<text x="1036.3" y="157.7" text-anchor="end" font-size="37" font-family="'Liberation Serif','Times New Roman',serif" font-weight="bold">20</text>
<text x="1036.3" y="42.6" text-anchor="end" font-size="37" font-family="'Liberation Serif','Times New Roman',serif" font-weight="bold">25</text>
<text x="1065.6" y="660.5" text-anchor="middle" font-size="37" font-family="'Liberation Serif','Times New Roman',serif" font-weight="bold">0</text>
<text x="1188.3" y="660.5" text-anchor="middle" font-size="37" font-family="'Liberation Serif','Times New Roman',serif" font-weight="bold">5</text>
<text x="1311.0" y="660.5" text-anchor="middle" font-size="37" font-family="'Liberation Serif','Times New Roman',serif" font-weight="bold">10</text>
<text x="1433.7" y="660.5" text-anchor="middle" font-size="37" font-family="'Liberation Serif','Times New Roman',serif" font-weight="bold">15</text>
<text x="1556.4" y="660.5" text-anchor="middle" font-size="37" font-family="'Liberation Serif','Times New Roman',serif" font-weight="bold">20</text>
<text x="1679.1" y="660.5" text-anchor="middle" font-size="37" font-family="'Liberation Serif','Times New Roman',serif" font-weight="bold">25</text>
<text x="1801.8" y="660.5" text-anchor="middle" font-size="37" font-family="'Liberation Serif','Times New Roman',serif" font-weight="bold">30</text>
<text x="1434.6" y="705.8" text-anchor="middle" font-size="38" font-family="'Liberation Serif','Times New Roman',serif" font-weight="bold" textLength="284" lengthAdjust="spacingAndGlyphs">Temperature (kK)</text>
<text transform="translate(989.9,318.6) rotate(-90)" x="0" y="0" text-anchor="middle" font-size="38" font-family="'Liberation Serif','Times New Roman',serif" font-weight="bold" textLength="357" lengthAdjust="spacingAndGlyphs">Specific heat (kJ/kg/K)</text>
<path d="M1075.7,573.3 L1075.8,574.8 L1075.9,576.3 L1075.9,577.8 L1075.9,579.3 L1076.0,580.8 L1076.3,582.2 L1077.3,582.8 L1078.5,582.0 L1079.5,580.9 L1080.6,579.8 L1081.8,579.0 L1083.1,578.2 L1084.5,577.5 L1085.8,576.9 L1087.3,576.5 L1088.7,576.1 L1090.2,576.0 L1091.7,575.9 L1093.2,575.9 L1094.7,575.9 L1096.2,575.9 L1097.7,575.9 L1099.2,575.9 L1100.7,575.9 L1102.2,575.9 L1103.7,576.0 L1105.2,576.0 L1106.7,575.9 L1108.1,575.5 L1109.4,574.8 L1110.4,573.6 L1111.2,572.3 L1111.8,571.0 L1112.3,569.6 L1112.8,568.1 L1113.2,566.7 L1113.6,565.3 L1114.0,563.8 L1114.4,562.4 L1114.7,560.9 L1115.1,559.4 L1115.4,558.0 L1115.7,556.5 L1116.0,555.0 L1116.2,553.5 L1116.4,552.1 L1116.6,550.6 L1116.7,549.1 L1116.9,547.6 L1117.0,546.1 L1117.2,544.6 L1117.3,543.1 L1117.4,541.6 L1117.6,540.1 L1117.7,538.6 L1117.9,537.1 L1118.0,535.6 L1118.1,534.1 L1118.2,532.6 L1118.3,531.2 L1118.4,529.7 L1118.5,528.2 L1118.6,526.7 L1118.7,525.2 L1118.8,523.7 L1118.9,522.2 L1119.0,520.7 L1119.0,519.2 L1119.1,517.7 L1119.2,516.2 L1119.3,514.7 L1119.4,513.2 L1119.4,511.7 L1119.5,510.2 L1119.6,508.7 L1119.7,507.2 L1119.8,505.7 L1119.8,504.2 L1119.9,502.7 L1120.0,501.2 L1120.0,499.7 L1120.1,498.2 L1120.2,496.7 L1120.3,495.2 L1120.3,493.7 L1120.4,492.2 L1120.4,490.7 L1120.5,489.2 L1120.6,487.7 L1120.6,486.2 L1120.7,484.7 L1120.8,483.2 L1120.8,481.7 L1120.9,480.2 L1121.0,478.7 L1121.0,477.2 L1121.1,475.7 L1121.1,474.2 L1121.2,472.7 L1121.3,471.2 L1121.3,469.7 L1121.4,468.2 L1121.4,466.7 L1121.5,465.2 L1121.5,463.7 L1121.6,462.2 L1121.6,460.7 L1121.7,459.2 L1121.7,457.7 L1121.8,456.2 L1121.8,454.7 L1121.9,453.2 L1121.9,451.7 L1122.0,450.2 L1122.0,448.7 L1122.1,447.2 L1122.1,445.7 L1122.2,444.2 L1122.2,442.7 L1122.2,441.2 L1122.3,439.7 L1122.3,438.2 L1122.4,436.7 L1122.4,435.2 L1122.5,433.7 L1122.5,432.2 L1122.6,430.7 L1122.6,429.2 L1122.7,427.8 L1122.7,426.3 L1122.8,424.8 L1122.8,423.3 L1122.9,421.8 L1122.9,420.3 L1123.0,418.8 L1123.0,417.3 L1123.1,415.8 L1123.2,414.3 L1123.2,412.8 L1123.3,411.3 L1123.3,409.8 L1123.4,408.3 L1123.4,406.8 L1123.5,405.3 L1123.5,403.8 L1123.5,402.3 L1123.6,400.8 L1123.6,399.3 L1123.7,397.8 L1123.7,396.3 L1123.7,394.8 L1123.7,393.3 L1123.8,391.8 L1123.8,390.3 L1123.8,388.8 L1123.9,387.3 L1123.9,385.8 L1123.9,384.3 L1123.9,382.8 L1123.9,381.3 L1124.0,379.8 L1124.0,378.3 L1124.0,376.8 L1124.0,375.3 L1124.0,373.8 L1124.1,372.3 L1124.1,370.8 L1124.1,369.3 L1124.1,367.8 L1124.2,366.3 L1124.2,364.8 L1124.2,363.3 L1124.2,361.8 L1124.2,360.3 L1124.2,358.8 L1124.3,357.3 L1124.3,355.8 L1124.3,354.3 L1124.3,352.8 L1124.3,351.3 L1124.4,349.8 L1124.4,348.3 L1124.4,346.8 L1124.4,345.3 L1124.4,343.8 L1124.4,342.3 L1124.5,340.8 L1124.5,339.3 L1124.5,337.8 L1124.5,336.3 L1124.5,334.8 L1124.6,333.3 L1124.6,331.8 L1124.6,330.3 L1124.6,328.8 L1124.6,327.3 L1124.7,325.8 L1124.7,324.3 L1124.7,322.8 L1124.7,321.3 L1124.7,319.8 L1124.8,318.3 L1124.8,316.8 L1124.8,315.3 L1124.8,313.8 L1124.8,312.3 L1124.9,310.8 L1124.9,309.3 L1124.9,307.8 L1124.9,306.3 L1124.9,304.8 L1125.0,303.3 L1125.0,301.8 L1125.0,300.3 L1125.0,298.8 L1125.0,297.3 L1125.1,295.8 L1125.1,294.3 L1125.1,292.8 L1125.1,291.3 L1125.1,289.8 L1125.2,288.3 L1125.2,286.8 L1125.2,285.3 L1125.2,283.8 L1125.2,282.3 L1125.3,280.8 L1125.3,279.3 L1125.3,277.8 L1125.3,276.3 L1125.4,274.8 L1125.4,273.3 L1125.4,271.8 L1125.4,270.3 L1125.5,268.8 L1125.5,267.3 L1125.5,265.8 L1125.5,264.3 L1125.6,262.8 L1125.6,261.3 L1125.6,259.8 L1125.6,258.3 L1125.7,256.8 L1125.7,255.3 L1125.7,253.8 L1125.7,252.3 L1125.7,250.8 L1125.8,249.3 L1125.8,247.8 L1125.8,246.3 L1125.8,244.8 L1125.9,243.3 L1125.9,241.8 L1125.9,240.3 L1125.9,238.8 L1126.0,237.3 L1126.0,235.8 L1126.0,234.3 L1126.0,232.8 L1126.0,231.3 L1126.1,229.8 L1126.1,228.3 L1126.1,226.8 L1126.1,225.3 L1126.2,223.8 L1126.2,222.3 L1126.2,220.8 L1126.3,219.3 L1126.3,217.8 L1126.3,216.3 L1126.4,214.8 L1126.4,213.3 L1126.4,211.8 L1126.5,210.3 L1126.5,208.8 L1126.5,207.3 L1126.6,205.8 L1126.6,204.3 L1126.7,202.8 L1126.7,201.3 L1126.8,199.8 L1126.9,198.3 L1126.9,196.8 L1127.0,195.3 L1127.1,193.8 L1127.1,192.3 L1127.2,190.8 L1127.3,189.3 L1127.3,187.8 L1127.4,186.3 L1127.5,184.8 L1127.6,183.3 L1127.7,181.8 L1127.8,180.3 L1127.9,178.8 L1128.3,178.1 L1128.5,179.6 L1128.6,181.1 L1128.7,182.6 L1128.8,184.1 L1128.9,185.6 L1128.9,187.1 L1129.0,188.6 L1129.0,190.1 L1129.1,191.6 L1129.2,193.1 L1129.2,194.6 L1129.3,196.1 L1129.3,197.6 L1129.4,199.1 L1129.4,200.6 L1129.5,202.1 L1129.5,203.6 L1129.5,205.1 L1129.6,206.6 L1129.6,208.1 L1129.6,209.6 L1129.7,211.1 L1129.7,212.6 L1129.7,214.1 L1129.7,215.6 L1129.8,217.1 L1129.8,218.6 L1129.8,220.1 L1129.8,221.6 L1129.8,223.1 L1129.8,224.6 L1129.9,226.1 L1129.9,227.6 L1129.9,229.1 L1129.9,230.6 L1129.9,232.1 L1129.9,233.6 L1129.9,235.1 L1130.0,236.6 L1130.0,238.1 L1130.0,239.6 L1130.0,241.1 L1130.0,242.6 L1130.0,244.1 L1130.0,245.6 L1130.0,247.1 L1130.1,248.6 L1130.1,250.1 L1130.1,251.6 L1130.1,253.1 L1130.1,254.6 L1130.1,256.1 L1130.2,257.6 L1130.2,259.1 L1130.2,260.6 L1130.2,262.1 L1130.3,263.6 L1130.3,265.1 L1130.3,266.6 L1130.3,268.1 L1130.3,269.6 L1130.4,271.1 L1130.4,272.6 L1130.4,274.1 L1130.4,275.6 L1130.5,277.1 L1130.5,278.6 L1130.5,280.1 L1130.5,281.6 L1130.5,283.1 L1130.6,284.6 L1130.6,286.1 L1130.6,287.6 L1130.6,289.1 L1130.7,290.6 L1130.7,292.1 L1130.7,293.6 L1130.7,295.1 L1130.7,296.6 L1130.8,298.1 L1130.8,299.6 L1130.8,301.1 L1130.8,302.6 L1130.9,304.1 L1130.9,305.6 L1130.9,307.1 L1130.9,308.6 L1131.0,310.1 L1131.0,311.6 L1131.0,313.1 L1131.0,314.6 L1131.0,316.1 L1131.1,317.6 L1131.1,319.1 L1131.1,320.6 L1131.1,322.1 L1131.2,323.6 L1131.2,325.1 L1131.2,326.6 L1131.2,328.1 L1131.3,329.6 L1131.3,331.1 L1131.3,332.6 L1131.3,334.1 L1131.3,335.6 L1131.4,337.1 L1131.4,338.6 L1131.4,340.1 L1131.4,341.6 L1131.4,343.1 L1131.5,344.6 L1131.5,346.1 L1131.5,347.6 L1131.5,349.1 L1131.5,350.6 L1131.5,352.1 L1131.6,353.6 L1131.6,355.1 L1131.6,356.6 L1131.6,358.1 L1131.6,359.6 L1131.6,361.1 L1131.7,362.6 L1131.7,364.1 L1131.7,365.6 L1131.7,367.1 L1131.7,368.6 L1131.8,370.1 L1131.8,371.6 L1131.8,373.1 L1131.8,374.6 L1131.8,376.1 L1131.9,377.6 L1131.9,379.1 L1131.9,380.6 L1131.9,382.1 L1132.0,383.6 L1132.0,385.1 L1132.0,386.6 L1132.0,388.1 L1132.1,389.5 L1132.1,391.0 L1132.1,392.5 L1132.2,394.0 L1132.2,395.5 L1132.2,397.0 L1132.3,398.5 L1132.3,400.0 L1132.3,401.5 L1132.4,403.0 L1132.4,404.5 L1132.4,406.0 L1132.5,407.5 L1132.5,409.0 L1132.5,410.5 L1132.6,412.0 L1132.6,413.5 L1132.6,415.0 L1132.7,416.5 L1132.7,418.0 L1132.7,419.5 L1132.8,421.0 L1132.8,422.5 L1132.8,424.0 L1132.9,425.5 L1132.9,427.0 L1132.9,428.5 L1132.9,430.0 L1133.0,431.5 L1133.0,433.0 L1133.0,434.5 L1133.0,436.0 L1133.1,437.5 L1133.1,439.0 L1133.1,440.5 L1133.1,442.0 L1133.1,443.5 L1133.2,445.0 L1133.2,446.5 L1133.2,448.0 L1133.2,449.5 L1133.2,451.0 L1133.2,452.5 L1133.2,454.0 L1133.2,455.5 L1133.2,457.0 L1133.3,458.5 L1133.3,460.0 L1133.3,461.5 L1133.3,463.0 L1133.3,464.5 L1133.3,466.0 L1133.3,467.5 L1133.3,469.0 L1133.3,470.5 L1133.3,472.0 L1133.3,473.5 L1133.3,475.0 L1133.3,476.5 L1133.3,478.0 L1133.3,479.5 L1133.3,481.0 L1133.3,482.5 L1133.3,484.0 L1133.3,485.5 L1133.3,487.0 L1133.3,488.5 L1133.4,490.0 L1133.4,491.5 L1133.4,493.0 L1133.4,494.5 L1133.4,496.0 L1133.4,497.5 L1133.4,499.0 L1133.4,500.5 L1133.4,502.0 L1133.4,503.5 L1133.4,505.0 L1133.4,506.5 L1133.4,508.0 L1133.4,509.5 L1133.4,511.0 L1133.4,512.5 L1133.4,514.0 L1133.4,515.5 L1133.4,517.0 L1133.5,518.5 L1133.5,520.0 L1133.6,521.5 L1133.7,523.0 L1133.7,524.5 L1133.8,526.0 L1133.9,527.5 L1134.1,529.0 L1134.2,530.5 L1134.3,532.0 L1134.5,533.5 L1134.7,535.0 L1134.9,536.5 L1135.1,538.0 L1135.2,539.5 L1135.4,540.9 L1135.7,542.4 L1136.0,543.9 L1136.4,545.3 L1137.0,546.7 L1137.7,548.0 L1138.8,548.7 L1139.7,547.7 L1140.3,546.3 L1140.9,544.9 L1141.4,543.5 L1142.1,542.2 L1142.8,540.9 L1143.8,539.7 L1144.7,538.6 L1145.8,537.5 L1147.1,536.9 L1148.5,537.3 L1149.6,538.3 L1150.5,539.4 L1151.3,540.7 L1152.2,541.9 L1152.9,543.2 L1153.6,544.6 L1154.2,546.0 L1154.7,547.3 L1155.2,548.8 L1155.8,550.2 L1156.3,551.6 L1156.9,552.9 L1157.5,554.3 L1158.1,555.7 L1158.7,557.0 L1159.3,558.4 L1160.0,559.8 L1160.6,561.1 L1161.3,562.4 L1162.1,563.7 L1163.0,564.9 L1163.9,566.1 L1164.9,567.3 L1165.9,568.3 L1167.0,569.4 L1168.2,570.3 L1169.4,571.2 L1170.7,572.0 L1172.0,572.7 L1173.4,573.2 L1174.8,573.6 L1176.3,573.8 L1177.8,573.8 L1179.3,573.6 L1180.7,573.2 L1182.1,572.7 L1183.5,572.0 L1184.8,571.3 L1186.1,570.6 L1187.3,569.7 L1188.5,568.8 L1189.6,567.8 L1190.6,566.7 L1191.5,565.5 L1192.3,564.3 L1193.0,563.0 L1193.6,561.6 L1194.2,560.2 L1194.7,558.8 L1195.2,557.4 L1195.6,555.9 L1196.1,554.5 L1196.5,553.1 L1197.0,551.7 L1197.5,550.2 L1197.9,548.8 L1198.4,547.4 L1198.8,545.9 L1199.2,544.5 L1199.6,543.0 L1200.0,541.6 L1200.4,540.2 L1200.8,538.7 L1201.2,537.3 L1201.6,535.8 L1201.9,534.3 L1202.3,532.9 L1202.6,531.4 L1203.0,530.0 L1203.3,528.5 L1203.7,527.1 L1204.0,525.6 L1204.3,524.1 L1204.6,522.7 L1204.9,521.2 L1205.2,519.7 L1205.5,518.2 L1205.8,516.8 L1206.1,515.3 L1206.4,513.8 L1206.7,512.4 L1207.0,510.9 L1207.2,509.4 L1207.5,507.9 L1207.8,506.5 L1208.0,505.0 L1208.3,503.5 L1208.6,502.0 L1208.8,500.6 L1209.1,499.1 L1209.4,497.6 L1209.6,496.1 L1209.9,494.6 L1210.1,493.2 L1210.4,491.7 L1210.6,490.2 L1210.9,488.7 L1211.1,487.2 L1211.3,485.8 L1211.6,484.3 L1211.8,482.8 L1212.1,481.3 L1212.3,479.8 L1212.5,478.4 L1212.8,476.9 L1213.0,475.4 L1213.3,473.9 L1213.5,472.4 L1213.7,471.0 L1214.0,469.5 L1214.2,468.0 L1214.5,466.5 L1214.8,465.0 L1215.0,463.6 L1215.3,462.1 L1215.5,460.6 L1215.7,459.1 L1216.0,457.6 L1216.2,456.2 L1216.5,454.7 L1216.7,453.2 L1216.9,451.7 L1217.1,450.2 L1217.4,448.8 L1217.6,447.3 L1217.8,445.8 L1218.1,444.3 L1218.3,442.8 L1218.5,441.3 L1218.8,439.9 L1219.0,438.4 L1219.2,436.9 L1219.5,435.4 L1219.7,433.9 L1219.9,432.5 L1220.2,431.0 L1220.4,429.5 L1220.6,428.0 L1220.9,426.5 L1221.1,425.0 L1221.3,423.6 L1221.5,422.1 L1221.8,420.6 L1222.0,419.1 L1222.2,417.6 L1222.4,416.1 L1222.6,414.7 L1222.8,413.2 L1223.0,411.7 L1223.2,410.2 L1223.4,408.7 L1223.6,407.2 L1223.8,405.7 L1223.9,404.2 L1224.1,402.7 L1224.3,401.3 L1224.5,399.8 L1224.7,398.3 L1224.9,396.8 L1225.0,395.3 L1225.2,393.8 L1225.4,392.3 L1225.6,390.8 L1225.8,389.4 L1226.0,387.9 L1226.2,386.4 L1226.4,384.9 L1226.6,383.4 L1226.8,381.9 L1227.0,380.4 L1227.3,379.0 L1227.5,377.5 L1227.7,376.0 L1228.0,374.5 L1228.3,373.0 L1228.5,371.6 L1228.8,370.1 L1229.1,368.6 L1229.5,367.2 L1229.8,365.7 L1230.1,364.2 L1230.4,362.8 L1230.7,361.3 L1231.0,359.8 L1231.3,358.3 L1231.6,356.9 L1231.8,355.4 L1232.1,353.9 L1232.4,352.5 L1232.7,351.0 L1233.0,349.5 L1233.3,348.0 L1233.6,346.6 L1233.9,345.1 L1234.1,343.6 L1234.4,342.2 L1234.7,340.7 L1235.0,339.2 L1235.3,337.7 L1235.6,336.3 L1235.9,334.8 L1236.2,333.3 L1236.5,331.9 L1236.8,330.4 L1237.1,328.9 L1237.4,327.4 L1237.7,326.0 L1238.1,324.5 L1238.6,323.1 L1239.0,321.7 L1239.6,320.3 L1240.1,318.9 L1240.8,317.6 L1241.5,316.4 L1242.4,315.5 L1243.8,315.3 L1245.1,316.3 L1245.9,317.5 L1246.6,318.8 L1247.2,320.1 L1247.8,321.5 L1248.3,322.9 L1248.8,324.3 L1249.2,325.8 L1249.5,327.2 L1249.8,328.7 L1250.1,330.2 L1250.4,331.7 L1250.7,333.1 L1251.0,334.6 L1251.2,336.1 L1251.5,337.5 L1251.8,339.0 L1252.1,340.5 L1252.4,342.0 L1252.7,343.4 L1253.0,344.9 L1253.2,346.4 L1253.5,347.9 L1253.8,349.3 L1254.0,350.8 L1254.3,352.3 L1254.5,353.8 L1254.8,355.3 L1255.0,356.7 L1255.2,358.2 L1255.4,359.7 L1255.7,361.2 L1255.9,362.7 L1256.1,364.2 L1256.2,365.6 L1256.4,367.1 L1256.6,368.6 L1256.8,370.1 L1257.0,371.6 L1257.1,373.1 L1257.3,374.6 L1257.5,376.1 L1257.6,377.6 L1257.8,379.1 L1258.0,380.5 L1258.2,382.0 L1258.3,383.5 L1258.5,385.0 L1258.7,386.5 L1258.9,388.0 L1259.1,389.5 L1259.3,391.0 L1259.5,392.5 L1259.7,393.9 L1259.8,395.4 L1260.0,396.9 L1260.2,398.4 L1260.4,399.9 L1260.6,401.4 L1260.8,402.9 L1261.0,404.4 L1261.2,405.8 L1261.4,407.3 L1261.7,408.8 L1261.9,410.3 L1262.1,411.8 L1262.3,413.3 L1262.5,414.7 L1262.8,416.2 L1263.0,417.7 L1263.2,419.2 L1263.5,420.7 L1263.7,422.2 L1263.9,423.6 L1264.2,425.1 L1264.4,426.6 L1264.7,428.1 L1264.9,429.6 L1265.2,431.0 L1265.4,432.5 L1265.7,434.0 L1265.9,435.5 L1266.2,436.9 L1266.5,438.4 L1266.7,439.9 L1267.0,441.4 L1267.3,442.8 L1267.6,444.3 L1267.9,445.8 L1268.1,447.3 L1268.4,448.7 L1268.7,450.2 L1269.0,451.7 L1269.3,453.1 L1269.6,454.6 L1269.9,456.1 L1270.2,457.6 L1270.5,459.0 L1270.8,460.5 L1271.1,462.0 L1271.4,463.4 L1271.8,464.9 L1272.1,466.4 L1272.4,467.8 L1272.7,469.3 L1273.0,470.8 L1273.3,472.2 L1273.6,473.7 L1273.9,475.2 L1274.2,476.6 L1274.5,478.1 L1274.9,479.6 L1275.2,481.0 L1275.6,482.5 L1276.0,483.9 L1276.4,485.4 L1276.8,486.8 L1277.3,488.2 L1277.7,489.7 L1278.3,491.1 L1278.8,492.5 L1279.3,493.9 L1279.9,495.2 L1280.6,496.6 L1281.3,497.9 L1282.0,499.2 L1282.8,500.5 L1283.7,501.7 L1284.6,502.9 L1285.6,504.0 L1286.6,505.1 L1287.8,506.0 L1289.0,506.9 L1290.3,507.6 L1291.6,508.2 L1293.0,508.6 L1294.5,508.6 L1295.9,508.4 L1297.2,508.0 L1298.5,507.4 L1299.8,506.7 L1301.1,505.9 L1302.2,505.0 L1303.4,504.0 L1304.6,503.1 L1305.7,502.1 L1306.7,501.0 L1307.8,500.0 L1308.8,498.9 L1309.8,497.8 L1310.8,496.7 L1311.8,495.5 L1312.7,494.4 L1313.7,493.2 L1314.6,492.0 L1315.4,490.8 L1316.3,489.6 L1317.2,488.3 L1318.0,487.1 L1318.8,485.8 L1319.6,484.6 L1320.5,483.3 L1321.3,482.0 L1322.0,480.8 L1322.8,479.5 L1323.6,478.2 L1324.4,476.9 L1325.2,475.6 L1325.9,474.4 L1326.7,473.1 L1327.5,471.8 L1328.2,470.5 L1329.0,469.2 L1329.7,467.9 L1330.4,466.6 L1331.2,465.3 L1331.9,464.0 L1332.7,462.7 L1333.4,461.3 L1334.1,460.0 L1334.8,458.7 L1335.5,457.4 L1336.2,456.1 L1337.0,454.7 L1337.7,453.4 L1338.4,452.1 L1339.0,450.8 L1339.7,449.4 L1340.4,448.1 L1341.1,446.8 L1341.8,445.4 L1342.5,444.1 L1343.1,442.7 L1343.8,441.4 L1344.5,440.1 L1345.1,438.7 L1345.8,437.4 L1346.4,436.0 L1347.1,434.7 L1347.7,433.3 L1348.4,432.0 L1349.0,430.6 L1349.7,429.3 L1350.3,427.9 L1351.0,426.6 L1351.6,425.2 L1352.3,423.8 L1352.9,422.5 L1353.6,421.1 L1354.2,419.8 L1354.9,418.4 L1355.5,417.1 L1356.2,415.7 L1356.8,414.4 L1357.5,413.0 L1358.1,411.7 L1358.8,410.3 L1359.4,409.0 L1360.1,407.6 L1360.8,406.3 L1361.4,404.9 L1362.1,403.6 L1362.8,402.3 L1363.4,400.9 L1364.1,399.6 L1364.8,398.2 L1365.4,396.9 L1366.1,395.5 L1366.8,394.2 L1367.5,392.9 L1368.1,391.5 L1368.8,390.2 L1369.5,388.8 L1370.1,387.5 L1370.8,386.2 L1371.5,384.8 L1372.2,383.5 L1372.8,382.1 L1373.5,380.8 L1374.2,379.5 L1374.8,378.1 L1375.5,376.8 L1376.2,375.4 L1376.9,374.1 L1377.5,372.7 L1378.2,371.4 L1378.9,370.1 L1379.5,368.7 L1380.2,367.4 L1380.9,366.0 L1381.6,364.7 L1382.2,363.4 L1382.9,362.0 L1383.6,360.7 L1384.2,359.3 L1384.9,358.0 L1385.5,356.6 L1386.2,355.3 L1386.8,353.9 L1387.5,352.6 L1388.1,351.2 L1388.8,349.9 L1389.4,348.5 L1390.0,347.1 L1390.6,345.8 L1391.3,344.4 L1391.9,343.0 L1392.5,341.7 L1393.1,340.3 L1393.7,338.9 L1394.3,337.5 L1394.9,336.2 L1395.5,334.8 L1396.1,333.4 L1396.7,332.0 L1397.3,330.7 L1397.9,329.3 L1398.5,327.9 L1399.1,326.5 L1399.7,325.2 L1400.3,323.8 L1400.9,322.4 L1401.6,321.1 L1402.2,319.7 L1402.8,318.4 L1403.5,317.0 L1404.1,315.6 L1404.7,314.3 L1405.4,312.9 L1406.0,311.6 L1406.7,310.2 L1407.3,308.9 L1408.0,307.5 L1408.6,306.2 L1409.3,304.8 L1409.9,303.5 L1410.6,302.1 L1411.3,300.8 L1411.9,299.4 L1412.6,298.1 L1413.3,296.8 L1414.0,295.4 L1414.6,294.1 L1415.3,292.7 L1416.0,291.4 L1416.7,290.1 L1417.4,288.8 L1418.1,287.4 L1418.8,286.1 L1419.5,284.8 L1420.2,283.5 L1421.0,282.2 L1421.7,280.8 L1422.4,279.5 L1423.1,278.2 L1423.9,276.9 L1424.6,275.6 L1425.4,274.3 L1426.1,273.0 L1426.9,271.7 L1427.6,270.4 L1428.4,269.1 L1429.2,267.8 L1429.9,266.6 L1430.7,265.3 L1431.5,264.0 L1432.3,262.7 L1433.1,261.5 L1433.9,260.2 L1434.8,259.0 L1435.6,257.7 L1436.5,256.5 L1437.3,255.3 L1438.2,254.1 L1439.1,252.9 L1440.0,251.7 L1440.9,250.5 L1441.9,249.3 L1442.8,248.2 L1443.8,247.1 L1444.8,245.9 L1445.8,244.9 L1446.9,243.8 L1447.9,242.8 L1449.0,241.8 L1450.2,240.8 L1451.3,239.9 L1452.5,239.1 L1453.7,238.3 L1455.0,237.5 L1456.2,236.8 L1457.6,236.2 L1458.9,235.7 L1460.2,235.3 L1461.6,234.9 L1463.0,234.7 L1464.4,234.6 L1465.7,234.6 L1467.1,234.7 L1468.5,234.8 L1469.9,235.2 L1471.2,235.6 L1472.5,236.1 L1473.8,236.7 L1475.1,237.4 L1476.3,238.1 L1477.5,238.9 L1478.6,239.8 L1479.7,240.8 L1480.8,241.8 L1481.8,242.8 L1482.8,243.9 L1483.8,245.1 L1484.7,246.2 L1485.6,247.4 L1486.5,248.6 L1487.3,249.8 L1488.1,251.1 L1488.9,252.3 L1489.7,253.6 L1490.4,254.9 L1491.2,256.2 L1491.9,257.5 L1492.6,258.9 L1493.3,260.2 L1494.0,261.5 L1494.6,262.9 L1495.3,264.2 L1496.0,265.5 L1496.6,266.9 L1497.3,268.3 L1497.9,269.6 L1498.5,271.0 L1499.1,272.3 L1499.7,273.7 L1500.3,275.1 L1500.9,276.5 L1501.5,277.9 L1502.1,279.2 L1502.6,280.6 L1503.2,282.0 L1503.7,283.4 L1504.3,284.8 L1504.8,286.2 L1505.3,287.6 L1505.9,289.0 L1506.4,290.4 L1506.9,291.8 L1507.4,293.2 L1507.9,294.7 L1508.5,296.1 L1509.0,297.5 L1509.5,298.9 L1510.0,300.3 L1510.5,301.7 L1511.0,303.1 L1511.5,304.5 L1512.0,305.9 L1512.5,307.4 L1513.0,308.8 L1513.5,310.2 L1514.0,311.6 L1514.5,313.0 L1515.0,314.4 L1515.5,315.8 L1516.0,317.3 L1516.5,318.7 L1517.0,320.1 L1517.5,321.5 L1518.0,322.9 L1518.5,324.3 L1519.1,325.7 L1519.6,327.1 L1520.1,328.5 L1520.6,329.9 L1521.2,331.3 L1521.7,332.7 L1522.2,334.1 L1522.8,335.6 L1523.3,337.0 L1523.8,338.4 L1524.4,339.8 L1524.9,341.2 L1525.4,342.6 L1526.0,343.9 L1526.5,345.3 L1527.1,346.7 L1527.6,348.1 L1528.2,349.5 L1528.7,350.9 L1529.3,352.3 L1529.9,353.7 L1530.4,355.1 L1531.0,356.5 L1531.5,357.9 L1532.1,359.3 L1532.7,360.7 L1533.3,362.0 L1533.8,363.4 L1534.4,364.8 L1535.0,366.2 L1535.5,367.6 L1536.1,369.0 L1536.7,370.4 L1537.3,371.7 L1537.9,373.1 L1538.4,374.5 L1539.0,375.9 L1539.6,377.3 L1540.2,378.7 L1540.8,380.0 L1541.3,381.4 L1541.9,382.8 L1542.5,384.2 L1543.1,385.6 L1543.7,387.0 L1544.3,388.3 L1544.9,389.7 L1545.4,391.1 L1546.0,392.5 L1546.6,393.8 L1547.2,395.2 L1547.8,396.6 L1548.5,398.0 L1549.1,399.3 L1549.7,400.7 L1550.3,402.1 L1550.9,403.4 L1551.5,404.8 L1552.2,406.1 L1552.8,407.5 L1553.5,408.9 L1554.1,410.2 L1554.8,411.6 L1555.4,412.9 L1556.1,414.2 L1556.8,415.6 L1557.5,416.9 L1558.2,418.2 L1558.9,419.5 L1559.7,420.8 L1560.5,422.1 L1561.2,423.4 L1562.0,424.6 L1562.8,425.9 L1563.7,427.1 L1564.5,428.4 L1565.4,429.6 L1566.3,430.8 L1567.2,432.0 L1568.1,433.1 L1569.1,434.3 L1570.0,435.5 L1571.0,436.6 L1572.0,437.7 L1573.0,438.8 L1574.1,439.9 L1575.1,440.9 L1576.2,441.9 L1577.3,442.9 L1578.4,443.9 L1579.6,444.8 L1580.8,445.7 L1582.0,446.5 L1583.2,447.3 L1584.5,448.0 L1585.8,448.7 L1587.1,449.3 L1588.4,449.8 L1589.8,450.2 L1591.2,450.6 L1592.6,450.8 L1594.0,451.0 L1595.5,451.1 L1596.9,451.1 L1598.3,451.0 L1599.8,450.9 L1601.2,450.6 L1602.6,450.3 L1604.0,449.9 L1605.4,449.5 L1606.8,449.0 L1608.2,448.4 L1609.5,447.8 L1610.8,447.2 L1612.1,446.5 L1613.4,445.7 L1614.7,444.9 L1615.9,444.1 L1617.2,443.3 L1618.4,442.4 L1619.6,441.5 L1620.7,440.6 L1621.9,439.7 L1623.0,438.7 L1624.1,437.7 L1625.2,436.7 L1626.3,435.7 L1627.4,434.6 L1628.4,433.5 L1629.4,432.4 L1630.4,431.3 L1631.4,430.2 L1632.3,429.0 L1633.3,427.9 L1634.2,426.7 L1635.1,425.5 L1636.0,424.3 L1636.9,423.1 L1637.7,421.9 L1638.6,420.6 L1639.4,419.4 L1640.3,418.1 L1641.1,416.9 L1641.9,415.6 L1642.7,414.4 L1643.5,413.1 L1644.3,411.8 L1645.1,410.5 L1645.9,409.3 L1646.6,408.0 L1647.4,406.7 L1648.2,405.4 L1649.0,404.1 L1649.8,402.9 L1650.6,401.6 L1651.4,400.3 L1652.2,399.0 L1652.9,397.8 L1653.7,396.5 L1654.5,395.2 L1655.3,393.9 L1656.1,392.7 L1656.9,391.4 L1657.6,390.1 L1658.4,388.8 L1659.2,387.5 L1659.9,386.2 L1660.7,384.9 L1661.4,383.6 L1662.1,382.3 L1662.8,381.0 L1663.6,379.7 L1664.3,378.3 L1665.0,377.0 L1665.6,375.7 L1666.3,374.3 L1667.0,373.0 L1667.7,371.7 L1668.3,370.3 L1668.9,369.0 L1669.6,367.6 L1670.2,366.2 L1670.8,364.9 L1671.5,363.5 L1672.1,362.1 L1672.7,360.8 L1673.3,359.4 L1673.9,358.0 L1674.5,356.7 L1675.1,355.3 L1675.8,353.9 L1676.4,352.6 L1677.0,351.2 L1677.6,349.8 L1678.2,348.5 L1678.9,347.1 L1679.5,345.8 L1680.2,344.4 L1680.8,343.1 L1681.5,341.7 L1682.1,340.4 L1682.8,339.0 L1683.5,337.7 L1684.2,336.4 L1684.9,335.0 L1685.6,333.7 L1686.3,332.4 L1687.0,331.0 L1687.7,329.7 L1688.4,328.4 L1689.1,327.1 L1689.8,325.7 L1690.5,324.4 L1691.1,323.1 L1691.8,321.7 L1692.5,320.4 L1693.2,319.0 L1693.8,317.7 L1694.5,316.4 L1695.1,315.0 L1695.8,313.7 L1696.4,312.3 L1697.1,310.9 L1697.7,309.6 L1698.3,308.2 L1699.0,306.9 L1699.6,305.5 L1700.2,304.1 L1700.8,302.8 L1701.5,301.4 L1702.1,300.0 L1702.7,298.7 L1703.3,297.3 L1704.0,296.0 L1704.6,294.6 L1705.2,293.2 L1705.8,291.9 L1706.5,290.5 L1707.1,289.1 L1707.8,287.8 L1708.4,286.4 L1709.0,285.1 L1709.7,283.7 L1710.3,282.4 L1711.0,281.0 L1711.6,279.7 L1712.3,278.3 L1712.9,277.0 L1713.6,275.6 L1714.2,274.3 L1714.9,272.9 L1715.5,271.6 L1716.2,270.2 L1716.8,268.9 L1717.5,267.5 L1718.2,266.2 L1718.8,264.8 L1719.5,263.5 L1720.2,262.1 L1720.8,260.8 L1721.5,259.4 L1722.2,258.1 L1722.8,256.8 L1723.5,255.4 L1724.2,254.1 L1724.9,252.8 L1725.6,251.4 L1726.3,250.1 L1726.9,248.8 L1727.6,247.4 L1728.3,246.1 L1729.0,244.8 L1729.7,243.4 L1730.4,242.1 L1731.1,240.8 L1731.9,239.5 L1732.6,238.2 L1733.3,236.8 L1734.0,235.5 L1734.7,234.2 L1735.4,232.9 L1736.1,231.6 L1736.8,230.2 L1737.6,228.9 L1738.3,227.6 L1739.0,226.3 L1739.7,225.0 L1740.4,223.7 L1741.2,222.3 L1741.9,221.0 L1742.6,219.7 L1743.3,218.4 L1744.0,217.1 L1744.7,215.7 L1745.4,214.4 L1746.2,213.1 L1746.9,211.8 L1747.6,210.5 L1748.3,209.1 L1749.0,207.8 L1749.7,206.5 L1750.4,205.2 L1751.1,203.8 L1751.8,202.5 L1752.5,201.2 L1753.1,199.8 L1753.8,198.5 L1754.5,197.2 L1755.2,195.8 L1755.9,194.5 L1756.6,193.2 L1757.2,191.8 L1757.9,190.5 L1758.6,189.1 L1759.2,187.8 L1759.9,186.4 L1760.6,185.1 L1761.2,183.8 L1761.9,182.4 L1762.6,181.1 L1763.2,179.7 L1763.9,178.4 L1764.5,177.0 L1765.2,175.7 L1765.9,174.3 L1766.5,173.0 L1767.2,171.6 L1767.8,170.3 L1768.5,168.9 L1769.2,167.6 L1769.8,166.2 L1770.5,164.9 L1771.1,163.5 L1771.8,162.2 L1772.4,160.8 L1773.1,159.5 L1773.7,158.1 L1774.4,156.8 L1775.1,155.5 L1775.7,154.1 L1776.4,152.8 L1777.0,151.4 L1777.7,150.1 L1778.4,148.7 L1779.0,147.4 L1779.7,146.0 L1780.4,144.7 L1781.0,143.3 L1781.7,142.0 L1782.4,140.7 L1783.0,139.3 L1783.7,138.0 L1784.4,136.6 L1785.0,135.3 L1785.7,133.9 L1786.4,132.6 L1787.1,131.3 L1787.7,129.9 L1788.4,128.6 L1789.1,127.2 L1789.8,125.9 L1790.4,124.6 L1791.1,123.2 L1791.8,121.9 L1792.4,120.5 L1793.1,119.2 L1793.8,117.9 L1794.5,116.5 L1795.1,115.2 L1795.8,113.8 L1796.5,112.5 L1797.2,111.2 L1797.8,109.8 L1798.5,108.5 L1799.2,107.1 L1799.8,105.8 L1800.5,104.5" fill="none" stroke="#4472c4" stroke-width="2.7" stroke-linejoin="round" stroke-linecap="round"/>
<path d="M1075.3,585.2 L1076.3,584.0 L1077.2,582.9 L1078.2,581.8 L1079.3,580.8 L1080.5,579.8 L1081.8,579.0 L1083.1,578.3 L1084.4,577.6 L1085.8,577.0 L1087.2,576.5 L1088.6,576.2 L1090.1,576.0 L1091.6,575.9 L1093.1,575.9 L1094.6,575.9 L1096.1,575.9 L1097.6,575.9 L1099.1,575.9 L1100.6,575.9 L1102.1,575.9 L1103.6,575.9 L1105.1,575.7 L1106.5,575.1 L1107.5,574.1 L1108.4,572.9 L1109.3,571.6 L1110.2,570.4 L1110.9,569.1 L1111.6,567.8 L1112.1,566.4 L1112.5,564.9 L1112.7,563.4 L1113.0,562.0 L1113.2,560.5 L1113.3,559.0 L1113.5,557.5 L1113.6,556.0 L1113.7,554.5 L1113.9,553.0 L1114.1,551.5 L1114.2,550.0 L1114.3,548.5 L1114.5,547.0 L1114.6,545.5 L1114.7,544.0 L1114.8,542.6 L1114.9,541.1 L1115.1,539.6 L1115.2,538.1 L1115.3,536.6 L1115.4,535.1 L1115.5,533.6 L1115.6,532.1 L1115.7,530.6 L1115.8,529.1 L1115.9,527.6 L1116.0,526.1 L1116.1,524.6 L1116.3,523.1 L1116.4,521.6 L1116.5,520.1 L1116.6,518.6 L1116.7,517.1 L1116.8,515.6 L1116.9,514.1 L1117.0,512.6 L1117.1,511.1 L1117.2,509.6 L1117.3,508.1 L1117.5,506.7 L1117.6,505.2 L1117.7,503.7 L1117.8,502.2 L1118.0,500.7 L1118.1,499.2 L1118.2,497.7 L1118.3,496.2 L1118.3,494.7 L1118.4,493.2 L1118.5,491.7 L1118.5,490.2 L1118.6,488.7 L1118.6,487.2 L1118.7,485.7 L1118.7,484.2 L1118.8,482.7 L1118.8,481.2 L1118.8,479.7 L1118.9,478.2 L1118.9,476.7 L1119.0,475.2 L1119.0,473.7 L1119.0,472.2 L1119.1,470.7 L1119.1,469.2 L1119.2,467.7 L1119.2,466.2 L1119.3,464.7 L1119.3,463.2 L1119.3,461.7 L1119.4,460.2 L1119.4,458.7 L1119.5,457.2 L1119.5,455.7 L1119.5,454.2 L1119.6,452.7 L1119.6,451.2 L1119.7,449.7 L1119.7,448.2 L1119.7,446.7 L1119.8,445.2 L1119.8,443.7 L1119.9,442.2 L1119.9,440.7 L1119.9,439.2 L1120.0,437.7 L1120.0,436.2 L1120.1,434.7 L1120.1,433.2 L1120.2,431.7 L1120.2,430.2 L1120.2,428.7 L1120.3,427.2 L1120.3,425.7 L1120.4,424.2 L1120.4,422.7 L1120.5,421.2 L1120.5,419.7 L1120.6,418.2 L1120.6,416.7 L1120.6,415.2 L1120.7,413.7 L1120.7,412.2 L1120.8,410.7 L1120.8,409.2 L1120.9,407.7 L1120.9,406.2 L1121.0,404.7 L1121.0,403.2 L1121.1,401.7 L1121.1,400.2 L1121.2,398.7 L1121.2,397.2 L1121.3,395.7 L1121.3,394.2 L1121.4,392.7 L1121.4,391.2 L1121.5,389.7 L1121.5,388.2 L1121.6,386.7 L1121.7,385.2 L1121.7,383.7 L1121.8,382.2 L1121.9,380.7 L1121.9,379.2 L1122.0,377.7 L1122.1,376.2 L1122.1,374.7 L1122.2,373.2 L1122.3,371.7 L1122.3,370.3 L1122.4,368.8 L1122.5,367.3 L1122.6,365.8 L1122.7,364.3 L1122.8,362.8 L1122.9,361.3 L1123.0,359.8 L1123.1,358.3 L1123.3,356.8 L1123.5,355.3 L1123.7,353.8 L1123.9,352.3 L1124.1,350.8 L1124.4,349.4 L1124.7,347.9 L1125.2,346.5 L1126.2,347.1 L1126.7,348.5 L1127.1,350.0 L1127.4,351.4 L1127.6,352.9 L1127.8,354.4 L1128.0,355.9 L1128.1,357.4 L1128.2,358.9 L1128.2,360.4 L1128.3,361.9 L1128.3,363.4 L1128.3,364.9 L1128.4,366.4 L1128.4,367.9 L1128.4,369.4 L1128.4,370.9 L1128.4,372.4 L1128.5,373.9 L1128.5,375.4 L1128.5,376.9 L1128.6,378.4 L1128.6,379.9 L1128.6,381.4 L1128.7,382.9 L1128.7,384.4 L1128.8,385.9 L1128.8,387.4 L1128.8,388.9 L1128.9,390.4 L1128.9,391.9 L1129.0,393.4 L1129.0,394.9 L1129.0,396.4 L1129.1,397.9 L1129.1,399.4 L1129.1,400.9 L1129.1,402.4 L1129.2,403.9 L1129.2,405.4 L1129.2,406.9 L1129.3,408.4 L1129.3,409.9 L1129.3,411.4 L1129.4,412.9 L1129.4,414.4 L1129.4,415.9 L1129.5,417.4 L1129.5,418.9 L1129.5,420.4 L1129.6,421.9 L1129.6,423.4 L1129.7,424.9 L1129.7,426.4 L1129.7,427.9 L1129.8,429.4 L1129.8,430.9 L1129.9,432.4 L1129.9,433.9 L1130.0,435.4 L1130.0,436.9 L1130.0,438.4 L1130.1,439.9 L1130.1,441.4 L1130.2,442.9 L1130.2,444.4 L1130.3,445.9 L1130.3,447.4 L1130.4,448.9 L1130.4,450.4 L1130.5,451.9 L1130.5,453.4 L1130.6,454.9 L1130.7,456.4 L1130.7,457.9 L1130.8,459.4 L1130.9,460.9 L1130.9,462.4 L1131.0,463.9 L1131.1,465.4 L1131.2,466.8 L1131.3,468.3 L1131.4,469.8 L1131.5,471.3 L1131.6,472.8 L1131.7,474.3 L1131.8,475.8 L1132.0,477.3 L1132.1,478.8 L1132.3,480.3 L1132.6,481.8 L1132.8,483.3 L1133.2,484.7 L1133.6,486.1 L1134.5,485.5 L1134.7,484.1 L1135.0,482.6 L1135.2,481.1 L1135.4,479.6 L1135.6,478.1 L1135.9,476.6 L1136.2,475.2 L1136.6,473.7 L1137.0,472.3 L1137.4,470.9 L1137.9,469.4 L1138.3,468.0 L1138.7,466.5 L1139.1,465.1 L1139.5,463.6 L1139.9,462.2 L1140.3,460.7 L1140.8,459.3 L1141.4,458.0 L1142.2,456.7 L1143.2,455.6 L1144.4,454.7 L1145.8,454.3 L1147.1,454.8 L1148.2,455.8 L1149.1,457.0 L1150.0,458.2 L1150.8,459.5 L1151.5,460.8 L1152.1,462.2 L1152.6,463.6 L1153.0,465.1 L1153.5,466.5 L1153.9,467.9 L1154.3,469.4 L1154.7,470.8 L1155.1,472.3 L1155.5,473.7 L1155.8,475.2 L1156.2,476.6 L1156.5,478.1 L1156.8,479.6 L1157.1,481.0 L1157.4,482.5 L1157.6,484.0 L1157.9,485.5 L1158.2,486.9 L1158.6,488.4 L1158.9,489.9 L1159.2,491.3 L1159.5,492.8 L1159.8,494.3 L1160.1,495.7 L1160.4,497.2 L1160.6,498.7 L1160.9,500.2 L1161.2,501.6 L1161.5,503.1 L1161.8,504.6 L1162.1,506.0 L1162.4,507.5 L1162.7,509.0 L1163.0,510.5 L1163.3,511.9 L1163.6,513.4 L1163.9,514.9 L1164.2,516.3 L1164.5,517.8 L1164.8,519.3 L1165.1,520.7 L1165.4,522.2 L1165.7,523.7 L1166.0,525.1 L1166.3,526.6 L1166.6,528.1 L1167.0,529.5 L1167.3,531.0 L1167.6,532.5 L1167.9,533.9 L1168.3,535.4 L1168.6,536.9 L1169.0,538.3 L1169.4,539.8 L1169.8,541.2 L1170.2,542.7 L1170.6,544.1 L1171.0,545.5 L1171.5,547.0 L1171.9,548.4 L1172.4,549.8 L1172.9,551.2 L1173.4,552.6 L1174.0,554.0 L1174.5,555.4 L1175.2,556.8 L1175.8,558.1 L1176.5,559.5 L1177.2,560.8 L1178.0,562.0 L1178.9,563.3 L1179.9,564.4 L1180.9,565.5 L1182.1,566.4 L1183.3,567.1 L1184.7,567.6 L1186.1,567.6 L1187.6,567.3 L1189.0,566.8 L1190.3,566.2 L1191.7,565.6 L1193.0,564.8 L1194.2,564.0 L1195.5,563.2 L1196.6,562.2 L1197.7,561.2 L1198.8,560.2 L1199.8,559.0 L1200.7,557.9 L1201.6,556.7 L1202.4,555.4 L1203.2,554.2 L1203.9,552.8 L1204.6,551.5 L1205.3,550.2 L1205.9,548.8 L1206.5,547.4 L1207.0,546.0 L1207.5,544.6 L1208.0,543.2 L1208.4,541.7 L1208.9,540.3 L1209.4,538.9 L1209.9,537.5 L1210.4,536.1 L1211.0,534.7 L1211.5,533.3 L1211.9,531.8 L1212.3,530.4 L1212.6,528.9 L1212.9,527.5 L1213.2,526.0 L1213.4,524.5 L1213.7,523.0 L1213.9,521.5 L1214.1,520.1 L1214.4,518.6 L1214.6,517.1 L1214.9,515.6 L1215.1,514.1 L1215.4,512.7 L1215.7,511.2 L1215.9,509.7 L1216.2,508.2 L1216.4,506.8 L1216.7,505.3 L1217.0,503.8 L1217.2,502.3 L1217.5,500.9 L1217.8,499.4 L1218.0,497.9 L1218.3,496.4 L1218.6,495.0 L1218.8,493.5 L1219.1,492.0 L1219.4,490.5 L1219.7,489.1 L1220.0,487.6 L1220.3,486.1 L1220.6,484.6 L1220.9,483.2 L1221.2,481.7 L1221.5,480.2 L1221.7,478.8 L1222.0,477.3 L1222.2,475.8 L1222.5,474.3 L1222.7,472.8 L1222.9,471.3 L1223.1,469.9 L1223.2,468.4 L1223.4,466.9 L1223.5,465.4 L1223.7,463.9 L1223.8,462.4 L1223.9,460.9 L1224.1,459.4 L1224.2,457.9 L1224.3,456.4 L1224.4,454.9 L1224.6,453.4 L1224.7,451.9 L1224.8,450.4 L1224.9,448.9 L1225.1,447.5 L1225.2,446.0 L1225.4,444.5 L1225.5,443.0 L1225.7,441.5 L1225.8,440.0 L1226.0,438.5 L1226.2,437.0 L1226.3,435.5 L1226.5,434.0 L1226.7,432.5 L1226.9,431.0 L1227.0,429.6 L1227.2,428.1 L1227.4,426.6 L1227.6,425.1 L1227.7,423.6 L1227.9,422.1 L1228.1,420.6 L1228.2,419.1 L1228.4,417.6 L1228.6,416.1 L1228.8,414.7 L1228.9,413.2 L1229.1,411.7 L1229.3,410.2 L1229.4,408.7 L1229.6,407.2 L1229.8,405.7 L1230.0,404.2 L1230.1,402.7 L1230.3,401.2 L1230.5,399.8 L1230.6,398.3 L1230.8,396.8 L1230.9,395.3 L1231.1,393.8 L1231.2,392.3 L1231.4,390.8 L1231.5,389.3 L1231.7,387.8 L1231.8,386.3 L1232.0,384.8 L1232.1,383.3 L1232.3,381.8 L1232.4,380.4 L1232.5,378.9 L1232.7,377.4 L1232.8,375.9 L1232.9,374.4 L1233.0,372.9 L1233.2,371.4 L1233.3,369.9 L1233.4,368.4 L1233.5,366.9 L1233.6,365.4 L1233.7,363.9 L1233.8,362.4 L1233.9,360.9 L1234.0,359.4 L1234.1,357.9 L1234.2,356.4 L1234.3,354.9 L1234.4,353.4 L1234.6,351.9 L1234.7,350.4 L1234.8,348.9 L1235.0,347.5 L1235.1,346.0 L1235.2,344.5 L1235.4,343.0 L1235.6,341.5 L1235.7,340.0 L1235.9,338.5 L1236.1,337.0 L1236.3,335.5 L1236.5,334.0 L1236.7,332.6 L1236.9,331.1 L1237.1,329.6 L1237.3,328.1 L1237.5,326.6 L1237.7,325.1 L1238.0,323.6 L1238.2,322.2 L1238.4,320.7 L1238.7,319.2 L1238.9,317.7 L1239.2,316.2 L1239.4,314.8 L1239.7,313.3 L1239.9,311.8 L1240.2,310.3 L1240.4,308.8 L1240.7,307.4 L1241.0,305.9 L1241.3,304.4 L1241.7,303.0 L1242.1,301.5 L1242.5,300.1 L1243.0,298.7 L1243.5,297.3 L1244.1,295.9 L1244.7,294.6 L1245.5,293.5 L1246.8,292.7 L1248.1,293.1 L1249.0,294.1 L1249.8,295.3 L1250.4,296.6 L1251.0,298.0 L1251.5,299.4 L1252.0,300.8 L1252.4,302.3 L1252.7,303.7 L1253.0,305.2 L1253.3,306.7 L1253.5,308.2 L1253.7,309.6 L1253.9,311.1 L1254.1,312.6 L1254.3,314.1 L1254.5,315.6 L1254.7,317.1 L1254.9,318.6 L1255.1,320.1 L1255.3,321.5 L1255.5,323.0 L1255.7,324.5 L1255.9,326.0 L1256.1,327.5 L1256.3,329.0 L1256.5,330.5 L1256.7,331.9 L1256.9,333.4 L1257.1,334.9 L1257.3,336.4 L1257.5,337.9 L1257.7,339.4 L1257.9,340.9 L1258.1,342.4 L1258.3,343.8 L1258.5,345.3 L1258.7,346.8 L1258.9,348.3 L1259.1,349.8 L1259.3,351.3 L1259.4,352.8 L1259.6,354.3 L1259.8,355.7 L1260.0,357.2 L1260.2,358.7 L1260.4,360.2 L1260.6,361.7 L1260.8,363.2 L1260.9,364.7 L1261.1,366.2 L1261.3,367.7 L1261.5,369.1 L1261.7,370.6 L1261.8,372.1 L1262.0,373.6 L1262.2,375.1 L1262.3,376.6 L1262.5,378.1 L1262.6,379.6 L1262.8,381.1 L1262.9,382.6 L1263.1,384.1 L1263.2,385.5 L1263.4,387.0 L1263.6,388.5 L1263.7,390.0 L1263.9,391.5 L1264.1,393.0 L1264.2,394.5 L1264.4,396.0 L1264.6,397.5 L1264.8,399.0 L1265.0,400.4 L1265.2,401.9 L1265.4,403.4 L1265.6,404.9 L1265.8,406.4 L1266.0,407.9 L1266.2,409.4 L1266.4,410.9 L1266.6,412.3 L1266.8,413.8 L1267.0,415.3 L1267.3,416.8 L1267.5,418.3 L1267.7,419.8 L1268.0,421.2 L1268.2,422.7 L1268.4,424.2 L1268.7,425.7 L1268.9,427.2 L1269.2,428.6 L1269.4,430.1 L1269.7,431.6 L1269.9,433.1 L1270.2,434.5 L1270.5,436.0 L1270.7,437.5 L1271.0,439.0 L1271.3,440.4 L1271.6,441.9 L1271.8,443.4 L1272.1,444.9 L1272.4,446.3 L1272.7,447.8 L1273.0,449.3 L1273.3,450.8 L1273.6,452.2 L1273.9,453.7 L1274.2,455.2 L1274.5,456.6 L1274.8,458.1 L1275.1,459.6 L1275.5,461.0 L1275.8,462.5 L1276.2,463.9 L1276.5,465.4 L1276.9,466.9 L1277.3,468.3 L1277.7,469.7 L1278.1,471.2 L1278.5,472.6 L1279.0,474.1 L1279.4,475.5 L1279.9,476.9 L1280.3,478.3 L1280.8,479.8 L1281.3,481.2 L1281.8,482.6 L1282.4,484.0 L1283.0,485.4 L1283.6,486.7 L1284.2,488.1 L1284.9,489.4 L1285.6,490.8 L1286.3,492.1 L1287.1,493.3 L1288.0,494.6 L1288.9,495.7 L1289.9,496.8 L1291.0,497.8 L1292.2,498.7 L1293.5,499.4 L1294.8,500.0 L1296.2,500.2 L1297.7,500.3 L1299.1,500.2 L1300.5,500.0 L1302.0,499.6 L1303.3,499.1 L1304.7,498.5 L1306.0,497.8 L1307.2,497.0 L1308.4,496.1 L1309.6,495.2 L1310.7,494.2 L1311.7,493.2 L1312.8,492.1 L1313.8,491.0 L1314.8,489.9 L1315.8,488.7 L1316.7,487.6 L1317.7,486.4 L1318.6,485.2 L1319.5,484.0 L1320.4,482.8 L1321.3,481.6 L1322.1,480.4 L1323.0,479.2 L1323.8,477.9 L1324.6,476.7 L1325.4,475.4 L1326.1,474.1 L1326.9,472.8 L1327.6,471.5 L1328.3,470.2 L1329.0,468.8 L1329.7,467.5 L1330.4,466.2 L1331.0,464.8 L1331.7,463.5 L1332.3,462.1 L1332.9,460.7 L1333.5,459.4 L1334.1,458.0 L1334.7,456.6 L1335.3,455.2 L1335.9,453.9 L1336.4,452.5 L1337.0,451.1 L1337.5,449.7 L1338.1,448.3 L1338.6,446.9 L1339.2,445.5 L1339.7,444.1 L1340.3,442.7 L1340.8,441.3 L1341.3,439.9 L1341.9,438.5 L1342.4,437.1 L1342.9,435.7 L1343.5,434.3 L1344.0,432.9 L1344.5,431.5 L1345.0,430.1 L1345.6,428.7 L1346.1,427.3 L1346.6,425.9 L1347.2,424.5 L1347.7,423.1 L1348.2,421.7 L1348.8,420.3 L1349.3,418.9 L1349.9,417.5 L1350.4,416.1 L1351.0,414.7 L1351.5,413.3 L1352.1,411.9 L1352.6,410.5 L1353.2,409.1 L1353.8,407.7 L1354.4,406.3 L1354.9,405.0 L1355.5,403.6 L1356.1,402.2 L1356.7,400.8 L1357.3,399.4 L1357.9,398.1 L1358.5,396.7 L1359.1,395.3 L1359.7,394.0 L1360.3,392.6 L1360.9,391.2 L1361.5,389.8 L1362.2,388.5 L1362.8,387.1 L1363.4,385.7 L1364.0,384.4 L1364.6,383.0 L1365.2,381.6 L1365.8,380.2 L1366.4,378.9 L1367.0,377.5 L1367.6,376.1 L1368.2,374.7 L1368.8,373.4 L1369.4,372.0 L1370.0,370.6 L1370.6,369.2 L1371.2,367.9 L1371.8,366.5 L1372.4,365.1 L1373.0,363.7 L1373.6,362.4 L1374.2,361.0 L1374.8,359.6 L1375.4,358.2 L1376.0,356.9 L1376.6,355.5 L1377.2,354.1 L1377.7,352.7 L1378.3,351.3 L1378.9,350.0 L1379.5,348.6 L1380.1,347.2 L1380.7,345.8 L1381.3,344.5 L1381.9,343.1 L1382.5,341.7 L1383.1,340.3 L1383.7,338.9 L1384.3,337.6 L1384.9,336.2 L1385.5,334.8 L1386.1,333.4 L1386.7,332.1 L1387.3,330.7 L1387.9,329.3 L1388.5,328.0 L1389.1,326.6 L1389.7,325.2 L1390.3,323.8 L1391.0,322.5 L1391.6,321.1 L1392.2,319.7 L1392.8,318.4 L1393.4,317.0 L1394.1,315.7 L1394.7,314.3 L1395.3,312.9 L1395.9,311.6 L1396.6,310.2 L1397.2,308.8 L1397.8,307.5 L1398.5,306.1 L1399.1,304.8 L1399.7,303.4 L1400.4,302.0 L1401.0,300.7 L1401.6,299.3 L1402.2,298.0 L1402.9,296.6 L1403.5,295.2 L1404.1,293.9 L1404.8,292.5 L1405.4,291.1 L1406.0,289.8 L1406.7,288.4 L1407.3,287.1 L1407.9,285.7 L1408.5,284.3 L1409.2,283.0 L1409.8,281.6 L1410.4,280.2 L1411.0,278.9 L1411.7,277.5 L1412.3,276.2 L1412.9,274.8 L1413.5,273.4 L1414.2,272.1 L1414.8,270.7 L1415.4,269.3 L1416.0,268.0 L1416.7,266.6 L1417.3,265.3 L1417.9,263.9 L1418.6,262.5 L1419.2,261.2 L1419.8,259.8 L1420.5,258.5 L1421.1,257.1 L1421.8,255.8 L1422.4,254.4 L1423.1,253.1 L1423.8,251.7 L1424.5,250.4 L1425.2,249.1 L1425.9,247.8 L1426.6,246.4 L1427.3,245.1 L1428.1,243.9 L1428.9,242.6 L1429.7,241.3 L1430.5,240.1 L1431.4,238.9 L1432.2,237.7 L1433.1,236.5 L1434.1,235.3 L1435.1,234.2 L1436.1,233.1 L1437.1,232.1 L1438.2,231.1 L1439.3,230.1 L1440.4,229.2 L1441.6,228.4 L1442.8,227.6 L1444.1,226.9 L1445.3,226.3 L1446.6,225.7 L1448.0,225.3 L1449.3,225.0 L1450.7,224.8 L1452.0,224.7 L1453.4,224.7 L1454.8,224.8 L1456.1,225.1 L1457.5,225.4 L1458.8,225.9 L1460.1,226.5 L1461.3,227.1 L1462.5,227.8 L1463.7,228.7 L1464.9,229.5 L1466.0,230.5 L1467.1,231.4 L1468.2,232.5 L1469.2,233.5 L1470.2,234.6 L1471.2,235.8 L1472.1,236.9 L1473.0,238.1 L1473.9,239.3 L1474.8,240.5 L1475.6,241.7 L1476.5,243.0 L1477.3,244.2 L1478.0,245.5 L1478.8,246.8 L1479.5,248.1 L1480.2,249.4 L1480.9,250.8 L1481.5,252.1 L1482.2,253.4 L1482.9,254.8 L1483.5,256.1 L1484.1,257.5 L1484.8,258.9 L1485.4,260.2 L1486.0,261.6 L1486.6,263.0 L1487.2,264.3 L1487.9,265.7 L1488.5,267.1 L1489.1,268.4 L1489.7,269.8 L1490.3,271.2 L1490.9,272.5 L1491.5,273.9 L1492.1,275.3 L1492.7,276.7 L1493.3,278.1 L1493.8,279.4 L1494.4,280.8 L1495.0,282.2 L1495.6,283.6 L1496.1,285.0 L1496.7,286.4 L1497.2,287.8 L1497.8,289.2 L1498.4,290.6 L1498.9,292.0 L1499.4,293.4 L1500.0,294.8 L1500.5,296.2 L1501.1,297.5 L1501.6,298.9 L1502.1,300.4 L1502.7,301.8 L1503.2,303.2 L1503.7,304.6 L1504.3,306.0 L1504.8,307.4 L1505.3,308.8 L1505.8,310.2 L1506.3,311.6 L1506.8,313.0 L1507.3,314.4 L1507.8,315.8 L1508.3,317.3 L1508.8,318.7 L1509.3,320.1 L1509.7,321.5 L1510.2,323.0 L1510.6,324.4 L1511.1,325.8 L1511.5,327.2 L1512.0,328.7 L1512.4,330.1 L1512.9,331.5 L1513.3,333.0 L1513.8,334.4 L1514.3,335.8 L1514.7,337.2 L1515.2,338.7 L1515.7,340.1 L1516.2,341.5 L1516.7,342.9 L1517.3,344.3 L1517.8,345.7 L1518.3,347.1 L1518.9,348.5 L1519.5,349.9 L1520.0,351.3 L1520.6,352.7 L1521.2,354.0 L1521.7,355.4 L1522.3,356.8 L1522.9,358.2 L1523.5,359.6 L1524.0,361.0 L1524.6,362.4 L1525.2,363.7 L1525.7,365.1 L1526.3,366.5 L1526.9,367.9 L1527.4,369.3 L1528.0,370.7 L1528.5,372.1 L1529.1,373.5 L1529.6,374.9 L1530.1,376.3 L1530.7,377.7 L1531.2,379.1 L1531.7,380.5 L1532.2,381.9 L1532.7,383.3 L1533.3,384.7 L1533.8,386.1 L1534.3,387.6 L1534.8,389.0 L1535.3,390.4 L1535.8,391.8 L1536.3,393.2 L1536.9,394.6 L1537.4,396.0 L1537.9,397.4 L1538.5,398.8 L1539.0,400.2 L1539.6,401.6 L1540.2,403.0 L1540.8,404.3 L1541.4,405.7 L1542.0,407.1 L1542.6,408.4 L1543.2,409.8 L1543.9,411.1 L1544.6,412.5 L1545.3,413.8 L1545.9,415.1 L1546.7,416.5 L1547.4,417.8 L1548.1,419.1 L1548.9,420.4 L1549.6,421.7 L1550.4,422.9 L1551.2,424.2 L1552.0,425.5 L1552.8,426.7 L1553.7,428.0 L1554.5,429.2 L1555.4,430.4 L1556.2,431.6 L1557.1,432.8 L1558.0,434.0 L1559.0,435.2 L1559.9,436.4 L1560.9,437.5 L1561.8,438.7 L1562.8,439.8 L1563.8,440.9 L1564.8,442.0 L1565.9,443.0 L1567.0,444.1 L1568.1,445.1 L1569.2,446.1 L1570.3,447.0 L1571.5,447.9 L1572.7,448.8 L1573.9,449.6 L1575.2,450.5 L1576.4,451.2 L1577.7,452.0 L1579.0,452.7 L1580.3,453.3 L1581.7,453.9 L1583.0,454.5 L1584.4,455.0 L1585.8,455.4 L1587.2,455.8 L1588.6,456.1 L1590.0,456.3 L1591.5,456.5 L1592.9,456.6 L1594.3,456.5 L1595.8,456.4 L1597.2,456.3 L1598.6,456.0 L1600.1,455.7 L1601.5,455.4 L1602.9,454.9 L1604.3,454.4 L1605.6,453.9 L1607.0,453.3 L1608.3,452.6 L1609.6,451.9 L1610.9,451.1 L1612.1,450.4 L1613.3,449.5 L1614.6,448.7 L1615.8,447.8 L1616.9,446.9 L1618.1,445.9 L1619.2,445.0 L1620.3,444.0 L1621.4,443.0 L1622.5,441.9 L1623.6,440.9 L1624.6,439.8 L1625.6,438.7 L1626.6,437.6 L1627.6,436.5 L1628.6,435.3 L1629.5,434.2 L1630.5,433.0 L1631.4,431.8 L1632.3,430.6 L1633.2,429.4 L1634.1,428.2 L1634.9,427.0 L1635.8,425.8 L1636.7,424.6 L1637.5,423.3 L1638.3,422.1 L1639.2,420.8 L1640.0,419.6 L1640.8,418.3 L1641.6,417.0 L1642.4,415.8 L1643.2,414.5 L1644.0,413.2 L1644.8,411.9 L1645.5,410.6 L1646.3,409.4 L1647.0,408.1 L1647.8,406.8 L1648.5,405.4 L1649.2,404.1 L1650.0,402.8 L1650.7,401.5 L1651.4,400.2 L1652.1,398.9 L1652.8,397.5 L1653.5,396.2 L1654.2,394.9 L1654.9,393.6 L1655.6,392.3 L1656.4,390.9 L1657.1,389.6 L1657.8,388.3 L1658.5,387.0 L1659.2,385.7 L1659.9,384.3 L1660.6,383.0 L1661.3,381.7 L1662.0,380.4 L1662.7,379.0 L1663.4,377.7 L1664.1,376.4 L1664.8,375.0 L1665.4,373.7 L1666.1,372.3 L1666.7,371.0 L1667.4,369.6 L1668.0,368.3 L1668.6,366.9 L1669.2,365.5 L1669.8,364.2 L1670.4,362.8 L1671.0,361.4 L1671.6,360.0 L1672.2,358.7 L1672.8,357.3 L1673.4,355.9 L1674.0,354.5 L1674.5,353.1 L1675.1,351.7 L1675.7,350.4 L1676.3,349.0 L1676.9,347.6 L1677.4,346.2 L1678.0,344.8 L1678.6,343.5 L1679.2,342.1 L1679.8,340.7 L1680.5,339.3 L1681.1,338.0 L1681.7,336.6 L1682.4,335.3 L1683.0,333.9 L1683.7,332.6 L1684.4,331.2 L1685.0,329.9 L1685.7,328.6 L1686.4,327.2 L1687.0,325.9 L1687.7,324.5 L1688.4,323.2 L1689.0,321.8 L1689.7,320.5 L1690.4,319.2 L1691.0,317.8 L1691.7,316.5 L1692.4,315.1 L1693.0,313.8 L1693.7,312.4 L1694.3,311.1 L1695.0,309.7 L1695.6,308.4 L1696.3,307.0 L1696.9,305.7 L1697.6,304.3 L1698.3,303.0 L1698.9,301.6 L1699.5,300.3 L1700.2,298.9 L1700.8,297.6 L1701.5,296.2 L1702.1,294.9 L1702.8,293.5 L1703.4,292.1 L1704.1,290.8 L1704.7,289.4 L1705.3,288.1 L1706.0,286.7 L1706.6,285.4 L1707.2,284.0 L1707.9,282.6 L1708.5,281.3 L1709.1,279.9 L1709.8,278.6 L1710.4,277.2 L1711.0,275.8 L1711.7,274.5 L1712.3,273.1 L1712.9,271.7 L1713.5,270.4 L1714.1,269.0 L1714.8,267.6 L1715.4,266.3 L1716.0,264.9 L1716.6,263.5 L1717.2,262.2 L1717.8,260.8 L1718.4,259.4 L1719.0,258.1 L1719.6,256.7 L1720.3,255.3 L1720.9,253.9 L1721.5,252.6 L1722.1,251.2 L1722.7,249.8 L1723.3,248.4 L1723.9,247.1 L1724.5,245.7 L1725.1,244.3 L1725.7,243.0 L1726.3,241.6 L1726.9,240.2 L1727.5,238.8 L1728.1,237.5 L1728.7,236.1 L1729.3,234.7 L1729.9,233.3 L1730.5,232.0 L1731.1,230.6 L1731.7,229.2 L1732.3,227.8 L1732.9,226.5 L1733.5,225.1 L1734.1,223.7 L1734.7,222.3 L1735.3,221.0 L1735.9,219.6 L1736.5,218.2 L1737.1,216.8 L1737.7,215.5 L1738.3,214.1 L1738.9,212.7 L1739.5,211.3 L1740.1,210.0 L1740.7,208.6 L1741.3,207.2 L1741.9,205.8 L1742.5,204.5 L1743.1,203.1 L1743.7,201.7 L1744.3,200.4 L1744.9,199.0 L1745.6,197.6 L1746.2,196.2 L1746.8,194.9 L1747.4,193.5 L1748.0,192.1 L1748.6,190.7 L1749.2,189.4 L1749.8,188.0 L1750.4,186.6 L1751.0,185.2 L1751.6,183.9 L1752.2,182.5 L1752.8,181.1 L1753.4,179.7 L1754.0,178.4 L1754.6,177.0 L1755.2,175.6 L1755.8,174.2 L1756.4,172.9 L1757.0,171.5 L1757.6,170.1 L1758.2,168.8 L1758.8,167.4 L1759.4,166.0 L1760.0,164.6 L1760.6,163.3 L1761.2,161.9 L1761.8,160.5 L1762.5,159.2 L1763.1,157.8 L1763.7,156.4 L1764.3,155.1 L1765.0,153.7 L1765.6,152.3 L1766.2,151.0 L1766.9,149.6 L1767.5,148.3 L1768.2,146.9 L1768.8,145.6 L1769.5,144.2 L1770.1,142.9 L1770.8,141.5 L1771.5,140.2 L1772.2,138.9 L1772.8,137.5 L1773.5,136.2 L1774.2,134.9 L1774.9,133.5 L1775.6,132.2 L1776.3,130.9 L1777.0,129.6 L1777.7,128.2 L1778.4,126.9 L1779.1,125.6 L1779.8,124.2 L1780.5,122.9 L1781.1,121.6 L1781.8,120.2 L1782.5,118.9 L1783.1,117.5 L1783.8,116.2 L1784.4,114.8 L1785.0,113.4 L1785.6,112.1 L1786.2,110.7 L1786.8,109.3 L1787.4,107.9 L1788.0,106.6 L1788.6,105.2 L1789.1,103.8 L1789.7,102.4 L1790.2,101.0 L1790.8,99.6 L1791.3,98.2 L1791.8,96.8 L1792.4,95.4 L1792.9,94.0 L1793.4,92.6 L1793.9,91.2 L1794.5,89.8 L1795.0,88.4 L1795.5,87.0 L1796.0,85.6 L1796.5,84.2 L1797.1,82.7 L1797.6,81.3 L1798.1,79.9 L1798.6,78.5 L1799.1,77.1 L1799.7,75.7 L1800.2,74.3 L1800.6,73.4" fill="none" stroke="#548235" stroke-width="2.7" stroke-linejoin="round" stroke-linecap="round"/>
<path d="M1075.7,573.3 L1075.8,574.8 L1075.9,576.3 L1075.9,577.8 L1075.9,579.3 L1076.0,580.8 L1076.3,582.2 L1077.3,582.8 L1078.5,582.0 L1079.5,580.9 L1080.6,579.8 L1081.8,579.0 L1083.1,578.2 L1084.5,577.5 L1085.8,576.9 L1087.3,576.5 L1088.7,576.1 L1090.2,576.0 L1091.7,575.9 L1093.2,575.9 L1094.7,575.9 L1096.2,575.9 L1097.7,575.9 L1099.2,575.9 L1100.7,575.9 L1102.2,575.9 L1103.7,576.0 L1105.2,576.0 L1106.7,575.9 L1108.1,575.5 L1109.4,574.7 L1110.4,573.6 L1111.2,572.4 L1111.9,571.0 L1112.4,569.6 L1112.9,568.2 L1113.4,566.8 L1113.8,565.3 L1114.2,563.9 L1114.5,562.4 L1114.8,560.9 L1115.1,559.5 L1115.4,558.0 L1115.6,556.5 L1115.9,555.0 L1116.1,553.6 L1116.3,552.1 L1116.5,550.6 L1116.6,549.1 L1116.8,547.6 L1117.0,546.1 L1117.1,544.6 L1117.3,543.1 L1117.4,541.6 L1117.6,540.1 L1117.7,538.6 L1117.9,537.2 L1118.0,535.7 L1118.1,534.2 L1118.2,532.7 L1118.3,531.2 L1118.4,529.7 L1118.5,528.2 L1118.6,526.7 L1118.7,525.2 L1118.8,523.7 L1118.9,522.2 L1119.0,520.7 L1119.0,519.2 L1119.1,517.7 L1119.2,516.2 L1119.3,514.7 L1119.4,513.2 L1119.4,511.7 L1119.5,510.2 L1119.6,508.7 L1119.7,507.2 L1119.8,505.7 L1119.8,504.2 L1119.9,502.7 L1120.0,501.2 L1120.1,499.7 L1120.1,498.2 L1120.2,496.7 L1120.3,495.2 L1120.4,493.7 L1120.4,492.2 L1120.5,490.7 L1120.6,489.2 L1120.6,487.7 L1120.7,486.2 L1120.8,484.7 L1120.8,483.2 L1120.9,481.7 L1120.9,480.2 L1121.0,478.7 L1121.0,477.2 L1121.1,475.7 L1121.2,474.2 L1121.2,472.7 L1121.3,471.2 L1121.3,469.7 L1121.4,468.2 L1121.4,466.7 L1121.4,465.2 L1121.5,463.7 L1121.5,462.2 L1121.5,460.7 L1121.6,459.2 L1121.6,457.7 L1121.6,456.2 L1121.7,454.7 L1121.7,453.2 L1121.7,451.7 L1121.7,450.2 L1121.8,448.7 L1121.8,447.2 L1121.8,445.7 L1121.8,444.3 L1121.8,442.8 L1121.9,441.3 L1121.9,439.8 L1121.9,438.3 L1121.9,436.8 L1121.9,435.3 L1122.0,433.8 L1122.0,432.3 L1122.0,430.8 L1122.0,429.3 L1122.0,427.8 L1122.1,426.3 L1122.1,424.8 L1122.1,423.3 L1122.1,421.8 L1122.2,420.3 L1122.2,418.8 L1122.2,417.3 L1122.3,415.8 L1122.3,414.3 L1122.3,412.8 L1122.4,411.3 L1122.4,409.8 L1122.4,408.3 L1122.5,406.8 L1122.6,405.3 L1122.6,403.8 L1122.7,402.3 L1122.7,400.8 L1122.8,399.3 L1122.9,397.8 L1123.0,396.3 L1123.1,394.8 L1123.2,393.3 L1123.3,391.8 L1123.4,390.3 L1123.5,388.8 L1123.6,387.3 L1123.7,385.8 L1123.8,384.3 L1123.9,382.8 L1124.0,381.3 L1124.1,379.8 L1124.2,378.3 L1124.2,376.8 L1124.3,375.3 L1124.3,373.8 L1124.4,372.3 L1124.4,370.8 L1124.5,369.3 L1124.5,367.8 L1124.6,366.3 L1124.6,364.8 L1124.6,363.3 L1124.7,361.8 L1124.7,360.3 L1124.8,358.8 L1124.9,357.3 L1124.9,355.8 L1125.0,354.3 L1125.1,352.8 L1125.2,351.3 L1125.3,349.8 L1125.5,348.3 L1125.6,346.8 L1125.8,345.4 L1125.9,343.9 L1126.1,342.4 L1126.3,340.9 L1126.6,339.4 L1127.3,339.0 L1127.6,340.5 L1127.8,341.9 L1128.0,343.4 L1128.1,344.9 L1128.3,346.4 L1128.4,347.9 L1128.5,349.4 L1128.7,350.9 L1128.8,352.4 L1128.9,353.9 L1128.9,355.4 L1129.0,356.9 L1129.1,358.4 L1129.1,359.9 L1129.2,361.4 L1129.2,362.9 L1129.2,364.4 L1129.3,365.9 L1129.3,367.4 L1129.3,368.9 L1129.4,370.4 L1129.4,371.9 L1129.4,373.4 L1129.5,374.9 L1129.5,376.4 L1129.5,377.9 L1129.6,379.4 L1129.6,380.9 L1129.7,382.4 L1129.7,383.9 L1129.7,385.4 L1129.8,386.9 L1129.8,388.4 L1129.8,389.9 L1129.9,391.4 L1129.9,392.9 L1129.9,394.4 L1129.9,395.9 L1130.0,397.4 L1130.0,398.9 L1130.0,400.4 L1130.1,401.9 L1130.1,403.4 L1130.1,404.9 L1130.1,406.4 L1130.2,407.9 L1130.2,409.4 L1130.2,410.9 L1130.2,412.4 L1130.3,413.9 L1130.3,415.4 L1130.3,416.9 L1130.3,418.4 L1130.4,419.9 L1130.4,421.4 L1130.4,422.9 L1130.5,424.4 L1130.5,425.9 L1130.5,427.4 L1130.5,428.9 L1130.6,430.4 L1130.6,431.9 L1130.6,433.4 L1130.6,434.9 L1130.7,436.4 L1130.7,437.9 L1130.7,439.4 L1130.8,440.9 L1130.8,442.4 L1130.8,443.9 L1130.9,445.4 L1130.9,446.9 L1131.0,448.4 L1131.0,449.9 L1131.0,451.4 L1131.1,452.9 L1131.1,454.4 L1131.2,455.9 L1131.2,457.4 L1131.3,458.9 L1131.3,460.4 L1131.4,461.9 L1131.4,463.4 L1131.5,464.9 L1131.5,466.4 L1131.6,467.9 L1131.7,469.4 L1131.7,470.9 L1131.8,472.4 L1131.9,473.9 L1132.0,475.3 L1132.0,476.8 L1132.1,478.3 L1132.2,479.8 L1132.3,481.3 L1132.3,482.8 L1132.4,484.3 L1132.5,485.8 L1132.6,487.3 L1132.7,488.8 L1132.8,490.3 L1132.8,491.8 L1132.9,493.3 L1133.0,494.8 L1133.1,496.3 L1133.2,497.8 L1133.3,499.3 L1133.4,500.8 L1133.4,502.3 L1133.5,503.8 L1133.6,505.3 L1133.7,506.8 L1133.7,508.3 L1133.8,509.8 L1133.9,511.3 L1134.0,512.8 L1134.0,514.3 L1134.1,515.8 L1134.2,517.3 L1134.3,518.8 L1134.5,520.3 L1135.0,520.8 L1135.2,519.4 L1135.4,517.9 L1135.6,516.4 L1135.7,514.9 L1135.9,513.4 L1136.0,511.9 L1136.2,510.4 L1136.5,508.9 L1136.8,507.5 L1137.1,506.0 L1137.4,504.5 L1137.8,503.1 L1138.1,501.6 L1138.5,500.2 L1138.8,498.7 L1139.1,497.2 L1139.4,495.8 L1139.7,494.3 L1140.0,492.8 L1140.3,491.3 L1140.6,489.9 L1141.0,488.4 L1141.4,487.0 L1141.8,485.5 L1142.3,484.1 L1142.9,482.8 L1143.6,481.4 L1144.3,480.1 L1145.1,478.8 L1146.2,477.9 L1147.6,478.1 L1148.7,479.1 L1149.6,480.3 L1150.4,481.6 L1151.1,482.9 L1151.8,484.2 L1152.4,485.6 L1152.9,487.0 L1153.4,488.4 L1153.8,489.8 L1154.2,491.3 L1154.6,492.7 L1155.0,494.2 L1155.3,495.6 L1155.7,497.1 L1156.1,498.5 L1156.5,500.0 L1156.8,501.5 L1157.1,502.9 L1157.4,504.4 L1157.7,505.9 L1158.0,507.3 L1158.3,508.8 L1158.6,510.3 L1158.9,511.7 L1159.2,513.2 L1159.5,514.7 L1159.8,516.1 L1160.1,517.6 L1160.4,519.1 L1160.7,520.6 L1161.0,522.0 L1161.3,523.5 L1161.6,525.0 L1161.9,526.4 L1162.2,527.9 L1162.5,529.4 L1162.8,530.8 L1163.1,532.3 L1163.5,533.8 L1163.8,535.2 L1164.1,536.7 L1164.5,538.2 L1164.8,539.6 L1165.2,541.1 L1165.6,542.5 L1166.0,544.0 L1166.4,545.4 L1166.8,546.9 L1167.2,548.3 L1167.7,549.7 L1168.1,551.1 L1168.6,552.6 L1169.1,554.0 L1169.6,555.4 L1170.1,556.8 L1170.7,558.2 L1171.3,559.5 L1172.0,560.9 L1172.8,562.1 L1173.7,563.4 L1174.6,564.6 L1175.6,565.7 L1176.6,566.7 L1177.8,567.6 L1179.1,568.4 L1180.5,568.9 L1181.9,569.3 L1183.4,569.5 L1184.9,569.5 L1186.4,569.3 L1187.8,568.9 L1189.2,568.4 L1190.5,567.7 L1191.8,567.0 L1193.0,566.1 L1194.1,565.0 L1195.1,563.9 L1196.0,562.7 L1196.8,561.5 L1197.7,560.3 L1198.5,559.0 L1199.3,557.7 L1200.1,556.5 L1200.8,555.1 L1201.5,553.8 L1202.1,552.4 L1202.6,551.1 L1203.2,549.7 L1203.7,548.2 L1204.1,546.8 L1204.5,545.4 L1205.0,543.9 L1205.4,542.5 L1205.7,541.0 L1206.1,539.6 L1206.5,538.1 L1206.9,536.7 L1207.2,535.2 L1207.6,533.8 L1207.9,532.3 L1208.3,530.8 L1208.6,529.4 L1208.9,527.9 L1209.3,526.5 L1209.6,525.0 L1209.9,523.5 L1210.2,522.1 L1210.5,520.6 L1210.8,519.1 L1211.1,517.6 L1211.3,516.2 L1211.6,514.7 L1211.9,513.2 L1212.2,511.7 L1212.5,510.3 L1212.7,508.8 L1213.0,507.3 L1213.3,505.8 L1213.5,504.4 L1213.8,502.9 L1214.0,501.4 L1214.3,499.9 L1214.6,498.5 L1214.8,497.0 L1215.1,495.5 L1215.3,494.0 L1215.6,492.5 L1215.9,491.1 L1216.2,489.6 L1216.5,488.1 L1216.8,486.7 L1217.1,485.2 L1217.4,483.7 L1217.7,482.2 L1217.9,480.8 L1218.2,479.3 L1218.5,477.8 L1218.8,476.4 L1219.0,474.9 L1219.2,473.4 L1219.4,471.9 L1219.6,470.4 L1219.8,468.9 L1220.0,467.4 L1220.2,465.9 L1220.3,464.5 L1220.5,463.0 L1220.6,461.5 L1220.8,460.0 L1220.9,458.5 L1221.1,457.0 L1221.2,455.5 L1221.3,454.0 L1221.5,452.5 L1221.6,451.0 L1221.8,449.5 L1221.9,448.0 L1222.1,446.5 L1222.2,445.0 L1222.4,443.6 L1222.5,442.1 L1222.7,440.6 L1222.8,439.1 L1223.0,437.6 L1223.1,436.1 L1223.3,434.6 L1223.4,433.1 L1223.6,431.6 L1223.7,430.1 L1223.9,428.6 L1224.0,427.1 L1224.2,425.6 L1224.3,424.2 L1224.5,422.7 L1224.6,421.2 L1224.8,419.7 L1224.9,418.2 L1225.1,416.7 L1225.2,415.2 L1225.4,413.7 L1225.5,412.2 L1225.7,410.7 L1225.8,409.2 L1226.0,407.7 L1226.1,406.2 L1226.3,404.8 L1226.4,403.3 L1226.6,401.8 L1226.7,400.3 L1226.9,398.8 L1227.0,397.3 L1227.2,395.8 L1227.3,394.3 L1227.5,392.8 L1227.6,391.3 L1227.8,389.8 L1227.9,388.3 L1228.1,386.8 L1228.3,385.4 L1228.4,383.9 L1228.5,382.4 L1228.7,380.9 L1228.8,379.4 L1228.9,377.9 L1229.1,376.4 L1229.2,374.9 L1229.2,373.4 L1229.3,371.9 L1229.4,370.4 L1229.4,368.9 L1229.5,367.4 L1229.5,365.9 L1229.6,364.4 L1229.7,362.9 L1229.7,361.4 L1229.8,359.9 L1229.9,358.4 L1230.0,356.9 L1230.1,355.4 L1230.3,353.9 L1230.4,352.4 L1230.6,350.9 L1230.8,349.5 L1230.9,348.0 L1231.1,346.5 L1231.3,345.0 L1231.5,343.5 L1231.7,342.0 L1231.9,340.5 L1232.1,339.0 L1232.3,337.6 L1232.5,336.1 L1232.7,334.6 L1232.9,333.1 L1233.1,331.6 L1233.3,330.1 L1233.6,328.6 L1233.8,327.2 L1234.0,325.7 L1234.2,324.2 L1234.4,322.7 L1234.6,321.2 L1234.8,319.7 L1234.9,318.2 L1235.1,316.7 L1235.3,315.3 L1235.6,313.8 L1235.8,312.3 L1236.0,310.8 L1236.2,309.3 L1236.4,307.8 L1236.6,306.3 L1236.8,304.9 L1237.0,303.4 L1237.2,301.9 L1237.4,300.4 L1237.7,298.9 L1237.9,297.4 L1238.1,296.0 L1238.3,294.5 L1238.5,293.0 L1238.7,291.5 L1238.9,290.0 L1239.1,288.5 L1239.3,287.0 L1239.6,285.6 L1239.8,284.1 L1240.1,282.6 L1240.4,281.1 L1240.7,279.7 L1241.1,278.2 L1241.4,276.8 L1241.8,275.3 L1242.3,273.9 L1242.7,272.4 L1243.2,271.0 L1243.7,269.6 L1244.3,268.3 L1245.1,267.3 L1246.3,266.7 L1247.5,267.4 L1248.3,268.5 L1249.0,269.8 L1249.6,271.2 L1250.2,272.6 L1250.7,274.0 L1251.2,275.4 L1251.6,276.8 L1252.1,278.3 L1252.4,279.7 L1252.8,281.2 L1253.1,282.6 L1253.4,284.1 L1253.7,285.6 L1253.9,287.1 L1254.1,288.5 L1254.4,290.0 L1254.6,291.5 L1254.8,293.0 L1255.0,294.5 L1255.2,296.0 L1255.4,297.5 L1255.6,298.9 L1255.8,300.4 L1256.0,301.9 L1256.2,303.4 L1256.4,304.9 L1256.6,306.4 L1256.8,307.9 L1257.0,309.4 L1257.1,310.8 L1257.3,312.3 L1257.5,313.8 L1257.6,315.3 L1257.8,316.8 L1258.0,318.3 L1258.1,319.8 L1258.3,321.3 L1258.4,322.8 L1258.6,324.3 L1258.7,325.8 L1258.9,327.3 L1259.1,328.7 L1259.2,330.2 L1259.4,331.7 L1259.6,333.2 L1259.7,334.7 L1259.9,336.2 L1260.1,337.7 L1260.2,339.2 L1260.4,340.7 L1260.5,342.2 L1260.7,343.7 L1260.9,345.1 L1261.0,346.6 L1261.2,348.1 L1261.4,349.6 L1261.5,351.1 L1261.7,352.6 L1261.8,354.1 L1262.0,355.6 L1262.1,357.1 L1262.3,358.6 L1262.4,360.1 L1262.6,361.6 L1262.7,363.0 L1262.8,364.5 L1263.0,366.0 L1263.1,367.5 L1263.3,369.0 L1263.5,370.5 L1263.6,372.0 L1263.8,373.5 L1264.0,375.0 L1264.1,376.5 L1264.3,378.0 L1264.5,379.5 L1264.7,380.9 L1264.9,382.4 L1265.0,383.9 L1265.2,385.4 L1265.4,386.9 L1265.6,388.4 L1265.8,389.9 L1266.0,391.4 L1266.2,392.8 L1266.4,394.3 L1266.6,395.8 L1266.8,397.3 L1267.0,398.8 L1267.2,400.3 L1267.4,401.8 L1267.6,403.2 L1267.8,404.7 L1268.0,406.2 L1268.2,407.7 L1268.4,409.2 L1268.6,410.7 L1268.9,412.2 L1269.1,413.6 L1269.3,415.1 L1269.5,416.6 L1269.8,418.1 L1270.0,419.6 L1270.2,421.1 L1270.5,422.5 L1270.7,424.0 L1270.9,425.5 L1271.2,427.0 L1271.4,428.5 L1271.7,429.9 L1271.9,431.4 L1272.2,432.9 L1272.5,434.4 L1272.7,435.8 L1273.0,437.3 L1273.3,438.8 L1273.5,440.3 L1273.8,441.7 L1274.1,443.2 L1274.4,444.7 L1274.7,446.2 L1275.0,447.6 L1275.3,449.1 L1275.6,450.6 L1275.9,452.0 L1276.2,453.5 L1276.5,455.0 L1276.9,456.4 L1277.2,457.9 L1277.5,459.4 L1277.9,460.8 L1278.2,462.3 L1278.6,463.7 L1278.9,465.2 L1279.3,466.6 L1279.7,468.1 L1280.1,469.5 L1280.5,471.0 L1280.9,472.4 L1281.3,473.9 L1281.8,475.3 L1282.2,476.7 L1282.6,478.2 L1283.0,479.6 L1283.5,481.0 L1284.0,482.5 L1284.5,483.9 L1285.0,485.3 L1285.7,486.6 L1286.4,487.9 L1287.3,489.1 L1288.3,490.2 L1289.4,491.3 L1290.5,492.2 L1291.8,493.0 L1293.1,493.6 L1294.5,494.1 L1295.9,494.3 L1297.3,494.3 L1298.7,494.1 L1300.1,493.7 L1301.5,493.2 L1302.8,492.5 L1304.1,491.8 L1305.4,491.0 L1306.6,490.2 L1307.8,489.3 L1309.0,488.4 L1310.1,487.4 L1311.2,486.4 L1312.3,485.3 L1313.3,484.3 L1314.3,483.2 L1315.3,482.1 L1316.3,480.9 L1317.3,479.8 L1318.2,478.6 L1319.1,477.4 L1320.0,476.2 L1320.9,475.0 L1321.8,473.8 L1322.6,472.5 L1323.4,471.3 L1324.2,470.0 L1325.0,468.8 L1325.8,467.5 L1326.5,466.2 L1327.3,464.9 L1328.0,463.6 L1328.7,462.2 L1329.4,460.9 L1330.0,459.6 L1330.7,458.2 L1331.3,456.9 L1331.9,455.5 L1332.6,454.1 L1333.2,452.8 L1333.8,451.4 L1334.3,450.0 L1334.9,448.6 L1335.5,447.2 L1336.0,445.8 L1336.5,444.4 L1337.1,443.0 L1337.6,441.6 L1338.1,440.2 L1338.6,438.8 L1339.2,437.4 L1339.7,436.0 L1340.2,434.6 L1340.7,433.2 L1341.2,431.8 L1341.7,430.3 L1342.2,428.9 L1342.7,427.5 L1343.2,426.1 L1343.7,424.7 L1344.2,423.3 L1344.8,421.9 L1345.3,420.5 L1345.8,419.1 L1346.3,417.7 L1346.8,416.3 L1347.4,414.8 L1347.9,413.4 L1348.4,412.0 L1349.0,410.7 L1349.5,409.3 L1350.1,407.9 L1350.7,406.5 L1351.2,405.1 L1351.8,403.7 L1352.4,402.3 L1353.0,400.9 L1353.6,399.6 L1354.2,398.2 L1354.8,396.8 L1355.3,395.4 L1356.0,394.1 L1356.6,392.7 L1357.2,391.3 L1357.8,389.9 L1358.4,388.6 L1359.0,387.2 L1359.6,385.8 L1360.2,384.5 L1360.8,383.1 L1361.4,381.7 L1362.0,380.4 L1362.7,379.0 L1363.3,377.6 L1363.9,376.2 L1364.5,374.9 L1365.1,373.5 L1365.7,372.1 L1366.3,370.8 L1366.9,369.4 L1367.6,368.0 L1368.2,366.7 L1368.8,365.3 L1369.4,363.9 L1370.0,362.5 L1370.6,361.2 L1371.2,359.8 L1371.8,358.4 L1372.5,357.1 L1373.1,355.7 L1373.7,354.3 L1374.3,353.0 L1374.9,351.6 L1375.5,350.2 L1376.2,348.9 L1376.8,347.5 L1377.4,346.1 L1378.0,344.8 L1378.6,343.4 L1379.3,342.0 L1379.9,340.7 L1380.5,339.3 L1381.1,337.9 L1381.7,336.6 L1382.3,335.2 L1383.0,333.8 L1383.6,332.5 L1384.2,331.1 L1384.8,329.7 L1385.5,328.4 L1386.1,327.0 L1386.7,325.7 L1387.3,324.3 L1388.0,322.9 L1388.6,321.6 L1389.2,320.2 L1389.9,318.8 L1390.5,317.5 L1391.1,316.1 L1391.8,314.8 L1392.4,313.4 L1393.0,312.1 L1393.7,310.7 L1394.3,309.3 L1395.0,308.0 L1395.6,306.6 L1396.3,305.3 L1396.9,303.9 L1397.6,302.6 L1398.2,301.2 L1398.9,299.9 L1399.6,298.6 L1400.2,297.2 L1400.9,295.9 L1401.6,294.5 L1402.2,293.2 L1402.9,291.8 L1403.6,290.5 L1404.3,289.2 L1405.0,287.8 L1405.6,286.5 L1406.3,285.1 L1407.0,283.8 L1407.6,282.5 L1408.3,281.1 L1409.0,279.8 L1409.7,278.4 L1410.3,277.1 L1411.0,275.8 L1411.7,274.4 L1412.3,273.1 L1413.0,271.7 L1413.7,270.4 L1414.3,269.0 L1415.0,267.7 L1415.7,266.3 L1416.3,265.0 L1417.0,263.7 L1417.7,262.3 L1418.3,261.0 L1419.0,259.6 L1419.7,258.3 L1420.4,257.0 L1421.1,255.7 L1421.8,254.3 L1422.5,253.0 L1423.2,251.7 L1423.9,250.4 L1424.7,249.1 L1425.4,247.8 L1426.2,246.5 L1427.0,245.2 L1427.8,244.0 L1428.6,242.7 L1429.4,241.5 L1430.3,240.3 L1431.2,239.1 L1432.1,237.9 L1433.1,236.8 L1434.1,235.7 L1435.1,234.7 L1436.2,233.7 L1437.3,232.7 L1438.4,231.8 L1439.6,231.0 L1440.8,230.2 L1442.1,229.6 L1443.4,229.0 L1444.7,228.5 L1446.0,228.1 L1447.4,227.9 L1448.8,227.7 L1450.2,227.6 L1451.5,227.7 L1452.9,227.8 L1454.3,228.1 L1455.6,228.4 L1457.0,228.9 L1458.3,229.4 L1459.5,230.1 L1460.7,230.8 L1461.9,231.6 L1463.1,232.5 L1464.2,233.4 L1465.3,234.4 L1466.3,235.4 L1467.3,236.5 L1468.3,237.6 L1469.2,238.7 L1470.2,239.9 L1471.1,241.1 L1472.0,242.3 L1472.8,243.5 L1473.7,244.7 L1474.5,246.0 L1475.3,247.2 L1476.1,248.5 L1476.9,249.8 L1477.7,251.0 L1478.5,252.3 L1479.2,253.6 L1479.9,254.9 L1480.7,256.2 L1481.4,257.6 L1482.1,258.9 L1482.8,260.2 L1483.5,261.5 L1484.2,262.9 L1484.9,264.2 L1485.5,265.5 L1486.2,266.9 L1486.9,268.2 L1487.5,269.6 L1488.2,270.9 L1488.8,272.3 L1489.4,273.7 L1490.1,275.0 L1490.7,276.4 L1491.3,277.7 L1491.9,279.1 L1492.5,280.5 L1493.1,281.9 L1493.7,283.3 L1494.2,284.6 L1494.8,286.0 L1495.4,287.4 L1495.9,288.8 L1496.5,290.2 L1497.0,291.6 L1497.5,293.0 L1498.1,294.4 L1498.6,295.8 L1499.1,297.2 L1499.6,298.6 L1500.1,300.1 L1500.6,301.5 L1501.1,302.9 L1501.6,304.3 L1502.0,305.7 L1502.5,307.2 L1503.0,308.6 L1503.5,310.0 L1503.9,311.4 L1504.4,312.9 L1504.9,314.3 L1505.3,315.7 L1505.8,317.1 L1506.3,318.6 L1506.7,320.0 L1507.2,321.4 L1507.7,322.8 L1508.2,324.2 L1508.7,325.7 L1509.2,327.1 L1509.7,328.5 L1510.2,329.9 L1510.7,331.3 L1511.3,332.7 L1511.8,334.1 L1512.3,335.5 L1512.9,336.9 L1513.4,338.3 L1514.0,339.7 L1514.5,341.1 L1515.1,342.5 L1515.6,343.9 L1516.2,345.2 L1516.8,346.6 L1517.4,348.0 L1518.0,349.4 L1518.5,350.8 L1519.1,352.2 L1519.7,353.5 L1520.3,354.9 L1520.9,356.3 L1521.5,357.7 L1522.0,359.1 L1522.6,360.5 L1523.2,361.8 L1523.8,363.2 L1524.3,364.6 L1524.9,366.0 L1525.4,367.4 L1526.0,368.8 L1526.6,370.2 L1527.1,371.6 L1527.7,373.0 L1528.2,374.4 L1528.8,375.7 L1529.4,377.1 L1529.9,378.5 L1530.5,379.9 L1531.1,381.3 L1531.7,382.7 L1532.2,384.1 L1532.8,385.5 L1533.4,386.9 L1533.9,388.2 L1534.5,389.6 L1535.1,391.0 L1535.7,392.4 L1536.2,393.8 L1536.8,395.2 L1537.4,396.6 L1537.9,397.9 L1538.5,399.3 L1539.1,400.7 L1539.7,402.1 L1540.3,403.5 L1540.9,404.8 L1541.5,406.2 L1542.2,407.5 L1542.8,408.9 L1543.5,410.2 L1544.2,411.5 L1544.9,412.9 L1545.6,414.2 L1546.3,415.5 L1547.1,416.8 L1547.9,418.1 L1548.6,419.3 L1549.4,420.6 L1550.2,421.9 L1551.1,423.1 L1551.9,424.4 L1552.7,425.6 L1553.6,426.8 L1554.5,428.1 L1555.4,429.3 L1556.3,430.4 L1557.2,431.6 L1558.1,432.8 L1559.1,433.9 L1560.1,435.1 L1561.0,436.2 L1562.0,437.3 L1563.1,438.4 L1564.1,439.5 L1565.2,440.5 L1566.3,441.5 L1567.4,442.5 L1568.5,443.5 L1569.6,444.5 L1570.8,445.4 L1572.0,446.3 L1573.2,447.1 L1574.5,447.9 L1575.7,448.7 L1577.0,449.4 L1578.3,450.1 L1579.6,450.7 L1581.0,451.2 L1582.4,451.7 L1583.8,452.1 L1585.2,452.4 L1586.6,452.7 L1588.0,452.9 L1589.5,453.0 L1590.9,453.0 L1592.4,452.9 L1593.8,452.8 L1595.3,452.6 L1596.7,452.3 L1598.1,452.0 L1599.5,451.6 L1600.9,451.1 L1602.3,450.6 L1603.7,450.1 L1605.0,449.5 L1606.3,448.8 L1607.6,448.1 L1608.9,447.3 L1610.2,446.6 L1611.4,445.7 L1612.6,444.9 L1613.8,444.0 L1615.0,443.0 L1616.1,442.1 L1617.2,441.1 L1618.3,440.1 L1619.4,439.1 L1620.5,438.0 L1621.5,436.9 L1622.5,435.9 L1623.5,434.8 L1624.5,433.6 L1625.5,432.5 L1626.5,431.3 L1627.4,430.2 L1628.3,429.0 L1629.2,427.8 L1630.1,426.6 L1631.0,425.4 L1631.8,424.1 L1632.6,422.9 L1633.4,421.6 L1634.2,420.4 L1635.0,419.1 L1635.8,417.8 L1636.6,416.5 L1637.4,415.3 L1638.1,414.0 L1638.9,412.7 L1639.7,411.4 L1640.4,410.1 L1641.2,408.8 L1642.0,407.5 L1642.7,406.2 L1643.5,404.9 L1644.2,403.6 L1645.0,402.3 L1645.7,401.0 L1646.4,399.7 L1647.1,398.4 L1647.8,397.1 L1648.5,395.7 L1649.2,394.4 L1649.8,393.0 L1650.5,391.7 L1651.1,390.3 L1651.7,389.0 L1652.3,387.6 L1652.9,386.2 L1653.5,384.9 L1654.1,383.5 L1654.7,382.1 L1655.3,380.7 L1655.9,379.3 L1656.5,378.0 L1657.1,376.6 L1657.8,375.2 L1658.4,373.9 L1659.0,372.5 L1659.7,371.2 L1660.3,369.8 L1661.0,368.5 L1661.6,367.1 L1662.2,365.8 L1662.9,364.4 L1663.5,363.0 L1664.2,361.7 L1664.8,360.3 L1665.4,359.0 L1666.0,357.6 L1666.6,356.2 L1667.2,354.8 L1667.8,353.5 L1668.4,352.1 L1669.0,350.7 L1669.5,349.3 L1670.1,347.9 L1670.7,346.5 L1671.2,345.1 L1671.8,343.8 L1672.4,342.4 L1673.0,341.0 L1673.5,339.6 L1674.1,338.2 L1674.7,336.8 L1675.3,335.5 L1675.9,334.1 L1676.5,332.7 L1677.1,331.3 L1677.7,330.0 L1678.3,328.6 L1678.9,327.2 L1679.5,325.8 L1680.1,324.5 L1680.7,323.1 L1681.3,321.7 L1681.9,320.4 L1682.5,319.0 L1683.1,317.6 L1683.7,316.2 L1684.4,314.9 L1685.0,313.5 L1685.6,312.1 L1686.2,310.8 L1686.8,309.4 L1687.4,308.0 L1688.0,306.7 L1688.7,305.3 L1689.3,303.9 L1689.9,302.6 L1690.5,301.2 L1691.2,299.8 L1691.8,298.5 L1692.4,297.1 L1693.0,295.7 L1693.7,294.4 L1694.3,293.0 L1694.9,291.7 L1695.6,290.3 L1696.2,288.9 L1696.8,287.6 L1697.5,286.2 L1698.1,284.9 L1698.7,283.5 L1699.4,282.1 L1700.0,280.8 L1700.6,279.4 L1701.2,278.1 L1701.9,276.7 L1702.5,275.3 L1703.1,274.0 L1703.8,272.6 L1704.4,271.3 L1705.0,269.9 L1705.7,268.5 L1706.3,267.2 L1706.9,265.8 L1707.5,264.4 L1708.2,263.1 L1708.8,261.7 L1709.4,260.4 L1710.0,259.0 L1710.7,257.6 L1711.3,256.3 L1711.9,254.9 L1712.5,253.5 L1713.1,252.2 L1713.8,250.8 L1714.4,249.4 L1715.0,248.1 L1715.6,246.7 L1716.2,245.3 L1716.8,243.9 L1717.4,242.6 L1718.0,241.2 L1718.7,239.8 L1719.3,238.5 L1719.9,237.1 L1720.5,235.7 L1721.1,234.4 L1721.7,233.0 L1722.3,231.6 L1722.9,230.2 L1723.5,228.9 L1724.2,227.5 L1724.8,226.1 L1725.4,224.8 L1726.0,223.4 L1726.6,222.0 L1727.2,220.7 L1727.8,219.3 L1728.5,217.9 L1729.1,216.6 L1729.7,215.2 L1730.3,213.8 L1730.9,212.5 L1731.6,211.1 L1732.2,209.7 L1732.8,208.4 L1733.5,207.0 L1734.1,205.7 L1734.7,204.3 L1735.4,202.9 L1736.0,201.6 L1736.6,200.2 L1737.3,198.9 L1737.9,197.5 L1738.6,196.2 L1739.2,194.8 L1739.8,193.5 L1740.5,192.1 L1741.2,190.8 L1741.8,189.4 L1742.5,188.1 L1743.1,186.7 L1743.8,185.4 L1744.4,184.0 L1745.1,182.7 L1745.8,181.3 L1746.4,180.0 L1747.1,178.6 L1747.8,177.3 L1748.4,175.9 L1749.1,174.6 L1749.8,173.3 L1750.4,171.9 L1751.1,170.6 L1751.8,169.2 L1752.4,167.9 L1753.1,166.5 L1753.8,165.2 L1754.4,163.9 L1755.1,162.5 L1755.8,161.2 L1756.4,159.8 L1757.1,158.5 L1757.8,157.1 L1758.4,155.8 L1759.1,154.5 L1759.8,153.1 L1760.4,151.8 L1761.1,150.4 L1761.8,149.1 L1762.4,147.7 L1763.1,146.4 L1763.8,145.0 L1764.4,143.7 L1765.1,142.3 L1765.7,141.0 L1766.4,139.6 L1767.1,138.3 L1767.7,136.9 L1768.4,135.6 L1769.0,134.3 L1769.7,132.9 L1770.3,131.6 L1771.0,130.2 L1771.6,128.9 L1772.3,127.5 L1773.0,126.2 L1773.6,124.8 L1774.3,123.5 L1774.9,122.1 L1775.6,120.8 L1776.2,119.4 L1776.9,118.1 L1777.5,116.7 L1778.2,115.4 L1778.9,114.0 L1779.5,112.7 L1780.2,111.3 L1780.8,110.0 L1781.5,108.6 L1782.2,107.3 L1782.8,105.9 L1783.5,104.6 L1784.2,103.2 L1784.8,101.9 L1785.5,100.6 L1786.1,99.2 L1786.8,97.9 L1787.5,96.5 L1788.1,95.2 L1788.8,93.8 L1789.5,92.5 L1790.2,91.2 L1790.8,89.8 L1791.5,88.5 L1792.2,87.1 L1792.8,85.8 L1793.5,84.4 L1794.2,83.1 L1794.8,81.8 L1795.5,80.4 L1796.2,79.1 L1796.8,77.7 L1797.5,76.4 L1798.2,75.0 L1798.9,73.7 L1799.5,72.4 L1800.2,71.0 L1800.6,70.1" fill="none" stroke="#ed7d31" stroke-width="2.7" stroke-linejoin="round" stroke-linecap="round"/>
<line x1="1379.6" y1="60.8" x2="1403.7" y2="60.8" stroke="#4472c4" stroke-width="2.4"/>
<text x="1404.1" y="73.9" font-size="37.5" font-family="'Liberation Serif','Times New Roman',serif" font-weight="bold" textLength="244.6" lengthAdjust="spacingAndGlyphs">20%C4-20%O<tspan font-size="19">2</tspan></text>
<line x1="1379.6" y1="111.7" x2="1403.7" y2="111.7" stroke="#548235" stroke-width="2.4"/>
<text x="1404.1" y="125.0" font-size="37.5" font-family="'Liberation Serif','Times New Roman',serif" font-weight="bold" textLength="244.6" lengthAdjust="spacingAndGlyphs">10%C4-20%O<tspan font-size="19">2</tspan></text>
<line x1="1379.6" y1="163.5" x2="1403.7" y2="163.5" stroke="#ed7d31" stroke-width="2.4"/>
<text x="1404.1" y="175.6" font-size="37.5" font-family="'Liberation Serif','Times New Roman',serif" font-weight="bold" textLength="118.9" lengthAdjust="spacingAndGlyphs">10%C4</text>
<text x="76.51" y="799.3" font-size="49" font-family="'Liberation Serif','Times New Roman',serif" textLength="52.99" lengthAdjust="spacingAndGlyphs">(a)</text>
<text x="146.57" y="799.3" font-size="49" font-family="'Liberation Serif','Times New Roman',serif" textLength="82.51" lengthAdjust="spacingAndGlyphs">10%</text>
<text x="245.94" y="799.3" font-size="49" font-family="'Liberation Serif','Times New Roman',serif" textLength="135.09" lengthAdjust="spacingAndGlyphs">C<tspan font-size="33" dy="6.5">4</tspan><tspan dy="-6.5">F</tspan><tspan font-size="33" dy="6.5">7</tspan><tspan dy="-6.5">N</tspan></text>
<text x="395.99" y="799.3" font-size="49" font-family="'Liberation Serif','Times New Roman',serif" textLength="156.25" lengthAdjust="spacingAndGlyphs">mixture</text>
<text x="566.60" y="799.3" font-size="49" font-family="'Liberation Serif','Times New Roman',serif" textLength="87.86" lengthAdjust="spacingAndGlyphs">with</text>
<text x="669.38" y="799.3" font-size="49" font-family="'Liberation Serif','Times New Roman',serif" textLength="81.69" lengthAdjust="spacingAndGlyphs">20%</text>
<text x="768.23" y="799.3" font-size="49" font-family="'Liberation Serif','Times New Roman',serif" textLength="52.75" lengthAdjust="spacingAndGlyphs">O<tspan font-size="33" dy="6.5">2</tspan></text>
<text x="976.09" y="799.3" font-size="49" font-family="'Liberation Serif','Times New Roman',serif" textLength="55.42" lengthAdjust="spacingAndGlyphs">(b)</text>
<text x="1049.50" y="799.3" font-size="49" font-family="'Liberation Serif','Times New Roman',serif" textLength="134.96" lengthAdjust="spacingAndGlyphs">C<tspan font-size="33" dy="6.5">4</tspan><tspan dy="-6.5">F</tspan><tspan font-size="33" dy="6.5">7</tspan><tspan dy="-6.5">N</tspan></text>
<text x="1199.78" y="799.3" font-size="49" font-family="'Liberation Serif','Times New Roman',serif" textLength="173.26" lengthAdjust="spacingAndGlyphs">mixtures</text>
<text x="1388.38" y="799.3" font-size="49" font-family="'Liberation Serif','Times New Roman',serif" textLength="86.98" lengthAdjust="spacingAndGlyphs">with</text>
<text x="1491.15" y="799.3" font-size="49" font-family="'Liberation Serif','Times New Roman',serif" textLength="81.93" lengthAdjust="spacingAndGlyphs">20%</text>
<text x="1588.65" y="799.3" font-size="49" font-family="'Liberation Serif','Times New Roman',serif" textLength="53.44" lengthAdjust="spacingAndGlyphs">O<tspan font-size="33" dy="6.5">2</tspan></text>
<text x="1658.41" y="799.3" font-size="49" font-family="'Liberation Serif','Times New Roman',serif" textLength="39.01" lengthAdjust="spacingAndGlyphs">at</text>
<text x="1713.50" y="799.3" font-size="49" font-family="'Liberation Serif','Times New Roman',serif" textLength="23.07" lengthAdjust="spacingAndGlyphs">1</text>
<text x="1752.97" y="799.3" font-size="49" font-family="'Liberation Serif','Times New Roman',serif" textLength="77.30" lengthAdjust="spacingAndGlyphs">bar.</text>
</svg></body></html>
